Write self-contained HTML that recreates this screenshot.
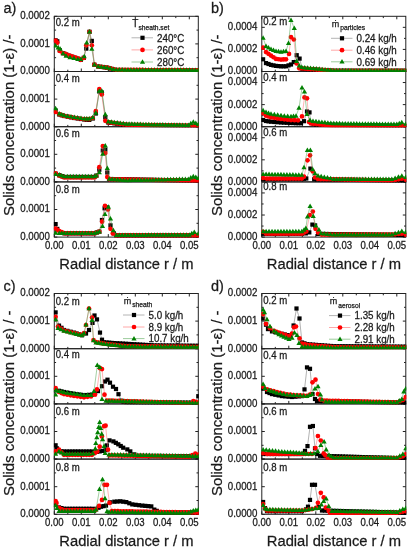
<!DOCTYPE html><html><head><meta charset="utf-8"><style>html,body{margin:0;padding:0;background:#fff;width:409px;height:550px;overflow:hidden}svg{display:block}text{font-family:"Liberation Sans", Arial, sans-serif;fill:#1a1a1a;stroke:#1a1a1a;stroke-width:0.25px}</style></head><body>
<svg width="409" height="550" viewBox="0 0 409 550">
<rect width="409" height="550" fill="#fff"/>
<g stroke="#222" stroke-width="1" fill="none">
<rect x="54.30" y="16.30" width="144.00" height="55.20"/>
<path d="M54.30 71.50V68.50M54.30 16.30V19.30"/>
<path d="M67.80 71.50V69.70M67.80 16.30V18.10"/>
<path d="M81.30 71.50V68.50M81.30 16.30V19.30"/>
<path d="M94.80 71.50V69.70M94.80 16.30V18.10"/>
<path d="M108.30 71.50V68.50M108.30 16.30V19.30"/>
<path d="M121.80 71.50V69.70M121.80 16.30V18.10"/>
<path d="M135.30 71.50V68.50M135.30 16.30V19.30"/>
<path d="M148.80 71.50V69.70M148.80 16.30V18.10"/>
<path d="M162.30 71.50V68.50M162.30 16.30V19.30"/>
<path d="M175.80 71.50V69.70M175.80 16.30V18.10"/>
<path d="M189.30 71.50V68.50M189.30 16.30V19.30"/>
<path d="M54.30 71.50H57.30M198.30 71.50H195.30"/>
<path d="M54.30 43.90H57.30M198.30 43.90H195.30"/>
<path d="M54.30 16.30H57.30M198.30 16.30H195.30"/>
<path d="M54.30 57.70H56.10M198.30 57.70H196.50"/>
<path d="M54.30 30.10H56.10M198.30 30.10H196.50"/>
<rect x="54.30" y="71.50" width="144.00" height="55.20"/>
<path d="M54.30 126.70V123.70"/>
<path d="M67.80 126.70V124.90"/>
<path d="M81.30 126.70V123.70"/>
<path d="M94.80 126.70V124.90"/>
<path d="M108.30 126.70V123.70"/>
<path d="M121.80 126.70V124.90"/>
<path d="M135.30 126.70V123.70"/>
<path d="M148.80 126.70V124.90"/>
<path d="M162.30 126.70V123.70"/>
<path d="M175.80 126.70V124.90"/>
<path d="M189.30 126.70V123.70"/>
<path d="M54.30 126.70H57.30M198.30 126.70H195.30"/>
<path d="M54.30 99.10H57.30M198.30 99.10H195.30"/>
<path d="M54.30 71.50H57.30M198.30 71.50H195.30"/>
<path d="M54.30 112.90H56.10M198.30 112.90H196.50"/>
<path d="M54.30 85.30H56.10M198.30 85.30H196.50"/>
<rect x="54.30" y="126.70" width="144.00" height="55.20"/>
<path d="M54.30 181.90V178.90"/>
<path d="M67.80 181.90V180.10"/>
<path d="M81.30 181.90V178.90"/>
<path d="M94.80 181.90V180.10"/>
<path d="M108.30 181.90V178.90"/>
<path d="M121.80 181.90V180.10"/>
<path d="M135.30 181.90V178.90"/>
<path d="M148.80 181.90V180.10"/>
<path d="M162.30 181.90V178.90"/>
<path d="M175.80 181.90V180.10"/>
<path d="M189.30 181.90V178.90"/>
<path d="M54.30 181.90H57.30M198.30 181.90H195.30"/>
<path d="M54.30 154.30H57.30M198.30 154.30H195.30"/>
<path d="M54.30 126.70H57.30M198.30 126.70H195.30"/>
<path d="M54.30 168.10H56.10M198.30 168.10H196.50"/>
<path d="M54.30 140.50H56.10M198.30 140.50H196.50"/>
<rect x="54.30" y="181.90" width="144.00" height="55.20"/>
<path d="M54.30 237.10V234.10"/>
<path d="M67.80 237.10V235.30"/>
<path d="M81.30 237.10V234.10"/>
<path d="M94.80 237.10V235.30"/>
<path d="M108.30 237.10V234.10"/>
<path d="M121.80 237.10V235.30"/>
<path d="M135.30 237.10V234.10"/>
<path d="M148.80 237.10V235.30"/>
<path d="M162.30 237.10V234.10"/>
<path d="M175.80 237.10V235.30"/>
<path d="M189.30 237.10V234.10"/>
<path d="M54.30 237.10H57.30M198.30 237.10H195.30"/>
<path d="M54.30 209.50H57.30M198.30 209.50H195.30"/>
<path d="M54.30 181.90H57.30M198.30 181.90H195.30"/>
<path d="M54.30 223.30H56.10M198.30 223.30H196.50"/>
<path d="M54.30 195.70H56.10M198.30 195.70H196.50"/>
</g>
<clipPath id="clipa0"><rect x="53.80" y="16.30" width="145.00" height="55.80"/></clipPath>
<g clip-path="url(#clipa0)">
<path d="M55.60 40.30 L57.30 41.30 L59.80 50.30 L63.30 53.30 L66.30 54.55 L69.30 55.80 L72.30 56.80 L75.30 57.80 L78.05 58.80 L80.80 59.80 L83.80 57.80 L86.30 48.60 L89.50 31.80 L91.80 40.90 L94.40 64.70 L98.30 66.50 L101.30 66.90 L104.30 67.30 L107.30 67.70 L110.30 68.47 L113.30 69.23 L116.30 70.00 L119.23 70.02 L122.16 70.04 L125.09 70.05 L128.01 70.07 L130.94 70.09 L133.87 70.11 L136.80 70.12 L139.73 70.14 L142.66 70.16 L145.59 70.18 L148.51 70.20 L151.44 70.21 L154.37 70.23 L157.30 70.25 L160.23 70.27 L163.16 70.29 L166.09 70.30 L169.01 70.32 L171.94 70.34 L174.87 70.36 L177.80 70.38 L180.73 70.39 L183.66 70.41 L186.59 70.43 L189.51 70.45 L192.44 70.46 L195.37 70.48 L198.30 70.50" fill="none" stroke="#666666" stroke-width="0.5"/><g fill="#000000"><rect x="53.50" y="38.20" width="4.2" height="4.2"/><rect x="55.20" y="39.20" width="4.2" height="4.2"/><rect x="57.70" y="48.20" width="4.2" height="4.2"/><rect x="61.20" y="51.20" width="4.2" height="4.2"/><rect x="64.20" y="52.45" width="4.2" height="4.2"/><rect x="67.20" y="53.70" width="4.2" height="4.2"/><rect x="70.20" y="54.70" width="4.2" height="4.2"/><rect x="73.20" y="55.70" width="4.2" height="4.2"/><rect x="75.95" y="56.70" width="4.2" height="4.2"/><rect x="78.70" y="57.70" width="4.2" height="4.2"/><rect x="81.70" y="55.70" width="4.2" height="4.2"/><rect x="84.20" y="46.50" width="4.2" height="4.2"/><rect x="87.40" y="29.70" width="4.2" height="4.2"/><rect x="89.70" y="38.80" width="4.2" height="4.2"/><rect x="92.30" y="62.60" width="4.2" height="4.2"/><rect x="96.20" y="64.40" width="4.2" height="4.2"/><rect x="99.20" y="64.80" width="4.2" height="4.2"/><rect x="102.20" y="65.20" width="4.2" height="4.2"/><rect x="105.20" y="65.60" width="4.2" height="4.2"/><rect x="108.20" y="66.37" width="4.2" height="4.2"/><rect x="111.20" y="67.13" width="4.2" height="4.2"/><rect x="114.20" y="67.90" width="4.2" height="4.2"/><rect x="117.13" y="67.92" width="4.2" height="4.2"/><rect x="120.06" y="67.94" width="4.2" height="4.2"/><rect x="122.99" y="67.95" width="4.2" height="4.2"/><rect x="125.91" y="67.97" width="4.2" height="4.2"/><rect x="128.84" y="67.99" width="4.2" height="4.2"/><rect x="131.77" y="68.01" width="4.2" height="4.2"/><rect x="134.70" y="68.03" width="4.2" height="4.2"/><rect x="137.63" y="68.04" width="4.2" height="4.2"/><rect x="140.56" y="68.06" width="4.2" height="4.2"/><rect x="143.49" y="68.08" width="4.2" height="4.2"/><rect x="146.41" y="68.10" width="4.2" height="4.2"/><rect x="149.34" y="68.11" width="4.2" height="4.2"/><rect x="152.27" y="68.13" width="4.2" height="4.2"/><rect x="155.20" y="68.15" width="4.2" height="4.2"/><rect x="158.13" y="68.17" width="4.2" height="4.2"/><rect x="161.06" y="68.19" width="4.2" height="4.2"/><rect x="163.99" y="68.20" width="4.2" height="4.2"/><rect x="166.91" y="68.22" width="4.2" height="4.2"/><rect x="169.84" y="68.24" width="4.2" height="4.2"/><rect x="172.77" y="68.26" width="4.2" height="4.2"/><rect x="175.70" y="68.28" width="4.2" height="4.2"/><rect x="178.63" y="68.29" width="4.2" height="4.2"/><rect x="181.56" y="68.31" width="4.2" height="4.2"/><rect x="184.49" y="68.33" width="4.2" height="4.2"/><rect x="187.41" y="68.35" width="4.2" height="4.2"/><rect x="190.34" y="68.36" width="4.2" height="4.2"/><rect x="193.27" y="68.38" width="4.2" height="4.2"/><rect x="196.20" y="68.40" width="4.2" height="4.2"/></g>
<path d="M55.60 40.70 L57.30 42.70 L59.70 51.00 L62.60 53.00 L65.60 53.90 L69.00 55.40 L71.90 56.40 L74.90 57.40 L77.80 58.30 L80.80 59.80 L83.70 57.90 L86.30 45.30 L89.50 31.80 L91.80 45.30 L94.40 64.70 L98.30 66.50 L101.30 66.90 L104.30 67.30 L107.30 67.70 L110.30 68.40 L113.30 69.10 L116.30 69.80 L119.23 69.82 L122.16 69.84 L125.09 69.85 L128.01 69.87 L130.94 69.89 L133.87 69.91 L136.80 69.92 L139.73 69.94 L142.66 69.96 L145.59 69.98 L148.51 70.00 L151.44 70.01 L154.37 70.03 L157.30 70.05 L160.23 70.07 L163.16 70.09 L166.09 70.10 L169.01 70.12 L171.94 70.14 L174.87 70.16 L177.80 70.17 L180.73 70.19 L183.66 70.21 L186.59 70.23 L189.51 70.25 L192.44 70.26 L195.37 70.28 L198.30 70.30" fill="none" stroke="#ff6a6a" stroke-width="0.5"/><g fill="#ff0000"><circle cx="55.60" cy="40.70" r="2.35"/><circle cx="57.30" cy="42.70" r="2.35"/><circle cx="59.70" cy="51.00" r="2.35"/><circle cx="62.60" cy="53.00" r="2.35"/><circle cx="65.60" cy="53.90" r="2.35"/><circle cx="69.00" cy="55.40" r="2.35"/><circle cx="71.90" cy="56.40" r="2.35"/><circle cx="74.90" cy="57.40" r="2.35"/><circle cx="77.80" cy="58.30" r="2.35"/><circle cx="80.80" cy="59.80" r="2.35"/><circle cx="83.70" cy="57.90" r="2.35"/><circle cx="86.30" cy="45.30" r="2.35"/><circle cx="89.50" cy="31.80" r="2.35"/><circle cx="91.80" cy="45.30" r="2.35"/><circle cx="94.40" cy="64.70" r="2.35"/><circle cx="98.30" cy="66.50" r="2.35"/><circle cx="101.30" cy="66.90" r="2.35"/><circle cx="104.30" cy="67.30" r="2.35"/><circle cx="107.30" cy="67.70" r="2.35"/><circle cx="110.30" cy="68.40" r="2.35"/><circle cx="113.30" cy="69.10" r="2.35"/><circle cx="116.30" cy="69.80" r="2.35"/><circle cx="119.23" cy="69.82" r="2.35"/><circle cx="122.16" cy="69.84" r="2.35"/><circle cx="125.09" cy="69.85" r="2.35"/><circle cx="128.01" cy="69.87" r="2.35"/><circle cx="130.94" cy="69.89" r="2.35"/><circle cx="133.87" cy="69.91" r="2.35"/><circle cx="136.80" cy="69.92" r="2.35"/><circle cx="139.73" cy="69.94" r="2.35"/><circle cx="142.66" cy="69.96" r="2.35"/><circle cx="145.59" cy="69.98" r="2.35"/><circle cx="148.51" cy="70.00" r="2.35"/><circle cx="151.44" cy="70.01" r="2.35"/><circle cx="154.37" cy="70.03" r="2.35"/><circle cx="157.30" cy="70.05" r="2.35"/><circle cx="160.23" cy="70.07" r="2.35"/><circle cx="163.16" cy="70.09" r="2.35"/><circle cx="166.09" cy="70.10" r="2.35"/><circle cx="169.01" cy="70.12" r="2.35"/><circle cx="171.94" cy="70.14" r="2.35"/><circle cx="174.87" cy="70.16" r="2.35"/><circle cx="177.80" cy="70.17" r="2.35"/><circle cx="180.73" cy="70.19" r="2.35"/><circle cx="183.66" cy="70.21" r="2.35"/><circle cx="186.59" cy="70.23" r="2.35"/><circle cx="189.51" cy="70.25" r="2.35"/><circle cx="192.44" cy="70.26" r="2.35"/><circle cx="195.37" cy="70.28" r="2.35"/><circle cx="198.30" cy="70.30" r="2.35"/></g>
<path d="M55.60 45.60 L58.20 47.60 L60.20 49.00 L63.10 53.50 L66.10 55.90 L70.00 57.40 L73.90 58.30 L77.80 59.30 L80.80 59.30 L84.20 56.40 L86.70 42.70 L89.50 31.80 L91.80 48.90 L94.40 64.70 L98.30 66.50 L101.30 66.90 L104.30 67.30 L107.30 67.70 L110.30 68.40 L113.30 69.10 L116.30 69.80 L119.23 69.81 L122.16 69.82 L125.09 69.83 L128.01 69.84 L130.94 69.85 L133.87 69.86 L136.80 69.88 L139.73 69.89 L142.66 69.90 L145.59 69.91 L148.51 69.92 L151.44 69.93 L154.37 69.94 L157.30 69.95 L160.23 69.96 L163.16 69.97 L166.09 69.98 L169.01 69.99 L171.94 70.00 L174.87 70.01 L177.80 70.03 L180.73 70.04 L183.66 70.05 L186.59 70.06 L189.51 70.07 L192.44 70.08 L195.37 70.09 L198.30 70.10" fill="none" stroke="#4aa04a" stroke-width="0.5"/><g fill="#008000"><path d="M55.60 42.90L58.20 47.40L53.00 47.40Z"/><path d="M58.20 44.90L60.80 49.40L55.60 49.40Z"/><path d="M60.20 46.30L62.80 50.80L57.60 50.80Z"/><path d="M63.10 50.80L65.70 55.30L60.50 55.30Z"/><path d="M66.10 53.20L68.70 57.70L63.50 57.70Z"/><path d="M70.00 54.70L72.60 59.20L67.40 59.20Z"/><path d="M73.90 55.60L76.50 60.10L71.30 60.10Z"/><path d="M77.80 56.60L80.40 61.10L75.20 61.10Z"/><path d="M80.80 56.60L83.40 61.10L78.20 61.10Z"/><path d="M84.20 53.70L86.80 58.20L81.60 58.20Z"/><path d="M86.70 40.00L89.30 44.50L84.10 44.50Z"/><path d="M89.50 29.10L92.10 33.60L86.90 33.60Z"/><path d="M91.80 46.20L94.40 50.70L89.20 50.70Z"/><path d="M94.40 62.00L97.00 66.50L91.80 66.50Z"/><path d="M98.30 63.80L100.90 68.30L95.70 68.30Z"/><path d="M101.30 64.20L103.90 68.70L98.70 68.70Z"/><path d="M104.30 64.60L106.90 69.10L101.70 69.10Z"/><path d="M107.30 65.00L109.90 69.50L104.70 69.50Z"/><path d="M110.30 65.70L112.90 70.20L107.70 70.20Z"/><path d="M113.30 66.40L115.90 70.90L110.70 70.90Z"/><path d="M116.30 67.10L118.90 71.60L113.70 71.60Z"/><path d="M119.23 67.11L121.83 71.61L116.63 71.61Z"/><path d="M122.16 67.12L124.76 71.62L119.56 71.62Z"/><path d="M125.09 67.13L127.69 71.63L122.49 71.63Z"/><path d="M128.01 67.14L130.61 71.64L125.41 71.64Z"/><path d="M130.94 67.15L133.54 71.65L128.34 71.65Z"/><path d="M133.87 67.16L136.47 71.66L131.27 71.66Z"/><path d="M136.80 67.17L139.40 71.67L134.20 71.67Z"/><path d="M139.73 67.19L142.33 71.69L137.13 71.69Z"/><path d="M142.66 67.20L145.26 71.70L140.06 71.70Z"/><path d="M145.59 67.21L148.19 71.71L142.99 71.71Z"/><path d="M148.51 67.22L151.11 71.72L145.91 71.72Z"/><path d="M151.44 67.23L154.04 71.73L148.84 71.73Z"/><path d="M154.37 67.24L156.97 71.74L151.77 71.74Z"/><path d="M157.30 67.25L159.90 71.75L154.70 71.75Z"/><path d="M160.23 67.26L162.83 71.76L157.63 71.76Z"/><path d="M163.16 67.27L165.76 71.77L160.56 71.77Z"/><path d="M166.09 67.28L168.69 71.78L163.49 71.78Z"/><path d="M169.01 67.29L171.61 71.79L166.41 71.79Z"/><path d="M171.94 67.30L174.54 71.80L169.34 71.80Z"/><path d="M174.87 67.31L177.47 71.81L172.27 71.81Z"/><path d="M177.80 67.33L180.40 71.83L175.20 71.83Z"/><path d="M180.73 67.34L183.33 71.84L178.13 71.84Z"/><path d="M183.66 67.35L186.26 71.85L181.06 71.85Z"/><path d="M186.59 67.36L189.19 71.86L183.99 71.86Z"/><path d="M189.51 67.37L192.11 71.87L186.91 71.87Z"/><path d="M192.44 67.38L195.04 71.88L189.84 71.88Z"/><path d="M195.37 67.39L197.97 71.89L192.77 71.89Z"/><path d="M198.30 67.40L200.90 71.90L195.70 71.90Z"/></g>
</g>
<clipPath id="clipa1"><rect x="53.80" y="71.50" width="145.00" height="55.80"/></clipPath>
<g clip-path="url(#clipa1)">
<path d="M55.60 110.50 L59.30 114.50 L61.80 115.25 L64.30 116.00 L67.63 116.67 L70.97 117.33 L74.30 118.00 L77.63 118.50 L80.97 119.00 L84.30 119.50 L86.80 119.70 L89.30 119.90 L92.80 118.50 L95.80 113.50 L99.30 91.50 L101.80 92.50 L105.30 117.30 L108.30 122.50 L111.30 122.90 L114.30 123.30 L117.30 123.70 L120.30 124.10 L123.30 124.50 L126.30 124.90 L129.18 124.94 L132.06 124.99 L134.94 125.03 L137.82 125.08 L140.70 125.12 L143.58 125.16 L146.46 125.21 L149.34 125.25 L152.22 125.30 L155.10 125.34 L157.98 125.38 L160.86 125.43 L163.74 125.47 L166.62 125.52 L169.50 125.56 L172.38 125.60 L175.26 125.65 L178.14 125.69 L181.02 125.74 L183.90 125.78 L186.78 125.82 L189.66 125.87 L192.54 125.91 L195.42 125.96 L198.30 126.00" fill="none" stroke="#666666" stroke-width="0.5"/><g fill="#000000"><rect x="53.50" y="108.40" width="4.2" height="4.2"/><rect x="57.20" y="112.40" width="4.2" height="4.2"/><rect x="59.70" y="113.15" width="4.2" height="4.2"/><rect x="62.20" y="113.90" width="4.2" height="4.2"/><rect x="65.53" y="114.57" width="4.2" height="4.2"/><rect x="68.87" y="115.23" width="4.2" height="4.2"/><rect x="72.20" y="115.90" width="4.2" height="4.2"/><rect x="75.53" y="116.40" width="4.2" height="4.2"/><rect x="78.87" y="116.90" width="4.2" height="4.2"/><rect x="82.20" y="117.40" width="4.2" height="4.2"/><rect x="84.70" y="117.60" width="4.2" height="4.2"/><rect x="87.20" y="117.80" width="4.2" height="4.2"/><rect x="90.70" y="116.40" width="4.2" height="4.2"/><rect x="93.70" y="111.40" width="4.2" height="4.2"/><rect x="97.20" y="89.40" width="4.2" height="4.2"/><rect x="99.70" y="90.40" width="4.2" height="4.2"/><rect x="103.20" y="115.20" width="4.2" height="4.2"/><rect x="106.20" y="120.40" width="4.2" height="4.2"/><rect x="109.20" y="120.80" width="4.2" height="4.2"/><rect x="112.20" y="121.20" width="4.2" height="4.2"/><rect x="115.20" y="121.60" width="4.2" height="4.2"/><rect x="118.20" y="122.00" width="4.2" height="4.2"/><rect x="121.20" y="122.40" width="4.2" height="4.2"/><rect x="124.20" y="122.80" width="4.2" height="4.2"/><rect x="127.08" y="122.84" width="4.2" height="4.2"/><rect x="129.96" y="122.89" width="4.2" height="4.2"/><rect x="132.84" y="122.93" width="4.2" height="4.2"/><rect x="135.72" y="122.98" width="4.2" height="4.2"/><rect x="138.60" y="123.02" width="4.2" height="4.2"/><rect x="141.48" y="123.06" width="4.2" height="4.2"/><rect x="144.36" y="123.11" width="4.2" height="4.2"/><rect x="147.24" y="123.15" width="4.2" height="4.2"/><rect x="150.12" y="123.20" width="4.2" height="4.2"/><rect x="153.00" y="123.24" width="4.2" height="4.2"/><rect x="155.88" y="123.28" width="4.2" height="4.2"/><rect x="158.76" y="123.33" width="4.2" height="4.2"/><rect x="161.64" y="123.37" width="4.2" height="4.2"/><rect x="164.52" y="123.42" width="4.2" height="4.2"/><rect x="167.40" y="123.46" width="4.2" height="4.2"/><rect x="170.28" y="123.50" width="4.2" height="4.2"/><rect x="173.16" y="123.55" width="4.2" height="4.2"/><rect x="176.04" y="123.59" width="4.2" height="4.2"/><rect x="178.92" y="123.64" width="4.2" height="4.2"/><rect x="181.80" y="123.68" width="4.2" height="4.2"/><rect x="184.68" y="123.72" width="4.2" height="4.2"/><rect x="187.56" y="123.77" width="4.2" height="4.2"/><rect x="190.44" y="123.81" width="4.2" height="4.2"/><rect x="193.32" y="123.86" width="4.2" height="4.2"/><rect x="196.20" y="123.90" width="4.2" height="4.2"/></g>
<path d="M55.60 112.00 L59.30 114.30 L61.80 115.15 L64.30 116.00 L67.63 116.60 L70.97 117.20 L74.30 117.80 L77.63 118.27 L80.97 118.73 L84.30 119.20 L86.80 119.20 L89.30 119.20 L92.80 118.00 L95.80 111.10 L99.30 89.10 L101.80 94.40 L105.30 120.80 L108.30 122.30 L111.30 122.70 L114.30 123.10 L117.30 123.50 L120.30 123.90 L123.30 124.30 L126.30 124.70 L129.18 124.75 L132.06 124.80 L134.94 124.84 L137.82 124.89 L140.70 124.94 L143.58 124.99 L146.46 125.04 L149.34 125.08 L152.22 125.13 L155.10 125.18 L157.98 125.23 L160.86 125.28 L163.74 125.32 L166.62 125.37 L169.50 125.42 L172.38 125.47 L175.26 125.52 L178.14 125.56 L181.02 125.61 L183.90 125.66 L186.78 125.71 L189.66 125.76 L192.54 125.80 L195.42 125.85 L198.30 125.90" fill="none" stroke="#ff6a6a" stroke-width="0.5"/><g fill="#ff0000"><circle cx="55.60" cy="112.00" r="2.35"/><circle cx="59.30" cy="114.30" r="2.35"/><circle cx="61.80" cy="115.15" r="2.35"/><circle cx="64.30" cy="116.00" r="2.35"/><circle cx="67.63" cy="116.60" r="2.35"/><circle cx="70.97" cy="117.20" r="2.35"/><circle cx="74.30" cy="117.80" r="2.35"/><circle cx="77.63" cy="118.27" r="2.35"/><circle cx="80.97" cy="118.73" r="2.35"/><circle cx="84.30" cy="119.20" r="2.35"/><circle cx="86.80" cy="119.20" r="2.35"/><circle cx="89.30" cy="119.20" r="2.35"/><circle cx="92.80" cy="118.00" r="2.35"/><circle cx="95.80" cy="111.10" r="2.35"/><circle cx="99.30" cy="89.10" r="2.35"/><circle cx="101.80" cy="94.40" r="2.35"/><circle cx="105.30" cy="120.80" r="2.35"/><circle cx="108.30" cy="122.30" r="2.35"/><circle cx="111.30" cy="122.70" r="2.35"/><circle cx="114.30" cy="123.10" r="2.35"/><circle cx="117.30" cy="123.50" r="2.35"/><circle cx="120.30" cy="123.90" r="2.35"/><circle cx="123.30" cy="124.30" r="2.35"/><circle cx="126.30" cy="124.70" r="2.35"/><circle cx="129.18" cy="124.75" r="2.35"/><circle cx="132.06" cy="124.80" r="2.35"/><circle cx="134.94" cy="124.84" r="2.35"/><circle cx="137.82" cy="124.89" r="2.35"/><circle cx="140.70" cy="124.94" r="2.35"/><circle cx="143.58" cy="124.99" r="2.35"/><circle cx="146.46" cy="125.04" r="2.35"/><circle cx="149.34" cy="125.08" r="2.35"/><circle cx="152.22" cy="125.13" r="2.35"/><circle cx="155.10" cy="125.18" r="2.35"/><circle cx="157.98" cy="125.23" r="2.35"/><circle cx="160.86" cy="125.28" r="2.35"/><circle cx="163.74" cy="125.32" r="2.35"/><circle cx="166.62" cy="125.37" r="2.35"/><circle cx="169.50" cy="125.42" r="2.35"/><circle cx="172.38" cy="125.47" r="2.35"/><circle cx="175.26" cy="125.52" r="2.35"/><circle cx="178.14" cy="125.56" r="2.35"/><circle cx="181.02" cy="125.61" r="2.35"/><circle cx="183.90" cy="125.66" r="2.35"/><circle cx="186.78" cy="125.71" r="2.35"/><circle cx="189.66" cy="125.76" r="2.35"/><circle cx="192.54" cy="125.80" r="2.35"/><circle cx="195.42" cy="125.85" r="2.35"/><circle cx="198.30" cy="125.90" r="2.35"/></g>
<path d="M55.60 108.50 L59.30 113.80 L61.80 114.65 L64.30 115.50 L67.63 116.10 L70.97 116.70 L74.30 117.30 L77.63 117.77 L80.97 118.23 L84.30 118.70 L86.80 118.70 L89.30 118.70 L92.80 117.50 L95.80 112.90 L99.30 90.90 L101.80 90.90 L105.30 114.50 L108.30 121.70 L111.30 122.07 L114.30 122.43 L117.30 122.80 L120.30 123.17 L123.30 123.53 L126.30 123.90 L129.10 123.98 L131.90 124.06 L134.70 124.14 L137.50 124.22 L140.30 124.30 L143.10 124.38 L145.90 124.46 L148.70 124.54 L151.50 124.62 L154.30 124.70 L157.13 124.74 L159.97 124.78 L162.80 124.82 L165.63 124.87 L168.47 124.91 L171.30 124.95 L174.13 124.99 L176.97 125.03 L179.80 125.07 L182.63 125.12 L185.47 125.16 L188.30 125.20 L190.80 123.55 L193.30 121.90 L195.80 123.15 L198.30 124.40" fill="none" stroke="#4aa04a" stroke-width="0.5"/><g fill="#008000"><path d="M55.60 105.80L58.20 110.30L53.00 110.30Z"/><path d="M59.30 111.10L61.90 115.60L56.70 115.60Z"/><path d="M61.80 111.95L64.40 116.45L59.20 116.45Z"/><path d="M64.30 112.80L66.90 117.30L61.70 117.30Z"/><path d="M67.63 113.40L70.23 117.90L65.03 117.90Z"/><path d="M70.97 114.00L73.57 118.50L68.37 118.50Z"/><path d="M74.30 114.60L76.90 119.10L71.70 119.10Z"/><path d="M77.63 115.07L80.23 119.57L75.03 119.57Z"/><path d="M80.97 115.53L83.57 120.03L78.37 120.03Z"/><path d="M84.30 116.00L86.90 120.50L81.70 120.50Z"/><path d="M86.80 116.00L89.40 120.50L84.20 120.50Z"/><path d="M89.30 116.00L91.90 120.50L86.70 120.50Z"/><path d="M92.80 114.80L95.40 119.30L90.20 119.30Z"/><path d="M95.80 110.20L98.40 114.70L93.20 114.70Z"/><path d="M99.30 88.20L101.90 92.70L96.70 92.70Z"/><path d="M101.80 88.20L104.40 92.70L99.20 92.70Z"/><path d="M105.30 111.80L107.90 116.30L102.70 116.30Z"/><path d="M108.30 119.00L110.90 123.50L105.70 123.50Z"/><path d="M111.30 119.37L113.90 123.87L108.70 123.87Z"/><path d="M114.30 119.73L116.90 124.23L111.70 124.23Z"/><path d="M117.30 120.10L119.90 124.60L114.70 124.60Z"/><path d="M120.30 120.47L122.90 124.97L117.70 124.97Z"/><path d="M123.30 120.83L125.90 125.33L120.70 125.33Z"/><path d="M126.30 121.20L128.90 125.70L123.70 125.70Z"/><path d="M129.10 121.28L131.70 125.78L126.50 125.78Z"/><path d="M131.90 121.36L134.50 125.86L129.30 125.86Z"/><path d="M134.70 121.44L137.30 125.94L132.10 125.94Z"/><path d="M137.50 121.52L140.10 126.02L134.90 126.02Z"/><path d="M140.30 121.60L142.90 126.10L137.70 126.10Z"/><path d="M143.10 121.68L145.70 126.18L140.50 126.18Z"/><path d="M145.90 121.76L148.50 126.26L143.30 126.26Z"/><path d="M148.70 121.84L151.30 126.34L146.10 126.34Z"/><path d="M151.50 121.92L154.10 126.42L148.90 126.42Z"/><path d="M154.30 122.00L156.90 126.50L151.70 126.50Z"/><path d="M157.13 122.04L159.73 126.54L154.53 126.54Z"/><path d="M159.97 122.08L162.57 126.58L157.37 126.58Z"/><path d="M162.80 122.12L165.40 126.62L160.20 126.62Z"/><path d="M165.63 122.17L168.23 126.67L163.03 126.67Z"/><path d="M168.47 122.21L171.07 126.71L165.87 126.71Z"/><path d="M171.30 122.25L173.90 126.75L168.70 126.75Z"/><path d="M174.13 122.29L176.73 126.79L171.53 126.79Z"/><path d="M176.97 122.33L179.57 126.83L174.37 126.83Z"/><path d="M179.80 122.37L182.40 126.87L177.20 126.87Z"/><path d="M182.63 122.42L185.23 126.92L180.03 126.92Z"/><path d="M185.47 122.46L188.07 126.96L182.87 126.96Z"/><path d="M188.30 122.50L190.90 127.00L185.70 127.00Z"/><path d="M190.80 120.85L193.40 125.35L188.20 125.35Z"/><path d="M193.30 119.20L195.90 123.70L190.70 123.70Z"/><path d="M195.80 120.45L198.40 124.95L193.20 124.95Z"/><path d="M198.30 121.70L200.90 126.20L195.70 126.20Z"/></g>
</g>
<clipPath id="clipa2"><rect x="53.80" y="126.70" width="145.00" height="55.80"/></clipPath>
<g clip-path="url(#clipa2)">
<path d="M55.60 173.70 L59.30 175.20 L61.80 176.10 L64.30 177.00 L67.30 177.00 L70.30 177.00 L73.30 177.00 L76.30 177.00 L79.30 177.00 L82.30 177.00 L85.30 177.00 L88.30 177.00 L91.30 177.00 L94.30 177.00 L96.30 175.60 L99.30 169.70 L102.80 150.50 L105.30 149.60 L107.30 172.50 L109.30 179.00 L112.17 179.06 L115.04 179.12 L117.91 179.17 L120.78 179.23 L123.65 179.29 L126.53 179.35 L129.40 179.41 L132.27 179.46 L135.14 179.52 L138.01 179.58 L140.88 179.64 L143.75 179.70 L146.62 179.75 L149.49 179.81 L152.36 179.87 L155.24 179.93 L158.11 179.99 L160.98 180.05 L163.85 180.10 L166.72 180.16 L169.59 180.22 L172.46 180.28 L175.33 180.34 L178.20 180.39 L181.07 180.45 L183.95 180.51 L186.82 180.57 L189.69 180.63 L192.56 180.68 L195.43 180.74 L198.30 180.80" fill="none" stroke="#666666" stroke-width="0.5"/><g fill="#000000"><rect x="53.50" y="171.60" width="4.2" height="4.2"/><rect x="57.20" y="173.10" width="4.2" height="4.2"/><rect x="59.70" y="174.00" width="4.2" height="4.2"/><rect x="62.20" y="174.90" width="4.2" height="4.2"/><rect x="65.20" y="174.90" width="4.2" height="4.2"/><rect x="68.20" y="174.90" width="4.2" height="4.2"/><rect x="71.20" y="174.90" width="4.2" height="4.2"/><rect x="74.20" y="174.90" width="4.2" height="4.2"/><rect x="77.20" y="174.90" width="4.2" height="4.2"/><rect x="80.20" y="174.90" width="4.2" height="4.2"/><rect x="83.20" y="174.90" width="4.2" height="4.2"/><rect x="86.20" y="174.90" width="4.2" height="4.2"/><rect x="89.20" y="174.90" width="4.2" height="4.2"/><rect x="92.20" y="174.90" width="4.2" height="4.2"/><rect x="94.20" y="173.50" width="4.2" height="4.2"/><rect x="97.20" y="167.60" width="4.2" height="4.2"/><rect x="100.70" y="148.40" width="4.2" height="4.2"/><rect x="103.20" y="147.50" width="4.2" height="4.2"/><rect x="105.20" y="170.40" width="4.2" height="4.2"/><rect x="107.20" y="176.90" width="4.2" height="4.2"/><rect x="110.07" y="176.96" width="4.2" height="4.2"/><rect x="112.94" y="177.02" width="4.2" height="4.2"/><rect x="115.81" y="177.07" width="4.2" height="4.2"/><rect x="118.68" y="177.13" width="4.2" height="4.2"/><rect x="121.55" y="177.19" width="4.2" height="4.2"/><rect x="124.43" y="177.25" width="4.2" height="4.2"/><rect x="127.30" y="177.31" width="4.2" height="4.2"/><rect x="130.17" y="177.36" width="4.2" height="4.2"/><rect x="133.04" y="177.42" width="4.2" height="4.2"/><rect x="135.91" y="177.48" width="4.2" height="4.2"/><rect x="138.78" y="177.54" width="4.2" height="4.2"/><rect x="141.65" y="177.60" width="4.2" height="4.2"/><rect x="144.52" y="177.65" width="4.2" height="4.2"/><rect x="147.39" y="177.71" width="4.2" height="4.2"/><rect x="150.26" y="177.77" width="4.2" height="4.2"/><rect x="153.14" y="177.83" width="4.2" height="4.2"/><rect x="156.01" y="177.89" width="4.2" height="4.2"/><rect x="158.88" y="177.95" width="4.2" height="4.2"/><rect x="161.75" y="178.00" width="4.2" height="4.2"/><rect x="164.62" y="178.06" width="4.2" height="4.2"/><rect x="167.49" y="178.12" width="4.2" height="4.2"/><rect x="170.36" y="178.18" width="4.2" height="4.2"/><rect x="173.23" y="178.24" width="4.2" height="4.2"/><rect x="176.10" y="178.29" width="4.2" height="4.2"/><rect x="178.97" y="178.35" width="4.2" height="4.2"/><rect x="181.85" y="178.41" width="4.2" height="4.2"/><rect x="184.72" y="178.47" width="4.2" height="4.2"/><rect x="187.59" y="178.53" width="4.2" height="4.2"/><rect x="190.46" y="178.58" width="4.2" height="4.2"/><rect x="193.33" y="178.64" width="4.2" height="4.2"/><rect x="196.20" y="178.70" width="4.2" height="4.2"/></g>
<path d="M55.60 173.40 L59.30 175.70 L61.80 176.60 L64.30 177.50 L67.30 177.50 L70.30 177.50 L73.30 177.50 L76.30 177.50 L79.30 177.50 L82.30 177.50 L85.30 177.50 L88.30 177.50 L91.30 177.50 L94.30 177.50 L96.30 176.10 L99.30 167.20 L102.80 146.10 L105.30 153.10 L107.30 176.90 L109.30 179.20 L112.17 179.25 L115.04 179.30 L117.91 179.35 L120.78 179.41 L123.65 179.46 L126.53 179.51 L129.40 179.56 L132.27 179.61 L135.14 179.66 L138.01 179.72 L140.88 179.77 L143.75 179.82 L146.62 179.87 L149.49 179.92 L152.36 179.97 L155.24 180.03 L158.11 180.08 L160.98 180.13 L163.85 180.18 L166.72 180.23 L169.59 180.28 L172.46 180.34 L175.33 180.39 L178.20 180.44 L181.07 180.49 L183.95 180.54 L186.82 180.59 L189.69 180.65 L192.56 180.70 L195.43 180.75 L198.30 180.80" fill="none" stroke="#ff6a6a" stroke-width="0.5"/><g fill="#ff0000"><circle cx="55.60" cy="173.40" r="2.35"/><circle cx="59.30" cy="175.70" r="2.35"/><circle cx="61.80" cy="176.60" r="2.35"/><circle cx="64.30" cy="177.50" r="2.35"/><circle cx="67.30" cy="177.50" r="2.35"/><circle cx="70.30" cy="177.50" r="2.35"/><circle cx="73.30" cy="177.50" r="2.35"/><circle cx="76.30" cy="177.50" r="2.35"/><circle cx="79.30" cy="177.50" r="2.35"/><circle cx="82.30" cy="177.50" r="2.35"/><circle cx="85.30" cy="177.50" r="2.35"/><circle cx="88.30" cy="177.50" r="2.35"/><circle cx="91.30" cy="177.50" r="2.35"/><circle cx="94.30" cy="177.50" r="2.35"/><circle cx="96.30" cy="176.10" r="2.35"/><circle cx="99.30" cy="167.20" r="2.35"/><circle cx="102.80" cy="146.10" r="2.35"/><circle cx="105.30" cy="153.10" r="2.35"/><circle cx="107.30" cy="176.90" r="2.35"/><circle cx="109.30" cy="179.20" r="2.35"/><circle cx="112.17" cy="179.25" r="2.35"/><circle cx="115.04" cy="179.30" r="2.35"/><circle cx="117.91" cy="179.35" r="2.35"/><circle cx="120.78" cy="179.41" r="2.35"/><circle cx="123.65" cy="179.46" r="2.35"/><circle cx="126.53" cy="179.51" r="2.35"/><circle cx="129.40" cy="179.56" r="2.35"/><circle cx="132.27" cy="179.61" r="2.35"/><circle cx="135.14" cy="179.66" r="2.35"/><circle cx="138.01" cy="179.72" r="2.35"/><circle cx="140.88" cy="179.77" r="2.35"/><circle cx="143.75" cy="179.82" r="2.35"/><circle cx="146.62" cy="179.87" r="2.35"/><circle cx="149.49" cy="179.92" r="2.35"/><circle cx="152.36" cy="179.97" r="2.35"/><circle cx="155.24" cy="180.03" r="2.35"/><circle cx="158.11" cy="180.08" r="2.35"/><circle cx="160.98" cy="180.13" r="2.35"/><circle cx="163.85" cy="180.18" r="2.35"/><circle cx="166.72" cy="180.23" r="2.35"/><circle cx="169.59" cy="180.28" r="2.35"/><circle cx="172.46" cy="180.34" r="2.35"/><circle cx="175.33" cy="180.39" r="2.35"/><circle cx="178.20" cy="180.44" r="2.35"/><circle cx="181.07" cy="180.49" r="2.35"/><circle cx="183.95" cy="180.54" r="2.35"/><circle cx="186.82" cy="180.59" r="2.35"/><circle cx="189.69" cy="180.65" r="2.35"/><circle cx="192.56" cy="180.70" r="2.35"/><circle cx="195.43" cy="180.75" r="2.35"/><circle cx="198.30" cy="180.80" r="2.35"/></g>
<path d="M55.60 174.20 L59.30 174.70 L61.80 175.60 L64.30 176.50 L67.30 176.50 L70.30 176.50 L73.30 176.50 L76.30 176.50 L79.30 176.50 L82.30 176.50 L85.30 176.50 L88.30 176.50 L91.30 176.50 L94.30 176.50 L96.30 175.60 L99.30 172.50 L102.80 154.00 L105.30 145.70 L107.30 168.10 L109.30 179.00 L112.13 179.23 L114.97 179.47 L117.80 179.70 L120.63 179.93 L123.47 180.17 L126.30 180.40 L129.25 180.34 L132.20 180.28 L135.16 180.21 L138.11 180.15 L141.06 180.09 L144.01 180.03 L146.97 179.97 L149.92 179.90 L152.87 179.84 L155.82 179.78 L158.78 179.72 L161.73 179.66 L164.68 179.60 L167.63 179.53 L170.59 179.47 L173.54 179.41 L176.49 179.35 L179.44 179.29 L182.40 179.22 L185.35 179.16 L188.30 179.10 L190.80 177.80 L193.30 176.50 L195.80 177.30 L198.30 178.10" fill="none" stroke="#4aa04a" stroke-width="0.5"/><g fill="#008000"><path d="M55.60 171.50L58.20 176.00L53.00 176.00Z"/><path d="M59.30 172.00L61.90 176.50L56.70 176.50Z"/><path d="M61.80 172.90L64.40 177.40L59.20 177.40Z"/><path d="M64.30 173.80L66.90 178.30L61.70 178.30Z"/><path d="M67.30 173.80L69.90 178.30L64.70 178.30Z"/><path d="M70.30 173.80L72.90 178.30L67.70 178.30Z"/><path d="M73.30 173.80L75.90 178.30L70.70 178.30Z"/><path d="M76.30 173.80L78.90 178.30L73.70 178.30Z"/><path d="M79.30 173.80L81.90 178.30L76.70 178.30Z"/><path d="M82.30 173.80L84.90 178.30L79.70 178.30Z"/><path d="M85.30 173.80L87.90 178.30L82.70 178.30Z"/><path d="M88.30 173.80L90.90 178.30L85.70 178.30Z"/><path d="M91.30 173.80L93.90 178.30L88.70 178.30Z"/><path d="M94.30 173.80L96.90 178.30L91.70 178.30Z"/><path d="M96.30 172.90L98.90 177.40L93.70 177.40Z"/><path d="M99.30 169.80L101.90 174.30L96.70 174.30Z"/><path d="M102.80 151.30L105.40 155.80L100.20 155.80Z"/><path d="M105.30 143.00L107.90 147.50L102.70 147.50Z"/><path d="M107.30 165.40L109.90 169.90L104.70 169.90Z"/><path d="M109.30 176.30L111.90 180.80L106.70 180.80Z"/><path d="M112.13 176.53L114.73 181.03L109.53 181.03Z"/><path d="M114.97 176.77L117.57 181.27L112.37 181.27Z"/><path d="M117.80 177.00L120.40 181.50L115.20 181.50Z"/><path d="M120.63 177.23L123.23 181.73L118.03 181.73Z"/><path d="M123.47 177.47L126.07 181.97L120.87 181.97Z"/><path d="M126.30 177.70L128.90 182.20L123.70 182.20Z"/><path d="M129.25 177.64L131.85 182.14L126.65 182.14Z"/><path d="M132.20 177.58L134.80 182.08L129.60 182.08Z"/><path d="M135.16 177.51L137.76 182.01L132.56 182.01Z"/><path d="M138.11 177.45L140.71 181.95L135.51 181.95Z"/><path d="M141.06 177.39L143.66 181.89L138.46 181.89Z"/><path d="M144.01 177.33L146.61 181.83L141.41 181.83Z"/><path d="M146.97 177.27L149.57 181.77L144.37 181.77Z"/><path d="M149.92 177.20L152.52 181.70L147.32 181.70Z"/><path d="M152.87 177.14L155.47 181.64L150.27 181.64Z"/><path d="M155.82 177.08L158.42 181.58L153.22 181.58Z"/><path d="M158.78 177.02L161.38 181.52L156.18 181.52Z"/><path d="M161.73 176.96L164.33 181.46L159.13 181.46Z"/><path d="M164.68 176.90L167.28 181.40L162.08 181.40Z"/><path d="M167.63 176.83L170.23 181.33L165.03 181.33Z"/><path d="M170.59 176.77L173.19 181.27L167.99 181.27Z"/><path d="M173.54 176.71L176.14 181.21L170.94 181.21Z"/><path d="M176.49 176.65L179.09 181.15L173.89 181.15Z"/><path d="M179.44 176.59L182.04 181.09L176.84 181.09Z"/><path d="M182.40 176.52L185.00 181.02L179.80 181.02Z"/><path d="M185.35 176.46L187.95 180.96L182.75 180.96Z"/><path d="M188.30 176.40L190.90 180.90L185.70 180.90Z"/><path d="M190.80 175.10L193.40 179.60L188.20 179.60Z"/><path d="M193.30 173.80L195.90 178.30L190.70 178.30Z"/><path d="M195.80 174.60L198.40 179.10L193.20 179.10Z"/><path d="M198.30 175.40L200.90 179.90L195.70 179.90Z"/></g>
</g>
<clipPath id="clipa3"><rect x="53.80" y="181.90" width="145.00" height="55.80"/></clipPath>
<g clip-path="url(#clipa3)">
<path d="M55.60 224.10 L57.30 228.90 L60.30 232.60 L64.30 233.30 L67.30 233.30 L70.30 233.30 L73.30 233.30 L76.30 233.30 L79.30 233.30 L82.30 233.30 L85.30 233.30 L88.30 233.30 L91.30 233.30 L94.30 233.30 L96.80 232.50 L99.30 231.70 L101.95 220.00 L104.60 208.30 L107.30 207.40 L110.50 225.40 L113.80 233.40 L116.30 235.40 L119.23 235.40 L122.16 235.40 L125.09 235.40 L128.01 235.40 L130.94 235.40 L133.87 235.40 L136.80 235.40 L139.73 235.40 L142.66 235.40 L145.59 235.40 L148.51 235.40 L151.44 235.40 L154.37 235.40 L157.30 235.40 L160.23 235.40 L163.16 235.40 L166.09 235.40 L169.01 235.40 L171.94 235.40 L174.87 235.40 L177.80 235.40 L180.73 235.40 L183.66 235.40 L186.59 235.40 L189.51 235.40 L192.44 235.40 L195.37 235.40 L198.30 235.40" fill="none" stroke="#666666" stroke-width="0.5"/><g fill="#000000"><rect x="53.50" y="222.00" width="4.2" height="4.2"/><rect x="55.20" y="226.80" width="4.2" height="4.2"/><rect x="58.20" y="230.50" width="4.2" height="4.2"/><rect x="62.20" y="231.20" width="4.2" height="4.2"/><rect x="65.20" y="231.20" width="4.2" height="4.2"/><rect x="68.20" y="231.20" width="4.2" height="4.2"/><rect x="71.20" y="231.20" width="4.2" height="4.2"/><rect x="74.20" y="231.20" width="4.2" height="4.2"/><rect x="77.20" y="231.20" width="4.2" height="4.2"/><rect x="80.20" y="231.20" width="4.2" height="4.2"/><rect x="83.20" y="231.20" width="4.2" height="4.2"/><rect x="86.20" y="231.20" width="4.2" height="4.2"/><rect x="89.20" y="231.20" width="4.2" height="4.2"/><rect x="92.20" y="231.20" width="4.2" height="4.2"/><rect x="94.70" y="230.40" width="4.2" height="4.2"/><rect x="97.20" y="229.60" width="4.2" height="4.2"/><rect x="99.85" y="217.90" width="4.2" height="4.2"/><rect x="102.50" y="206.20" width="4.2" height="4.2"/><rect x="105.20" y="205.30" width="4.2" height="4.2"/><rect x="108.40" y="223.30" width="4.2" height="4.2"/><rect x="111.70" y="231.30" width="4.2" height="4.2"/><rect x="114.20" y="233.30" width="4.2" height="4.2"/><rect x="117.13" y="233.30" width="4.2" height="4.2"/><rect x="120.06" y="233.30" width="4.2" height="4.2"/><rect x="122.99" y="233.30" width="4.2" height="4.2"/><rect x="125.91" y="233.30" width="4.2" height="4.2"/><rect x="128.84" y="233.30" width="4.2" height="4.2"/><rect x="131.77" y="233.30" width="4.2" height="4.2"/><rect x="134.70" y="233.30" width="4.2" height="4.2"/><rect x="137.63" y="233.30" width="4.2" height="4.2"/><rect x="140.56" y="233.30" width="4.2" height="4.2"/><rect x="143.49" y="233.30" width="4.2" height="4.2"/><rect x="146.41" y="233.30" width="4.2" height="4.2"/><rect x="149.34" y="233.30" width="4.2" height="4.2"/><rect x="152.27" y="233.30" width="4.2" height="4.2"/><rect x="155.20" y="233.30" width="4.2" height="4.2"/><rect x="158.13" y="233.30" width="4.2" height="4.2"/><rect x="161.06" y="233.30" width="4.2" height="4.2"/><rect x="163.99" y="233.30" width="4.2" height="4.2"/><rect x="166.91" y="233.30" width="4.2" height="4.2"/><rect x="169.84" y="233.30" width="4.2" height="4.2"/><rect x="172.77" y="233.30" width="4.2" height="4.2"/><rect x="175.70" y="233.30" width="4.2" height="4.2"/><rect x="178.63" y="233.30" width="4.2" height="4.2"/><rect x="181.56" y="233.30" width="4.2" height="4.2"/><rect x="184.49" y="233.30" width="4.2" height="4.2"/><rect x="187.41" y="233.30" width="4.2" height="4.2"/><rect x="190.34" y="233.30" width="4.2" height="4.2"/><rect x="193.27" y="233.30" width="4.2" height="4.2"/><rect x="196.20" y="233.30" width="4.2" height="4.2"/></g>
<path d="M55.60 228.50 L57.30 229.90 L59.30 231.00 L61.80 232.15 L64.30 233.30 L67.30 233.30 L70.30 233.30 L73.30 233.30 L76.30 233.30 L79.30 233.30 L82.30 233.30 L85.30 233.30 L88.30 233.30 L91.30 233.30 L94.30 233.30 L96.80 232.50 L99.30 231.70 L102.10 221.70 L105.00 205.80 L108.00 209.50 L110.50 228.80 L112.80 233.40 L116.30 235.40 L119.23 235.40 L122.16 235.40 L125.09 235.40 L128.01 235.40 L130.94 235.40 L133.87 235.40 L136.80 235.40 L139.73 235.40 L142.66 235.40 L145.59 235.40 L148.51 235.40 L151.44 235.40 L154.37 235.40 L157.30 235.40 L160.23 235.40 L163.16 235.40 L166.09 235.40 L169.01 235.40 L171.94 235.40 L174.87 235.40 L177.80 235.40 L180.73 235.40 L183.66 235.40 L186.59 235.40 L189.51 235.40 L192.44 235.40 L195.37 235.40 L198.30 235.40" fill="none" stroke="#ff6a6a" stroke-width="0.5"/><g fill="#ff0000"><circle cx="55.60" cy="228.50" r="2.35"/><circle cx="57.30" cy="229.90" r="2.35"/><circle cx="59.30" cy="231.00" r="2.35"/><circle cx="61.80" cy="232.15" r="2.35"/><circle cx="64.30" cy="233.30" r="2.35"/><circle cx="67.30" cy="233.30" r="2.35"/><circle cx="70.30" cy="233.30" r="2.35"/><circle cx="73.30" cy="233.30" r="2.35"/><circle cx="76.30" cy="233.30" r="2.35"/><circle cx="79.30" cy="233.30" r="2.35"/><circle cx="82.30" cy="233.30" r="2.35"/><circle cx="85.30" cy="233.30" r="2.35"/><circle cx="88.30" cy="233.30" r="2.35"/><circle cx="91.30" cy="233.30" r="2.35"/><circle cx="94.30" cy="233.30" r="2.35"/><circle cx="96.80" cy="232.50" r="2.35"/><circle cx="99.30" cy="231.70" r="2.35"/><circle cx="102.10" cy="221.70" r="2.35"/><circle cx="105.00" cy="205.80" r="2.35"/><circle cx="108.00" cy="209.50" r="2.35"/><circle cx="110.50" cy="228.80" r="2.35"/><circle cx="112.80" cy="233.40" r="2.35"/><circle cx="116.30" cy="235.40" r="2.35"/><circle cx="119.23" cy="235.40" r="2.35"/><circle cx="122.16" cy="235.40" r="2.35"/><circle cx="125.09" cy="235.40" r="2.35"/><circle cx="128.01" cy="235.40" r="2.35"/><circle cx="130.94" cy="235.40" r="2.35"/><circle cx="133.87" cy="235.40" r="2.35"/><circle cx="136.80" cy="235.40" r="2.35"/><circle cx="139.73" cy="235.40" r="2.35"/><circle cx="142.66" cy="235.40" r="2.35"/><circle cx="145.59" cy="235.40" r="2.35"/><circle cx="148.51" cy="235.40" r="2.35"/><circle cx="151.44" cy="235.40" r="2.35"/><circle cx="154.37" cy="235.40" r="2.35"/><circle cx="157.30" cy="235.40" r="2.35"/><circle cx="160.23" cy="235.40" r="2.35"/><circle cx="163.16" cy="235.40" r="2.35"/><circle cx="166.09" cy="235.40" r="2.35"/><circle cx="169.01" cy="235.40" r="2.35"/><circle cx="171.94" cy="235.40" r="2.35"/><circle cx="174.87" cy="235.40" r="2.35"/><circle cx="177.80" cy="235.40" r="2.35"/><circle cx="180.73" cy="235.40" r="2.35"/><circle cx="183.66" cy="235.40" r="2.35"/><circle cx="186.59" cy="235.40" r="2.35"/><circle cx="189.51" cy="235.40" r="2.35"/><circle cx="192.44" cy="235.40" r="2.35"/><circle cx="195.37" cy="235.40" r="2.35"/><circle cx="198.30" cy="235.40" r="2.35"/></g>
<path d="M55.60 232.90 L59.30 233.10 L61.80 233.20 L64.30 233.30 L67.30 233.30 L70.30 233.30 L73.30 233.30 L76.30 233.30 L79.30 233.30 L82.30 233.30 L85.30 233.30 L88.30 233.30 L91.30 233.30 L94.30 233.30 L96.80 232.50 L99.30 231.70 L102.50 226.30 L105.00 214.10 L108.40 207.00 L110.50 218.70 L113.40 230.40 L116.30 235.20 L119.22 235.19 L122.14 235.18 L125.06 235.16 L127.98 235.15 L130.90 235.14 L133.82 235.13 L136.74 235.12 L139.66 235.10 L142.58 235.09 L145.50 235.08 L148.42 235.07 L151.34 235.06 L154.26 235.04 L157.18 235.03 L160.10 235.02 L163.02 235.01 L165.94 235.00 L168.86 234.98 L171.78 234.97 L174.70 234.96 L177.62 234.95 L180.54 234.94 L183.46 234.92 L186.38 234.91 L189.30 234.90 L191.80 233.55 L194.30 232.20 L198.30 233.80" fill="none" stroke="#4aa04a" stroke-width="0.5"/><g fill="#008000"><path d="M55.60 230.20L58.20 234.70L53.00 234.70Z"/><path d="M59.30 230.40L61.90 234.90L56.70 234.90Z"/><path d="M61.80 230.50L64.40 235.00L59.20 235.00Z"/><path d="M64.30 230.60L66.90 235.10L61.70 235.10Z"/><path d="M67.30 230.60L69.90 235.10L64.70 235.10Z"/><path d="M70.30 230.60L72.90 235.10L67.70 235.10Z"/><path d="M73.30 230.60L75.90 235.10L70.70 235.10Z"/><path d="M76.30 230.60L78.90 235.10L73.70 235.10Z"/><path d="M79.30 230.60L81.90 235.10L76.70 235.10Z"/><path d="M82.30 230.60L84.90 235.10L79.70 235.10Z"/><path d="M85.30 230.60L87.90 235.10L82.70 235.10Z"/><path d="M88.30 230.60L90.90 235.10L85.70 235.10Z"/><path d="M91.30 230.60L93.90 235.10L88.70 235.10Z"/><path d="M94.30 230.60L96.90 235.10L91.70 235.10Z"/><path d="M96.80 229.80L99.40 234.30L94.20 234.30Z"/><path d="M99.30 229.00L101.90 233.50L96.70 233.50Z"/><path d="M102.50 223.60L105.10 228.10L99.90 228.10Z"/><path d="M105.00 211.40L107.60 215.90L102.40 215.90Z"/><path d="M108.40 204.30L111.00 208.80L105.80 208.80Z"/><path d="M110.50 216.00L113.10 220.50L107.90 220.50Z"/><path d="M113.40 227.70L116.00 232.20L110.80 232.20Z"/><path d="M116.30 232.50L118.90 237.00L113.70 237.00Z"/><path d="M119.22 232.49L121.82 236.99L116.62 236.99Z"/><path d="M122.14 232.48L124.74 236.98L119.54 236.98Z"/><path d="M125.06 232.46L127.66 236.96L122.46 236.96Z"/><path d="M127.98 232.45L130.58 236.95L125.38 236.95Z"/><path d="M130.90 232.44L133.50 236.94L128.30 236.94Z"/><path d="M133.82 232.43L136.42 236.93L131.22 236.93Z"/><path d="M136.74 232.42L139.34 236.92L134.14 236.92Z"/><path d="M139.66 232.40L142.26 236.90L137.06 236.90Z"/><path d="M142.58 232.39L145.18 236.89L139.98 236.89Z"/><path d="M145.50 232.38L148.10 236.88L142.90 236.88Z"/><path d="M148.42 232.37L151.02 236.87L145.82 236.87Z"/><path d="M151.34 232.36L153.94 236.86L148.74 236.86Z"/><path d="M154.26 232.34L156.86 236.84L151.66 236.84Z"/><path d="M157.18 232.33L159.78 236.83L154.58 236.83Z"/><path d="M160.10 232.32L162.70 236.82L157.50 236.82Z"/><path d="M163.02 232.31L165.62 236.81L160.42 236.81Z"/><path d="M165.94 232.30L168.54 236.80L163.34 236.80Z"/><path d="M168.86 232.28L171.46 236.78L166.26 236.78Z"/><path d="M171.78 232.27L174.38 236.77L169.18 236.77Z"/><path d="M174.70 232.26L177.30 236.76L172.10 236.76Z"/><path d="M177.62 232.25L180.22 236.75L175.02 236.75Z"/><path d="M180.54 232.24L183.14 236.74L177.94 236.74Z"/><path d="M183.46 232.22L186.06 236.72L180.86 236.72Z"/><path d="M186.38 232.21L188.98 236.71L183.78 236.71Z"/><path d="M189.30 232.20L191.90 236.70L186.70 236.70Z"/><path d="M191.80 230.85L194.40 235.35L189.20 235.35Z"/><path d="M194.30 229.50L196.90 234.00L191.70 234.00Z"/><path d="M198.30 231.10L200.90 235.60L195.70 235.60Z"/></g>
</g>
<text transform="translate(49.90 74.40) scale(1 1.060)" font-size="9.70" text-anchor="end">0.0000</text>
<text transform="translate(49.90 46.80) scale(1 1.060)" font-size="9.70" text-anchor="end">0.0001</text>
<text transform="translate(49.90 19.20) scale(1 1.060)" font-size="9.70" text-anchor="end">0.0002</text>
<text transform="translate(55.70 26.30) scale(1 1.060)" font-size="9.60" text-anchor="start">0.2 m</text>
<text transform="translate(49.90 129.60) scale(1 1.060)" font-size="9.70" text-anchor="end">0.0000</text>
<text transform="translate(49.90 102.00) scale(1 1.060)" font-size="9.70" text-anchor="end">0.0001</text>
<text transform="translate(55.70 81.60) scale(1 1.060)" font-size="9.60" text-anchor="start">0.4 m</text>
<text transform="translate(49.90 184.80) scale(1 1.060)" font-size="9.70" text-anchor="end">0.0000</text>
<text transform="translate(49.90 157.20) scale(1 1.060)" font-size="9.70" text-anchor="end">0.0001</text>
<text transform="translate(55.70 136.80) scale(1 1.060)" font-size="9.60" text-anchor="start">0.6 m</text>
<text transform="translate(49.90 240.00) scale(1 1.060)" font-size="9.70" text-anchor="end">0.0000</text>
<text transform="translate(49.90 212.40) scale(1 1.060)" font-size="9.70" text-anchor="end">0.0001</text>
<text transform="translate(55.70 193.40) scale(1 1.060)" font-size="9.60" text-anchor="start">0.8 m</text>
<text transform="translate(54.30 248.90) scale(1 1.060)" font-size="9.60" text-anchor="middle">0.00</text>
<text transform="translate(81.30 248.90) scale(1 1.060)" font-size="9.60" text-anchor="middle">0.01</text>
<text transform="translate(108.30 248.90) scale(1 1.060)" font-size="9.60" text-anchor="middle">0.02</text>
<text transform="translate(135.30 248.90) scale(1 1.060)" font-size="9.60" text-anchor="middle">0.03</text>
<text transform="translate(162.30 248.90) scale(1 1.060)" font-size="9.60" text-anchor="middle">0.04</text>
<text transform="translate(189.30 248.90) scale(1 1.060)" font-size="9.60" text-anchor="middle">0.05</text>
<text transform="translate(59.30 269.30) scale(1 1.020)" font-size="14.75" text-anchor="start">Radial distance r / m</text>
<text transform="translate(13.80 125.30) rotate(-90)" font-size="14.9" text-anchor="middle">Solids concentration (1-ε) /-</text>
<text transform="translate(3.40 12.60) scale(1 1.050)" font-size="14.50" text-anchor="start">a)</text>
<text x="132.30" y="27.40" font-size="10.0">T<tspan font-size="6.7" dy="2.5" dx="0.0">sheath.set</tspan></text>
<path d="M131.50 37.80H153.00" stroke="#b4b4b4" stroke-width="1"/>
<g fill="#000000"><rect x="140.40" y="35.70" width="4.2" height="4.2"/></g>
<text transform="translate(157.00 41.60) scale(1 1.060)" font-size="9.80" text-anchor="start">240°C</text>
<path d="M131.50 49.90H153.00" stroke="#ffa8a8" stroke-width="1"/>
<g fill="#ff0000"><circle cx="142.50" cy="49.90" r="2.35"/></g>
<text transform="translate(157.00 53.70) scale(1 1.060)" font-size="9.80" text-anchor="start">260°C</text>
<path d="M131.50 62.00H153.00" stroke="#9ccc9c" stroke-width="1"/>
<g fill="#008000"><path d="M142.50 59.30L145.10 63.80L139.90 63.80Z"/></g>
<text transform="translate(157.00 65.80) scale(1 1.060)" font-size="9.80" text-anchor="start">280°C</text>
<g stroke="#222" stroke-width="1" fill="none">
<rect x="261.80" y="16.30" width="144.00" height="55.20"/>
<path d="M261.80 71.50V68.50M261.80 16.30V19.30"/>
<path d="M275.30 71.50V69.70M275.30 16.30V18.10"/>
<path d="M288.80 71.50V68.50M288.80 16.30V19.30"/>
<path d="M302.30 71.50V69.70M302.30 16.30V18.10"/>
<path d="M315.80 71.50V68.50M315.80 16.30V19.30"/>
<path d="M329.30 71.50V69.70M329.30 16.30V18.10"/>
<path d="M342.80 71.50V68.50M342.80 16.30V19.30"/>
<path d="M356.30 71.50V69.70M356.30 16.30V18.10"/>
<path d="M369.80 71.50V68.50M369.80 16.30V19.30"/>
<path d="M383.30 71.50V69.70M383.30 16.30V18.10"/>
<path d="M396.80 71.50V68.50M396.80 16.30V19.30"/>
<path d="M261.80 71.50H264.80M405.80 71.50H402.80"/>
<path d="M261.80 49.42H264.80M405.80 49.42H402.80"/>
<path d="M261.80 27.34H264.80M405.80 27.34H402.80"/>
<path d="M261.80 60.46H263.60M405.80 60.46H404.00"/>
<path d="M261.80 38.38H263.60M405.80 38.38H404.00"/>
<rect x="261.80" y="71.50" width="144.00" height="55.20"/>
<path d="M261.80 126.70V123.70"/>
<path d="M275.30 126.70V124.90"/>
<path d="M288.80 126.70V123.70"/>
<path d="M302.30 126.70V124.90"/>
<path d="M315.80 126.70V123.70"/>
<path d="M329.30 126.70V124.90"/>
<path d="M342.80 126.70V123.70"/>
<path d="M356.30 126.70V124.90"/>
<path d="M369.80 126.70V123.70"/>
<path d="M383.30 126.70V124.90"/>
<path d="M396.80 126.70V123.70"/>
<path d="M261.80 126.70H264.80M405.80 126.70H402.80"/>
<path d="M261.80 104.62H264.80M405.80 104.62H402.80"/>
<path d="M261.80 82.54H264.80M405.80 82.54H402.80"/>
<path d="M261.80 115.66H263.60M405.80 115.66H404.00"/>
<path d="M261.80 93.58H263.60M405.80 93.58H404.00"/>
<rect x="261.80" y="126.70" width="144.00" height="55.20"/>
<path d="M261.80 181.90V178.90"/>
<path d="M275.30 181.90V180.10"/>
<path d="M288.80 181.90V178.90"/>
<path d="M302.30 181.90V180.10"/>
<path d="M315.80 181.90V178.90"/>
<path d="M329.30 181.90V180.10"/>
<path d="M342.80 181.90V178.90"/>
<path d="M356.30 181.90V180.10"/>
<path d="M369.80 181.90V178.90"/>
<path d="M383.30 181.90V180.10"/>
<path d="M396.80 181.90V178.90"/>
<path d="M261.80 181.90H264.80M405.80 181.90H402.80"/>
<path d="M261.80 159.82H264.80M405.80 159.82H402.80"/>
<path d="M261.80 137.74H264.80M405.80 137.74H402.80"/>
<path d="M261.80 170.86H263.60M405.80 170.86H404.00"/>
<path d="M261.80 148.78H263.60M405.80 148.78H404.00"/>
<rect x="261.80" y="181.90" width="144.00" height="55.20"/>
<path d="M261.80 237.10V234.10"/>
<path d="M275.30 237.10V235.30"/>
<path d="M288.80 237.10V234.10"/>
<path d="M302.30 237.10V235.30"/>
<path d="M315.80 237.10V234.10"/>
<path d="M329.30 237.10V235.30"/>
<path d="M342.80 237.10V234.10"/>
<path d="M356.30 237.10V235.30"/>
<path d="M369.80 237.10V234.10"/>
<path d="M383.30 237.10V235.30"/>
<path d="M396.80 237.10V234.10"/>
<path d="M261.80 237.10H264.80M405.80 237.10H402.80"/>
<path d="M261.80 215.02H264.80M405.80 215.02H402.80"/>
<path d="M261.80 192.94H264.80M405.80 192.94H402.80"/>
<path d="M261.80 226.06H263.60M405.80 226.06H404.00"/>
<path d="M261.80 203.98H263.60M405.80 203.98H404.00"/>
</g>
<clipPath id="clipb0"><rect x="261.30" y="16.30" width="145.00" height="55.80"/></clipPath>
<g clip-path="url(#clipb0)">
<path d="M263.10 59.30 L266.00 63.10 L268.50 64.00 L271.00 64.90 L273.50 65.40 L276.00 65.90 L278.50 66.10 L281.00 66.30 L283.50 66.30 L286.00 66.30 L288.50 65.40 L291.00 64.50 L293.80 62.10 L296.70 55.20 L299.60 58.60 L302.30 68.80 L305.16 68.98 L308.03 69.16 L310.89 69.35 L313.75 69.53 L316.62 69.71 L319.48 69.89 L322.35 70.07 L325.21 70.25 L328.07 70.44 L330.94 70.62 L333.80 70.80 L336.68 70.80 L339.56 70.80 L342.44 70.80 L345.32 70.80 L348.20 70.80 L351.08 70.80 L353.96 70.80 L356.84 70.80 L359.72 70.80 L362.60 70.80 L365.48 70.80 L368.36 70.80 L371.24 70.80 L374.12 70.80 L377.00 70.80 L379.88 70.80 L382.76 70.80 L385.64 70.80 L388.52 70.80 L391.40 70.80 L394.28 70.80 L397.16 70.80 L400.04 70.80 L402.92 70.80 L405.80 70.80" fill="none" stroke="#666666" stroke-width="0.5"/><g fill="#000000"><rect x="261.00" y="57.20" width="4.2" height="4.2"/><rect x="263.90" y="61.00" width="4.2" height="4.2"/><rect x="266.40" y="61.90" width="4.2" height="4.2"/><rect x="268.90" y="62.80" width="4.2" height="4.2"/><rect x="271.40" y="63.30" width="4.2" height="4.2"/><rect x="273.90" y="63.80" width="4.2" height="4.2"/><rect x="276.40" y="64.00" width="4.2" height="4.2"/><rect x="278.90" y="64.20" width="4.2" height="4.2"/><rect x="281.40" y="64.20" width="4.2" height="4.2"/><rect x="283.90" y="64.20" width="4.2" height="4.2"/><rect x="286.40" y="63.30" width="4.2" height="4.2"/><rect x="288.90" y="62.40" width="4.2" height="4.2"/><rect x="291.70" y="60.00" width="4.2" height="4.2"/><rect x="294.60" y="53.10" width="4.2" height="4.2"/><rect x="297.50" y="56.50" width="4.2" height="4.2"/><rect x="300.20" y="66.70" width="4.2" height="4.2"/><rect x="303.06" y="66.88" width="4.2" height="4.2"/><rect x="305.93" y="67.06" width="4.2" height="4.2"/><rect x="308.79" y="67.25" width="4.2" height="4.2"/><rect x="311.65" y="67.43" width="4.2" height="4.2"/><rect x="314.52" y="67.61" width="4.2" height="4.2"/><rect x="317.38" y="67.79" width="4.2" height="4.2"/><rect x="320.25" y="67.97" width="4.2" height="4.2"/><rect x="323.11" y="68.15" width="4.2" height="4.2"/><rect x="325.97" y="68.34" width="4.2" height="4.2"/><rect x="328.84" y="68.52" width="4.2" height="4.2"/><rect x="331.70" y="68.70" width="4.2" height="4.2"/><rect x="334.58" y="68.70" width="4.2" height="4.2"/><rect x="337.46" y="68.70" width="4.2" height="4.2"/><rect x="340.34" y="68.70" width="4.2" height="4.2"/><rect x="343.22" y="68.70" width="4.2" height="4.2"/><rect x="346.10" y="68.70" width="4.2" height="4.2"/><rect x="348.98" y="68.70" width="4.2" height="4.2"/><rect x="351.86" y="68.70" width="4.2" height="4.2"/><rect x="354.74" y="68.70" width="4.2" height="4.2"/><rect x="357.62" y="68.70" width="4.2" height="4.2"/><rect x="360.50" y="68.70" width="4.2" height="4.2"/><rect x="363.38" y="68.70" width="4.2" height="4.2"/><rect x="366.26" y="68.70" width="4.2" height="4.2"/><rect x="369.14" y="68.70" width="4.2" height="4.2"/><rect x="372.02" y="68.70" width="4.2" height="4.2"/><rect x="374.90" y="68.70" width="4.2" height="4.2"/><rect x="377.78" y="68.70" width="4.2" height="4.2"/><rect x="380.66" y="68.70" width="4.2" height="4.2"/><rect x="383.54" y="68.70" width="4.2" height="4.2"/><rect x="386.42" y="68.70" width="4.2" height="4.2"/><rect x="389.30" y="68.70" width="4.2" height="4.2"/><rect x="392.18" y="68.70" width="4.2" height="4.2"/><rect x="395.06" y="68.70" width="4.2" height="4.2"/><rect x="397.94" y="68.70" width="4.2" height="4.2"/><rect x="400.82" y="68.70" width="4.2" height="4.2"/><rect x="403.70" y="68.70" width="4.2" height="4.2"/></g>
<path d="M263.10 47.70 L266.00 52.10 L268.50 53.85 L271.00 55.60 L273.50 57.25 L276.00 58.90 L278.50 59.25 L281.00 59.60 L283.50 59.45 L286.00 59.30 L289.00 53.90 L291.00 37.10 L293.80 39.50 L296.70 63.50 L299.30 68.30 L302.18 68.51 L305.05 68.72 L307.93 68.92 L310.80 69.13 L313.68 69.34 L316.55 69.55 L319.43 69.76 L322.30 69.97 L325.18 70.17 L328.05 70.38 L330.93 70.59 L333.80 70.80 L336.68 70.80 L339.56 70.80 L342.44 70.80 L345.32 70.80 L348.20 70.80 L351.08 70.80 L353.96 70.80 L356.84 70.80 L359.72 70.80 L362.60 70.80 L365.48 70.80 L368.36 70.80 L371.24 70.80 L374.12 70.80 L377.00 70.80 L379.88 70.80 L382.76 70.80 L385.64 70.80 L388.52 70.80 L391.40 70.80 L394.28 70.80 L397.16 70.80 L400.04 70.80 L402.92 70.80 L405.80 70.80" fill="none" stroke="#ff6a6a" stroke-width="0.5"/><g fill="#ff0000"><circle cx="263.10" cy="47.70" r="2.35"/><circle cx="266.00" cy="52.10" r="2.35"/><circle cx="268.50" cy="53.85" r="2.35"/><circle cx="271.00" cy="55.60" r="2.35"/><circle cx="273.50" cy="57.25" r="2.35"/><circle cx="276.00" cy="58.90" r="2.35"/><circle cx="278.50" cy="59.25" r="2.35"/><circle cx="281.00" cy="59.60" r="2.35"/><circle cx="283.50" cy="59.45" r="2.35"/><circle cx="286.00" cy="59.30" r="2.35"/><circle cx="289.00" cy="53.90" r="2.35"/><circle cx="291.00" cy="37.10" r="2.35"/><circle cx="293.80" cy="39.50" r="2.35"/><circle cx="296.70" cy="63.50" r="2.35"/><circle cx="299.30" cy="68.30" r="2.35"/><circle cx="302.18" cy="68.51" r="2.35"/><circle cx="305.05" cy="68.72" r="2.35"/><circle cx="307.93" cy="68.92" r="2.35"/><circle cx="310.80" cy="69.13" r="2.35"/><circle cx="313.68" cy="69.34" r="2.35"/><circle cx="316.55" cy="69.55" r="2.35"/><circle cx="319.43" cy="69.76" r="2.35"/><circle cx="322.30" cy="69.97" r="2.35"/><circle cx="325.18" cy="70.17" r="2.35"/><circle cx="328.05" cy="70.38" r="2.35"/><circle cx="330.93" cy="70.59" r="2.35"/><circle cx="333.80" cy="70.80" r="2.35"/><circle cx="336.68" cy="70.80" r="2.35"/><circle cx="339.56" cy="70.80" r="2.35"/><circle cx="342.44" cy="70.80" r="2.35"/><circle cx="345.32" cy="70.80" r="2.35"/><circle cx="348.20" cy="70.80" r="2.35"/><circle cx="351.08" cy="70.80" r="2.35"/><circle cx="353.96" cy="70.80" r="2.35"/><circle cx="356.84" cy="70.80" r="2.35"/><circle cx="359.72" cy="70.80" r="2.35"/><circle cx="362.60" cy="70.80" r="2.35"/><circle cx="365.48" cy="70.80" r="2.35"/><circle cx="368.36" cy="70.80" r="2.35"/><circle cx="371.24" cy="70.80" r="2.35"/><circle cx="374.12" cy="70.80" r="2.35"/><circle cx="377.00" cy="70.80" r="2.35"/><circle cx="379.88" cy="70.80" r="2.35"/><circle cx="382.76" cy="70.80" r="2.35"/><circle cx="385.64" cy="70.80" r="2.35"/><circle cx="388.52" cy="70.80" r="2.35"/><circle cx="391.40" cy="70.80" r="2.35"/><circle cx="394.28" cy="70.80" r="2.35"/><circle cx="397.16" cy="70.80" r="2.35"/><circle cx="400.04" cy="70.80" r="2.35"/><circle cx="402.92" cy="70.80" r="2.35"/><circle cx="405.80" cy="70.80" r="2.35"/></g>
<path d="M263.10 38.00 L266.00 46.30 L268.50 47.80 L271.00 49.30 L273.50 50.20 L276.00 51.10 L278.50 51.55 L281.00 52.00 L283.50 51.55 L286.00 51.10 L288.50 43.30 L291.00 20.10 L294.30 28.30 L296.70 61.10 L299.30 65.80 L301.80 67.30 L304.71 67.59 L307.62 67.88 L310.53 68.17 L313.44 68.46 L316.35 68.75 L319.25 69.05 L322.16 69.34 L325.07 69.63 L327.98 69.92 L330.89 70.21 L333.80 70.50 L336.68 70.51 L339.56 70.52 L342.44 70.54 L345.32 70.55 L348.20 70.56 L351.08 70.57 L353.96 70.58 L356.84 70.60 L359.72 70.61 L362.60 70.62 L365.48 70.63 L368.36 70.64 L371.24 70.66 L374.12 70.67 L377.00 70.68 L379.88 70.69 L382.76 70.70 L385.64 70.72 L388.52 70.73 L391.40 70.74 L394.28 70.75 L397.16 70.76 L400.04 70.78 L402.92 70.79 L405.80 70.80" fill="none" stroke="#4aa04a" stroke-width="0.5"/><g fill="#008000"><path d="M263.10 35.30L265.70 39.80L260.50 39.80Z"/><path d="M266.00 43.60L268.60 48.10L263.40 48.10Z"/><path d="M268.50 45.10L271.10 49.60L265.90 49.60Z"/><path d="M271.00 46.60L273.60 51.10L268.40 51.10Z"/><path d="M273.50 47.50L276.10 52.00L270.90 52.00Z"/><path d="M276.00 48.40L278.60 52.90L273.40 52.90Z"/><path d="M278.50 48.85L281.10 53.35L275.90 53.35Z"/><path d="M281.00 49.30L283.60 53.80L278.40 53.80Z"/><path d="M283.50 48.85L286.10 53.35L280.90 53.35Z"/><path d="M286.00 48.40L288.60 52.90L283.40 52.90Z"/><path d="M288.50 40.60L291.10 45.10L285.90 45.10Z"/><path d="M291.00 17.40L293.60 21.90L288.40 21.90Z"/><path d="M294.30 25.60L296.90 30.10L291.70 30.10Z"/><path d="M296.70 58.40L299.30 62.90L294.10 62.90Z"/><path d="M299.30 63.10L301.90 67.60L296.70 67.60Z"/><path d="M301.80 64.60L304.40 69.10L299.20 69.10Z"/><path d="M304.71 64.89L307.31 69.39L302.11 69.39Z"/><path d="M307.62 65.18L310.22 69.68L305.02 69.68Z"/><path d="M310.53 65.47L313.13 69.97L307.93 69.97Z"/><path d="M313.44 65.76L316.04 70.26L310.84 70.26Z"/><path d="M316.35 66.05L318.95 70.55L313.75 70.55Z"/><path d="M319.25 66.35L321.85 70.85L316.65 70.85Z"/><path d="M322.16 66.64L324.76 71.14L319.56 71.14Z"/><path d="M325.07 66.93L327.67 71.43L322.47 71.43Z"/><path d="M327.98 67.22L330.58 71.72L325.38 71.72Z"/><path d="M330.89 67.51L333.49 72.01L328.29 72.01Z"/><path d="M333.80 67.80L336.40 72.30L331.20 72.30Z"/><path d="M336.68 67.81L339.28 72.31L334.08 72.31Z"/><path d="M339.56 67.82L342.16 72.32L336.96 72.32Z"/><path d="M342.44 67.84L345.04 72.34L339.84 72.34Z"/><path d="M345.32 67.85L347.92 72.35L342.72 72.35Z"/><path d="M348.20 67.86L350.80 72.36L345.60 72.36Z"/><path d="M351.08 67.87L353.68 72.37L348.48 72.37Z"/><path d="M353.96 67.88L356.56 72.38L351.36 72.38Z"/><path d="M356.84 67.90L359.44 72.40L354.24 72.40Z"/><path d="M359.72 67.91L362.32 72.41L357.12 72.41Z"/><path d="M362.60 67.92L365.20 72.42L360.00 72.42Z"/><path d="M365.48 67.93L368.08 72.43L362.88 72.43Z"/><path d="M368.36 67.94L370.96 72.44L365.76 72.44Z"/><path d="M371.24 67.96L373.84 72.46L368.64 72.46Z"/><path d="M374.12 67.97L376.72 72.47L371.52 72.47Z"/><path d="M377.00 67.98L379.60 72.48L374.40 72.48Z"/><path d="M379.88 67.99L382.48 72.49L377.28 72.49Z"/><path d="M382.76 68.00L385.36 72.50L380.16 72.50Z"/><path d="M385.64 68.02L388.24 72.52L383.04 72.52Z"/><path d="M388.52 68.03L391.12 72.53L385.92 72.53Z"/><path d="M391.40 68.04L394.00 72.54L388.80 72.54Z"/><path d="M394.28 68.05L396.88 72.55L391.68 72.55Z"/><path d="M397.16 68.06L399.76 72.56L394.56 72.56Z"/><path d="M400.04 68.08L402.64 72.58L397.44 72.58Z"/><path d="M402.92 68.09L405.52 72.59L400.32 72.59Z"/><path d="M405.80 68.10L408.40 72.60L403.20 72.60Z"/></g>
</g>
<clipPath id="clipb1"><rect x="261.30" y="71.50" width="145.00" height="55.80"/></clipPath>
<g clip-path="url(#clipb1)">
<path d="M263.10 120.00 L266.00 121.00 L268.50 121.35 L271.00 121.70 L274.33 121.97 L277.67 122.23 L281.00 122.50 L284.00 122.64 L287.00 122.78 L290.00 122.92 L293.00 123.06 L296.00 123.20 L298.50 123.20 L301.00 123.20 L304.00 121.20 L307.00 111.50 L309.50 112.40 L311.00 123.00 L313.50 123.75 L316.00 124.50 L318.90 124.55 L321.79 124.60 L324.69 124.65 L327.59 124.69 L330.48 124.74 L333.38 124.79 L336.28 124.84 L339.17 124.89 L342.07 124.94 L344.97 124.98 L347.86 125.03 L350.76 125.08 L353.66 125.13 L356.55 125.18 L359.45 125.23 L362.35 125.27 L365.25 125.32 L368.14 125.37 L371.04 125.42 L373.94 125.47 L376.83 125.52 L379.73 125.56 L382.63 125.61 L385.52 125.66 L388.42 125.71 L391.32 125.76 L394.21 125.81 L397.11 125.85 L400.01 125.90 L402.90 125.95 L405.80 126.00" fill="none" stroke="#666666" stroke-width="0.5"/><g fill="#000000"><rect x="261.00" y="117.90" width="4.2" height="4.2"/><rect x="263.90" y="118.90" width="4.2" height="4.2"/><rect x="266.40" y="119.25" width="4.2" height="4.2"/><rect x="268.90" y="119.60" width="4.2" height="4.2"/><rect x="272.23" y="119.87" width="4.2" height="4.2"/><rect x="275.57" y="120.13" width="4.2" height="4.2"/><rect x="278.90" y="120.40" width="4.2" height="4.2"/><rect x="281.90" y="120.54" width="4.2" height="4.2"/><rect x="284.90" y="120.68" width="4.2" height="4.2"/><rect x="287.90" y="120.82" width="4.2" height="4.2"/><rect x="290.90" y="120.96" width="4.2" height="4.2"/><rect x="293.90" y="121.10" width="4.2" height="4.2"/><rect x="296.40" y="121.10" width="4.2" height="4.2"/><rect x="298.90" y="121.10" width="4.2" height="4.2"/><rect x="301.90" y="119.10" width="4.2" height="4.2"/><rect x="304.90" y="109.40" width="4.2" height="4.2"/><rect x="307.40" y="110.30" width="4.2" height="4.2"/><rect x="308.90" y="120.90" width="4.2" height="4.2"/><rect x="311.40" y="121.65" width="4.2" height="4.2"/><rect x="313.90" y="122.40" width="4.2" height="4.2"/><rect x="316.80" y="122.45" width="4.2" height="4.2"/><rect x="319.69" y="122.50" width="4.2" height="4.2"/><rect x="322.59" y="122.55" width="4.2" height="4.2"/><rect x="325.49" y="122.59" width="4.2" height="4.2"/><rect x="328.38" y="122.64" width="4.2" height="4.2"/><rect x="331.28" y="122.69" width="4.2" height="4.2"/><rect x="334.18" y="122.74" width="4.2" height="4.2"/><rect x="337.07" y="122.79" width="4.2" height="4.2"/><rect x="339.97" y="122.84" width="4.2" height="4.2"/><rect x="342.87" y="122.88" width="4.2" height="4.2"/><rect x="345.76" y="122.93" width="4.2" height="4.2"/><rect x="348.66" y="122.98" width="4.2" height="4.2"/><rect x="351.56" y="123.03" width="4.2" height="4.2"/><rect x="354.45" y="123.08" width="4.2" height="4.2"/><rect x="357.35" y="123.13" width="4.2" height="4.2"/><rect x="360.25" y="123.17" width="4.2" height="4.2"/><rect x="363.15" y="123.22" width="4.2" height="4.2"/><rect x="366.04" y="123.27" width="4.2" height="4.2"/><rect x="368.94" y="123.32" width="4.2" height="4.2"/><rect x="371.84" y="123.37" width="4.2" height="4.2"/><rect x="374.73" y="123.42" width="4.2" height="4.2"/><rect x="377.63" y="123.46" width="4.2" height="4.2"/><rect x="380.53" y="123.51" width="4.2" height="4.2"/><rect x="383.42" y="123.56" width="4.2" height="4.2"/><rect x="386.32" y="123.61" width="4.2" height="4.2"/><rect x="389.22" y="123.66" width="4.2" height="4.2"/><rect x="392.11" y="123.71" width="4.2" height="4.2"/><rect x="395.01" y="123.75" width="4.2" height="4.2"/><rect x="397.91" y="123.80" width="4.2" height="4.2"/><rect x="400.80" y="123.85" width="4.2" height="4.2"/><rect x="403.70" y="123.90" width="4.2" height="4.2"/></g>
<path d="M263.10 113.20 L266.00 115.70 L268.50 116.50 L271.00 117.30 L274.33 117.87 L277.67 118.43 L281.00 119.00 L284.33 119.37 L287.67 119.73 L291.00 120.10 L294.50 120.20 L298.00 120.30 L302.00 116.40 L304.50 97.40 L307.00 98.30 L309.00 122.00 L311.00 123.50 L313.85 123.81 L316.70 124.12 L319.55 124.44 L322.40 124.75 L325.25 125.06 L328.10 125.38 L330.95 125.69 L333.80 126.00 L336.68 126.00 L339.56 126.00 L342.44 126.00 L345.32 126.00 L348.20 126.00 L351.08 126.00 L353.96 126.00 L356.84 126.00 L359.72 126.00 L362.60 126.00 L365.48 126.00 L368.36 126.00 L371.24 126.00 L374.12 126.00 L377.00 126.00 L379.88 126.00 L382.76 126.00 L385.64 126.00 L388.52 126.00 L391.40 126.00 L394.28 126.00 L397.16 126.00 L400.04 126.00 L402.92 126.00 L405.80 126.00" fill="none" stroke="#ff6a6a" stroke-width="0.5"/><g fill="#ff0000"><circle cx="263.10" cy="113.20" r="2.35"/><circle cx="266.00" cy="115.70" r="2.35"/><circle cx="268.50" cy="116.50" r="2.35"/><circle cx="271.00" cy="117.30" r="2.35"/><circle cx="274.33" cy="117.87" r="2.35"/><circle cx="277.67" cy="118.43" r="2.35"/><circle cx="281.00" cy="119.00" r="2.35"/><circle cx="284.33" cy="119.37" r="2.35"/><circle cx="287.67" cy="119.73" r="2.35"/><circle cx="291.00" cy="120.10" r="2.35"/><circle cx="294.50" cy="120.20" r="2.35"/><circle cx="298.00" cy="120.30" r="2.35"/><circle cx="302.00" cy="116.40" r="2.35"/><circle cx="304.50" cy="97.40" r="2.35"/><circle cx="307.00" cy="98.30" r="2.35"/><circle cx="309.00" cy="122.00" r="2.35"/><circle cx="311.00" cy="123.50" r="2.35"/><circle cx="313.85" cy="123.81" r="2.35"/><circle cx="316.70" cy="124.12" r="2.35"/><circle cx="319.55" cy="124.44" r="2.35"/><circle cx="322.40" cy="124.75" r="2.35"/><circle cx="325.25" cy="125.06" r="2.35"/><circle cx="328.10" cy="125.38" r="2.35"/><circle cx="330.95" cy="125.69" r="2.35"/><circle cx="333.80" cy="126.00" r="2.35"/><circle cx="336.68" cy="126.00" r="2.35"/><circle cx="339.56" cy="126.00" r="2.35"/><circle cx="342.44" cy="126.00" r="2.35"/><circle cx="345.32" cy="126.00" r="2.35"/><circle cx="348.20" cy="126.00" r="2.35"/><circle cx="351.08" cy="126.00" r="2.35"/><circle cx="353.96" cy="126.00" r="2.35"/><circle cx="356.84" cy="126.00" r="2.35"/><circle cx="359.72" cy="126.00" r="2.35"/><circle cx="362.60" cy="126.00" r="2.35"/><circle cx="365.48" cy="126.00" r="2.35"/><circle cx="368.36" cy="126.00" r="2.35"/><circle cx="371.24" cy="126.00" r="2.35"/><circle cx="374.12" cy="126.00" r="2.35"/><circle cx="377.00" cy="126.00" r="2.35"/><circle cx="379.88" cy="126.00" r="2.35"/><circle cx="382.76" cy="126.00" r="2.35"/><circle cx="385.64" cy="126.00" r="2.35"/><circle cx="388.52" cy="126.00" r="2.35"/><circle cx="391.40" cy="126.00" r="2.35"/><circle cx="394.28" cy="126.00" r="2.35"/><circle cx="397.16" cy="126.00" r="2.35"/><circle cx="400.04" cy="126.00" r="2.35"/><circle cx="402.92" cy="126.00" r="2.35"/><circle cx="405.80" cy="126.00" r="2.35"/></g>
<path d="M263.10 110.50 L266.00 112.30 L268.50 113.15 L271.00 114.00 L274.33 114.50 L277.67 115.00 L281.00 115.50 L284.33 115.83 L287.67 116.17 L291.00 116.50 L293.50 116.25 L296.00 116.00 L299.00 108.00 L302.00 87.70 L304.50 91.80 L307.00 114.10 L310.00 120.30 L313.00 121.20 L315.97 121.53 L318.94 121.86 L321.91 122.19 L324.89 122.51 L327.86 122.84 L330.83 123.17 L333.80 123.50 L336.66 123.54 L339.53 123.57 L342.39 123.61 L345.25 123.65 L348.12 123.68 L350.98 123.72 L353.85 123.75 L356.71 123.79 L359.57 123.83 L362.44 123.86 L365.30 123.90 L368.16 123.94 L371.03 123.97 L373.89 124.01 L376.75 124.05 L379.62 124.08 L382.48 124.12 L385.35 124.15 L388.21 124.19 L391.07 124.23 L393.94 124.26 L396.80 124.30 L399.30 123.40 L401.80 122.50 L405.80 124.00" fill="none" stroke="#4aa04a" stroke-width="0.5"/><g fill="#008000"><path d="M263.10 107.80L265.70 112.30L260.50 112.30Z"/><path d="M266.00 109.60L268.60 114.10L263.40 114.10Z"/><path d="M268.50 110.45L271.10 114.95L265.90 114.95Z"/><path d="M271.00 111.30L273.60 115.80L268.40 115.80Z"/><path d="M274.33 111.80L276.93 116.30L271.73 116.30Z"/><path d="M277.67 112.30L280.27 116.80L275.07 116.80Z"/><path d="M281.00 112.80L283.60 117.30L278.40 117.30Z"/><path d="M284.33 113.13L286.93 117.63L281.73 117.63Z"/><path d="M287.67 113.47L290.27 117.97L285.07 117.97Z"/><path d="M291.00 113.80L293.60 118.30L288.40 118.30Z"/><path d="M293.50 113.55L296.10 118.05L290.90 118.05Z"/><path d="M296.00 113.30L298.60 117.80L293.40 117.80Z"/><path d="M299.00 105.30L301.60 109.80L296.40 109.80Z"/><path d="M302.00 85.00L304.60 89.50L299.40 89.50Z"/><path d="M304.50 89.10L307.10 93.60L301.90 93.60Z"/><path d="M307.00 111.40L309.60 115.90L304.40 115.90Z"/><path d="M310.00 117.60L312.60 122.10L307.40 122.10Z"/><path d="M313.00 118.50L315.60 123.00L310.40 123.00Z"/><path d="M315.97 118.83L318.57 123.33L313.37 123.33Z"/><path d="M318.94 119.16L321.54 123.66L316.34 123.66Z"/><path d="M321.91 119.49L324.51 123.99L319.31 123.99Z"/><path d="M324.89 119.81L327.49 124.31L322.29 124.31Z"/><path d="M327.86 120.14L330.46 124.64L325.26 124.64Z"/><path d="M330.83 120.47L333.43 124.97L328.23 124.97Z"/><path d="M333.80 120.80L336.40 125.30L331.20 125.30Z"/><path d="M336.66 120.84L339.26 125.34L334.06 125.34Z"/><path d="M339.53 120.87L342.13 125.37L336.93 125.37Z"/><path d="M342.39 120.91L344.99 125.41L339.79 125.41Z"/><path d="M345.25 120.95L347.85 125.45L342.65 125.45Z"/><path d="M348.12 120.98L350.72 125.48L345.52 125.48Z"/><path d="M350.98 121.02L353.58 125.52L348.38 125.52Z"/><path d="M353.85 121.05L356.45 125.55L351.25 125.55Z"/><path d="M356.71 121.09L359.31 125.59L354.11 125.59Z"/><path d="M359.57 121.13L362.17 125.63L356.97 125.63Z"/><path d="M362.44 121.16L365.04 125.66L359.84 125.66Z"/><path d="M365.30 121.20L367.90 125.70L362.70 125.70Z"/><path d="M368.16 121.24L370.76 125.74L365.56 125.74Z"/><path d="M371.03 121.27L373.63 125.77L368.43 125.77Z"/><path d="M373.89 121.31L376.49 125.81L371.29 125.81Z"/><path d="M376.75 121.35L379.35 125.85L374.15 125.85Z"/><path d="M379.62 121.38L382.22 125.88L377.02 125.88Z"/><path d="M382.48 121.42L385.08 125.92L379.88 125.92Z"/><path d="M385.35 121.45L387.95 125.95L382.75 125.95Z"/><path d="M388.21 121.49L390.81 125.99L385.61 125.99Z"/><path d="M391.07 121.53L393.67 126.03L388.47 126.03Z"/><path d="M393.94 121.56L396.54 126.06L391.34 126.06Z"/><path d="M396.80 121.60L399.40 126.10L394.20 126.10Z"/><path d="M399.30 120.70L401.90 125.20L396.70 125.20Z"/><path d="M401.80 119.80L404.40 124.30L399.20 124.30Z"/><path d="M405.80 121.30L408.40 125.80L403.20 125.80Z"/></g>
</g>
<clipPath id="clipb2"><rect x="261.30" y="126.70" width="145.00" height="55.80"/></clipPath>
<g clip-path="url(#clipb2)">
<path d="M263.10 179.00 L266.08 179.00 L269.05 179.00 L272.03 179.00 L275.01 179.00 L277.98 179.00 L280.96 179.00 L283.94 179.00 L286.92 179.00 L289.89 179.00 L292.87 179.00 L295.85 179.00 L298.82 179.00 L301.80 179.00 L304.05 178.75 L306.30 178.50 L310.40 168.60 L314.20 179.30 L317.06 179.34 L319.93 179.39 L322.79 179.43 L325.65 179.48 L328.51 179.52 L331.38 179.56 L334.24 179.61 L337.10 179.65 L339.96 179.69 L342.82 179.74 L345.69 179.78 L348.55 179.83 L351.41 179.87 L354.27 179.91 L357.14 179.96 L360.00 180.00 L362.86 180.04 L365.72 180.09 L368.59 180.13 L371.45 180.18 L374.31 180.22 L377.17 180.26 L380.04 180.31 L382.90 180.35 L385.76 180.39 L388.62 180.44 L391.49 180.48 L394.35 180.53 L397.21 180.57 L400.07 180.61 L402.94 180.66 L405.80 180.70" fill="none" stroke="#666666" stroke-width="0.5"/><g fill="#000000"><rect x="261.00" y="176.90" width="4.2" height="4.2"/><rect x="263.98" y="176.90" width="4.2" height="4.2"/><rect x="266.95" y="176.90" width="4.2" height="4.2"/><rect x="269.93" y="176.90" width="4.2" height="4.2"/><rect x="272.91" y="176.90" width="4.2" height="4.2"/><rect x="275.88" y="176.90" width="4.2" height="4.2"/><rect x="278.86" y="176.90" width="4.2" height="4.2"/><rect x="281.84" y="176.90" width="4.2" height="4.2"/><rect x="284.82" y="176.90" width="4.2" height="4.2"/><rect x="287.79" y="176.90" width="4.2" height="4.2"/><rect x="290.77" y="176.90" width="4.2" height="4.2"/><rect x="293.75" y="176.90" width="4.2" height="4.2"/><rect x="296.72" y="176.90" width="4.2" height="4.2"/><rect x="299.70" y="176.90" width="4.2" height="4.2"/><rect x="301.95" y="176.65" width="4.2" height="4.2"/><rect x="304.20" y="176.40" width="4.2" height="4.2"/><rect x="308.30" y="166.50" width="4.2" height="4.2"/><rect x="312.10" y="177.20" width="4.2" height="4.2"/><rect x="314.96" y="177.24" width="4.2" height="4.2"/><rect x="317.82" y="177.29" width="4.2" height="4.2"/><rect x="320.69" y="177.33" width="4.2" height="4.2"/><rect x="323.55" y="177.38" width="4.2" height="4.2"/><rect x="326.41" y="177.42" width="4.2" height="4.2"/><rect x="329.27" y="177.46" width="4.2" height="4.2"/><rect x="332.14" y="177.51" width="4.2" height="4.2"/><rect x="335.00" y="177.55" width="4.2" height="4.2"/><rect x="337.86" y="177.59" width="4.2" height="4.2"/><rect x="340.72" y="177.64" width="4.2" height="4.2"/><rect x="343.59" y="177.68" width="4.2" height="4.2"/><rect x="346.45" y="177.73" width="4.2" height="4.2"/><rect x="349.31" y="177.77" width="4.2" height="4.2"/><rect x="352.17" y="177.81" width="4.2" height="4.2"/><rect x="355.04" y="177.86" width="4.2" height="4.2"/><rect x="357.90" y="177.90" width="4.2" height="4.2"/><rect x="360.76" y="177.94" width="4.2" height="4.2"/><rect x="363.62" y="177.99" width="4.2" height="4.2"/><rect x="366.49" y="178.03" width="4.2" height="4.2"/><rect x="369.35" y="178.08" width="4.2" height="4.2"/><rect x="372.21" y="178.12" width="4.2" height="4.2"/><rect x="375.07" y="178.16" width="4.2" height="4.2"/><rect x="377.94" y="178.21" width="4.2" height="4.2"/><rect x="380.80" y="178.25" width="4.2" height="4.2"/><rect x="383.66" y="178.29" width="4.2" height="4.2"/><rect x="386.52" y="178.34" width="4.2" height="4.2"/><rect x="389.39" y="178.38" width="4.2" height="4.2"/><rect x="392.25" y="178.43" width="4.2" height="4.2"/><rect x="395.11" y="178.47" width="4.2" height="4.2"/><rect x="397.97" y="178.51" width="4.2" height="4.2"/><rect x="400.84" y="178.56" width="4.2" height="4.2"/><rect x="403.70" y="178.60" width="4.2" height="4.2"/></g>
<path d="M263.10 178.00 L266.80 178.60 L269.72 178.60 L272.63 178.60 L275.55 178.60 L278.47 178.60 L281.38 178.60 L284.30 178.60 L287.22 178.60 L290.13 178.60 L293.05 178.60 L295.97 178.60 L298.88 178.60 L301.80 178.60 L304.00 176.70 L307.50 160.30 L310.00 155.30 L312.70 171.30 L315.00 177.50 L318.00 179.00 L320.95 179.06 L323.90 179.12 L326.86 179.18 L329.81 179.24 L332.76 179.30 L335.71 179.36 L338.66 179.42 L341.62 179.48 L344.57 179.54 L347.52 179.60 L350.47 179.66 L353.42 179.72 L356.38 179.78 L359.33 179.84 L362.28 179.90 L365.23 179.96 L368.18 180.02 L371.14 180.08 L374.09 180.14 L377.04 180.20 L379.99 180.26 L382.94 180.32 L385.90 180.38 L388.85 180.44 L391.80 180.50 L395.13 179.90 L398.47 179.30 L401.80 178.70 L405.80 179.70" fill="none" stroke="#ff6a6a" stroke-width="0.5"/><g fill="#ff0000"><circle cx="263.10" cy="178.00" r="2.35"/><circle cx="266.80" cy="178.60" r="2.35"/><circle cx="269.72" cy="178.60" r="2.35"/><circle cx="272.63" cy="178.60" r="2.35"/><circle cx="275.55" cy="178.60" r="2.35"/><circle cx="278.47" cy="178.60" r="2.35"/><circle cx="281.38" cy="178.60" r="2.35"/><circle cx="284.30" cy="178.60" r="2.35"/><circle cx="287.22" cy="178.60" r="2.35"/><circle cx="290.13" cy="178.60" r="2.35"/><circle cx="293.05" cy="178.60" r="2.35"/><circle cx="295.97" cy="178.60" r="2.35"/><circle cx="298.88" cy="178.60" r="2.35"/><circle cx="301.80" cy="178.60" r="2.35"/><circle cx="304.00" cy="176.70" r="2.35"/><circle cx="307.50" cy="160.30" r="2.35"/><circle cx="310.00" cy="155.30" r="2.35"/><circle cx="312.70" cy="171.30" r="2.35"/><circle cx="315.00" cy="177.50" r="2.35"/><circle cx="318.00" cy="179.00" r="2.35"/><circle cx="320.95" cy="179.06" r="2.35"/><circle cx="323.90" cy="179.12" r="2.35"/><circle cx="326.86" cy="179.18" r="2.35"/><circle cx="329.81" cy="179.24" r="2.35"/><circle cx="332.76" cy="179.30" r="2.35"/><circle cx="335.71" cy="179.36" r="2.35"/><circle cx="338.66" cy="179.42" r="2.35"/><circle cx="341.62" cy="179.48" r="2.35"/><circle cx="344.57" cy="179.54" r="2.35"/><circle cx="347.52" cy="179.60" r="2.35"/><circle cx="350.47" cy="179.66" r="2.35"/><circle cx="353.42" cy="179.72" r="2.35"/><circle cx="356.38" cy="179.78" r="2.35"/><circle cx="359.33" cy="179.84" r="2.35"/><circle cx="362.28" cy="179.90" r="2.35"/><circle cx="365.23" cy="179.96" r="2.35"/><circle cx="368.18" cy="180.02" r="2.35"/><circle cx="371.14" cy="180.08" r="2.35"/><circle cx="374.09" cy="180.14" r="2.35"/><circle cx="377.04" cy="180.20" r="2.35"/><circle cx="379.99" cy="180.26" r="2.35"/><circle cx="382.94" cy="180.32" r="2.35"/><circle cx="385.90" cy="180.38" r="2.35"/><circle cx="388.85" cy="180.44" r="2.35"/><circle cx="391.80" cy="180.50" r="2.35"/><circle cx="395.13" cy="179.90" r="2.35"/><circle cx="398.47" cy="179.30" r="2.35"/><circle cx="401.80" cy="178.70" r="2.35"/><circle cx="405.80" cy="179.70" r="2.35"/></g>
<path d="M263.10 174.20 L266.08 174.26 L269.05 174.32 L272.03 174.38 L275.01 174.45 L277.98 174.51 L280.96 174.57 L283.94 174.63 L286.92 174.69 L289.89 174.75 L292.87 174.82 L295.85 174.88 L298.82 174.94 L301.80 175.00 L304.00 167.40 L307.40 150.20 L310.40 150.20 L312.70 169.40 L315.00 173.50 L318.00 175.80 L321.16 176.46 L324.32 177.12 L327.48 177.78 L330.64 178.44 L333.80 179.10 L336.70 179.10 L339.60 179.11 L342.50 179.11 L345.40 179.12 L348.30 179.12 L351.20 179.13 L354.10 179.13 L357.00 179.14 L359.90 179.14 L362.80 179.15 L365.70 179.16 L368.60 179.16 L371.50 179.16 L374.40 179.17 L377.30 179.17 L380.20 179.18 L383.10 179.19 L386.00 179.19 L388.90 179.19 L391.80 179.20 L395.13 178.10 L398.47 177.00 L401.80 175.90 L405.80 177.20" fill="none" stroke="#4aa04a" stroke-width="0.5"/><g fill="#008000"><path d="M263.10 171.50L265.70 176.00L260.50 176.00Z"/><path d="M266.08 171.56L268.68 176.06L263.48 176.06Z"/><path d="M269.05 171.62L271.65 176.12L266.45 176.12Z"/><path d="M272.03 171.68L274.63 176.18L269.43 176.18Z"/><path d="M275.01 171.75L277.61 176.25L272.41 176.25Z"/><path d="M277.98 171.81L280.58 176.31L275.38 176.31Z"/><path d="M280.96 171.87L283.56 176.37L278.36 176.37Z"/><path d="M283.94 171.93L286.54 176.43L281.34 176.43Z"/><path d="M286.92 171.99L289.52 176.49L284.32 176.49Z"/><path d="M289.89 172.05L292.49 176.55L287.29 176.55Z"/><path d="M292.87 172.12L295.47 176.62L290.27 176.62Z"/><path d="M295.85 172.18L298.45 176.68L293.25 176.68Z"/><path d="M298.82 172.24L301.42 176.74L296.22 176.74Z"/><path d="M301.80 172.30L304.40 176.80L299.20 176.80Z"/><path d="M304.00 164.70L306.60 169.20L301.40 169.20Z"/><path d="M307.40 147.50L310.00 152.00L304.80 152.00Z"/><path d="M310.40 147.50L313.00 152.00L307.80 152.00Z"/><path d="M312.70 166.70L315.30 171.20L310.10 171.20Z"/><path d="M315.00 170.80L317.60 175.30L312.40 175.30Z"/><path d="M318.00 173.10L320.60 177.60L315.40 177.60Z"/><path d="M321.16 173.76L323.76 178.26L318.56 178.26Z"/><path d="M324.32 174.42L326.92 178.92L321.72 178.92Z"/><path d="M327.48 175.08L330.08 179.58L324.88 179.58Z"/><path d="M330.64 175.74L333.24 180.24L328.04 180.24Z"/><path d="M333.80 176.40L336.40 180.90L331.20 180.90Z"/><path d="M336.70 176.41L339.30 180.91L334.10 180.91Z"/><path d="M339.60 176.41L342.20 180.91L337.00 180.91Z"/><path d="M342.50 176.41L345.10 180.91L339.90 180.91Z"/><path d="M345.40 176.42L348.00 180.92L342.80 180.92Z"/><path d="M348.30 176.43L350.90 180.93L345.70 180.93Z"/><path d="M351.20 176.43L353.80 180.93L348.60 180.93Z"/><path d="M354.10 176.44L356.70 180.94L351.50 180.94Z"/><path d="M357.00 176.44L359.60 180.94L354.40 180.94Z"/><path d="M359.90 176.44L362.50 180.94L357.30 180.94Z"/><path d="M362.80 176.45L365.40 180.95L360.20 180.95Z"/><path d="M365.70 176.46L368.30 180.96L363.10 180.96Z"/><path d="M368.60 176.46L371.20 180.96L366.00 180.96Z"/><path d="M371.50 176.47L374.10 180.97L368.90 180.97Z"/><path d="M374.40 176.47L377.00 180.97L371.80 180.97Z"/><path d="M377.30 176.47L379.90 180.97L374.70 180.97Z"/><path d="M380.20 176.48L382.80 180.98L377.60 180.98Z"/><path d="M383.10 176.49L385.70 180.99L380.50 180.99Z"/><path d="M386.00 176.49L388.60 180.99L383.40 180.99Z"/><path d="M388.90 176.50L391.50 181.00L386.30 181.00Z"/><path d="M391.80 176.50L394.40 181.00L389.20 181.00Z"/><path d="M395.13 175.40L397.73 179.90L392.53 179.90Z"/><path d="M398.47 174.30L401.07 178.80L395.87 178.80Z"/><path d="M401.80 173.20L404.40 177.70L399.20 177.70Z"/><path d="M405.80 174.50L408.40 179.00L403.20 179.00Z"/></g>
</g>
<clipPath id="clipb3"><rect x="261.30" y="181.90" width="145.00" height="55.80"/></clipPath>
<g clip-path="url(#clipb3)">
<path d="M263.10 233.80 L266.08 233.80 L269.05 233.80 L272.03 233.80 L275.01 233.80 L277.98 233.80 L280.96 233.80 L283.94 233.80 L286.92 233.80 L289.89 233.80 L292.87 233.80 L295.85 233.80 L298.82 233.80 L301.80 233.80 L305.80 233.40 L309.30 232.40 L312.40 224.60 L315.10 225.40 L318.10 233.90 L321.02 233.94 L323.95 233.97 L326.87 234.01 L329.79 234.05 L332.72 234.08 L335.64 234.12 L338.56 234.16 L341.49 234.19 L344.41 234.23 L347.33 234.27 L350.26 234.30 L353.18 234.34 L356.10 234.38 L359.03 234.41 L361.95 234.45 L364.87 234.49 L367.80 234.52 L370.72 234.56 L373.64 234.60 L376.57 234.63 L379.49 234.67 L382.41 234.71 L385.34 234.74 L388.26 234.78 L391.18 234.82 L394.11 234.85 L397.03 234.89 L399.95 234.93 L402.88 234.96 L405.80 235.00" fill="none" stroke="#666666" stroke-width="0.5"/><g fill="#000000"><rect x="261.00" y="231.70" width="4.2" height="4.2"/><rect x="263.98" y="231.70" width="4.2" height="4.2"/><rect x="266.95" y="231.70" width="4.2" height="4.2"/><rect x="269.93" y="231.70" width="4.2" height="4.2"/><rect x="272.91" y="231.70" width="4.2" height="4.2"/><rect x="275.88" y="231.70" width="4.2" height="4.2"/><rect x="278.86" y="231.70" width="4.2" height="4.2"/><rect x="281.84" y="231.70" width="4.2" height="4.2"/><rect x="284.82" y="231.70" width="4.2" height="4.2"/><rect x="287.79" y="231.70" width="4.2" height="4.2"/><rect x="290.77" y="231.70" width="4.2" height="4.2"/><rect x="293.75" y="231.70" width="4.2" height="4.2"/><rect x="296.72" y="231.70" width="4.2" height="4.2"/><rect x="299.70" y="231.70" width="4.2" height="4.2"/><rect x="303.70" y="231.30" width="4.2" height="4.2"/><rect x="307.20" y="230.30" width="4.2" height="4.2"/><rect x="310.30" y="222.50" width="4.2" height="4.2"/><rect x="313.00" y="223.30" width="4.2" height="4.2"/><rect x="316.00" y="231.80" width="4.2" height="4.2"/><rect x="318.92" y="231.84" width="4.2" height="4.2"/><rect x="321.85" y="231.87" width="4.2" height="4.2"/><rect x="324.77" y="231.91" width="4.2" height="4.2"/><rect x="327.69" y="231.95" width="4.2" height="4.2"/><rect x="330.62" y="231.98" width="4.2" height="4.2"/><rect x="333.54" y="232.02" width="4.2" height="4.2"/><rect x="336.46" y="232.06" width="4.2" height="4.2"/><rect x="339.39" y="232.09" width="4.2" height="4.2"/><rect x="342.31" y="232.13" width="4.2" height="4.2"/><rect x="345.23" y="232.17" width="4.2" height="4.2"/><rect x="348.16" y="232.20" width="4.2" height="4.2"/><rect x="351.08" y="232.24" width="4.2" height="4.2"/><rect x="354.00" y="232.28" width="4.2" height="4.2"/><rect x="356.93" y="232.31" width="4.2" height="4.2"/><rect x="359.85" y="232.35" width="4.2" height="4.2"/><rect x="362.77" y="232.39" width="4.2" height="4.2"/><rect x="365.70" y="232.42" width="4.2" height="4.2"/><rect x="368.62" y="232.46" width="4.2" height="4.2"/><rect x="371.54" y="232.50" width="4.2" height="4.2"/><rect x="374.47" y="232.53" width="4.2" height="4.2"/><rect x="377.39" y="232.57" width="4.2" height="4.2"/><rect x="380.31" y="232.61" width="4.2" height="4.2"/><rect x="383.24" y="232.64" width="4.2" height="4.2"/><rect x="386.16" y="232.68" width="4.2" height="4.2"/><rect x="389.08" y="232.72" width="4.2" height="4.2"/><rect x="392.01" y="232.75" width="4.2" height="4.2"/><rect x="394.93" y="232.79" width="4.2" height="4.2"/><rect x="397.85" y="232.83" width="4.2" height="4.2"/><rect x="400.78" y="232.86" width="4.2" height="4.2"/><rect x="403.70" y="232.90" width="4.2" height="4.2"/></g>
<path d="M263.10 231.90 L266.00 233.70 L268.98 233.70 L271.97 233.70 L274.95 233.70 L277.93 233.70 L280.92 233.70 L283.90 233.70 L286.88 233.70 L289.87 233.70 L292.85 233.70 L295.83 233.70 L298.82 233.70 L301.80 233.70 L304.05 232.55 L306.30 231.40 L309.70 215.10 L312.80 211.60 L315.50 228.80 L318.10 232.60 L321.80 234.60 L324.72 234.60 L327.63 234.60 L330.55 234.60 L333.47 234.60 L336.38 234.60 L339.30 234.60 L342.22 234.60 L345.13 234.60 L348.05 234.60 L350.97 234.60 L353.88 234.60 L356.80 234.60 L359.72 234.60 L362.63 234.60 L365.55 234.60 L368.47 234.60 L371.38 234.60 L374.30 234.60 L377.22 234.60 L380.13 234.60 L383.05 234.60 L385.97 234.60 L388.88 234.60 L391.80 234.60 L395.13 234.30 L398.47 234.00 L401.80 233.70 L405.80 234.70" fill="none" stroke="#ff6a6a" stroke-width="0.5"/><g fill="#ff0000"><circle cx="263.10" cy="231.90" r="2.35"/><circle cx="266.00" cy="233.70" r="2.35"/><circle cx="268.98" cy="233.70" r="2.35"/><circle cx="271.97" cy="233.70" r="2.35"/><circle cx="274.95" cy="233.70" r="2.35"/><circle cx="277.93" cy="233.70" r="2.35"/><circle cx="280.92" cy="233.70" r="2.35"/><circle cx="283.90" cy="233.70" r="2.35"/><circle cx="286.88" cy="233.70" r="2.35"/><circle cx="289.87" cy="233.70" r="2.35"/><circle cx="292.85" cy="233.70" r="2.35"/><circle cx="295.83" cy="233.70" r="2.35"/><circle cx="298.82" cy="233.70" r="2.35"/><circle cx="301.80" cy="233.70" r="2.35"/><circle cx="304.05" cy="232.55" r="2.35"/><circle cx="306.30" cy="231.40" r="2.35"/><circle cx="309.70" cy="215.10" r="2.35"/><circle cx="312.80" cy="211.60" r="2.35"/><circle cx="315.50" cy="228.80" r="2.35"/><circle cx="318.10" cy="232.60" r="2.35"/><circle cx="321.80" cy="234.60" r="2.35"/><circle cx="324.72" cy="234.60" r="2.35"/><circle cx="327.63" cy="234.60" r="2.35"/><circle cx="330.55" cy="234.60" r="2.35"/><circle cx="333.47" cy="234.60" r="2.35"/><circle cx="336.38" cy="234.60" r="2.35"/><circle cx="339.30" cy="234.60" r="2.35"/><circle cx="342.22" cy="234.60" r="2.35"/><circle cx="345.13" cy="234.60" r="2.35"/><circle cx="348.05" cy="234.60" r="2.35"/><circle cx="350.97" cy="234.60" r="2.35"/><circle cx="353.88" cy="234.60" r="2.35"/><circle cx="356.80" cy="234.60" r="2.35"/><circle cx="359.72" cy="234.60" r="2.35"/><circle cx="362.63" cy="234.60" r="2.35"/><circle cx="365.55" cy="234.60" r="2.35"/><circle cx="368.47" cy="234.60" r="2.35"/><circle cx="371.38" cy="234.60" r="2.35"/><circle cx="374.30" cy="234.60" r="2.35"/><circle cx="377.22" cy="234.60" r="2.35"/><circle cx="380.13" cy="234.60" r="2.35"/><circle cx="383.05" cy="234.60" r="2.35"/><circle cx="385.97" cy="234.60" r="2.35"/><circle cx="388.88" cy="234.60" r="2.35"/><circle cx="391.80" cy="234.60" r="2.35"/><circle cx="395.13" cy="234.30" r="2.35"/><circle cx="398.47" cy="234.00" r="2.35"/><circle cx="401.80" cy="233.70" r="2.35"/><circle cx="405.80" cy="234.70" r="2.35"/></g>
<path d="M263.10 231.40 L266.08 231.40 L269.05 231.40 L272.03 231.40 L275.01 231.40 L277.98 231.40 L280.96 231.40 L283.94 231.40 L286.92 231.40 L289.89 231.40 L292.87 231.40 L295.85 231.40 L298.82 231.40 L301.80 231.40 L304.00 229.90 L305.90 228.10 L307.50 216.60 L310.10 206.30 L313.20 216.20 L315.80 225.80 L318.90 229.60 L321.00 233.50 L324.20 233.80 L327.40 234.10 L330.60 234.40 L333.80 234.70 L336.70 234.70 L339.60 234.70 L342.50 234.70 L345.40 234.70 L348.30 234.70 L351.20 234.70 L354.10 234.70 L357.00 234.70 L359.90 234.70 L362.80 234.70 L365.70 234.70 L368.60 234.70 L371.50 234.70 L374.40 234.70 L377.30 234.70 L380.20 234.70 L383.10 234.70 L386.00 234.70 L388.90 234.70 L391.80 234.70 L395.13 233.53 L398.47 232.37 L401.80 231.20 L405.80 232.20" fill="none" stroke="#4aa04a" stroke-width="0.5"/><g fill="#008000"><path d="M263.10 228.70L265.70 233.20L260.50 233.20Z"/><path d="M266.08 228.70L268.68 233.20L263.48 233.20Z"/><path d="M269.05 228.70L271.65 233.20L266.45 233.20Z"/><path d="M272.03 228.70L274.63 233.20L269.43 233.20Z"/><path d="M275.01 228.70L277.61 233.20L272.41 233.20Z"/><path d="M277.98 228.70L280.58 233.20L275.38 233.20Z"/><path d="M280.96 228.70L283.56 233.20L278.36 233.20Z"/><path d="M283.94 228.70L286.54 233.20L281.34 233.20Z"/><path d="M286.92 228.70L289.52 233.20L284.32 233.20Z"/><path d="M289.89 228.70L292.49 233.20L287.29 233.20Z"/><path d="M292.87 228.70L295.47 233.20L290.27 233.20Z"/><path d="M295.85 228.70L298.45 233.20L293.25 233.20Z"/><path d="M298.82 228.70L301.42 233.20L296.22 233.20Z"/><path d="M301.80 228.70L304.40 233.20L299.20 233.20Z"/><path d="M304.00 227.20L306.60 231.70L301.40 231.70Z"/><path d="M305.90 225.40L308.50 229.90L303.30 229.90Z"/><path d="M307.50 213.90L310.10 218.40L304.90 218.40Z"/><path d="M310.10 203.60L312.70 208.10L307.50 208.10Z"/><path d="M313.20 213.50L315.80 218.00L310.60 218.00Z"/><path d="M315.80 223.10L318.40 227.60L313.20 227.60Z"/><path d="M318.90 226.90L321.50 231.40L316.30 231.40Z"/><path d="M321.00 230.80L323.60 235.30L318.40 235.30Z"/><path d="M324.20 231.10L326.80 235.60L321.60 235.60Z"/><path d="M327.40 231.40L330.00 235.90L324.80 235.90Z"/><path d="M330.60 231.70L333.20 236.20L328.00 236.20Z"/><path d="M333.80 232.00L336.40 236.50L331.20 236.50Z"/><path d="M336.70 232.00L339.30 236.50L334.10 236.50Z"/><path d="M339.60 232.00L342.20 236.50L337.00 236.50Z"/><path d="M342.50 232.00L345.10 236.50L339.90 236.50Z"/><path d="M345.40 232.00L348.00 236.50L342.80 236.50Z"/><path d="M348.30 232.00L350.90 236.50L345.70 236.50Z"/><path d="M351.20 232.00L353.80 236.50L348.60 236.50Z"/><path d="M354.10 232.00L356.70 236.50L351.50 236.50Z"/><path d="M357.00 232.00L359.60 236.50L354.40 236.50Z"/><path d="M359.90 232.00L362.50 236.50L357.30 236.50Z"/><path d="M362.80 232.00L365.40 236.50L360.20 236.50Z"/><path d="M365.70 232.00L368.30 236.50L363.10 236.50Z"/><path d="M368.60 232.00L371.20 236.50L366.00 236.50Z"/><path d="M371.50 232.00L374.10 236.50L368.90 236.50Z"/><path d="M374.40 232.00L377.00 236.50L371.80 236.50Z"/><path d="M377.30 232.00L379.90 236.50L374.70 236.50Z"/><path d="M380.20 232.00L382.80 236.50L377.60 236.50Z"/><path d="M383.10 232.00L385.70 236.50L380.50 236.50Z"/><path d="M386.00 232.00L388.60 236.50L383.40 236.50Z"/><path d="M388.90 232.00L391.50 236.50L386.30 236.50Z"/><path d="M391.80 232.00L394.40 236.50L389.20 236.50Z"/><path d="M395.13 230.83L397.73 235.33L392.53 235.33Z"/><path d="M398.47 229.67L401.07 234.17L395.87 234.17Z"/><path d="M401.80 228.50L404.40 233.00L399.20 233.00Z"/><path d="M405.80 229.50L408.40 234.00L403.20 234.00Z"/></g>
</g>
<text transform="translate(257.40 74.40) scale(1 1.060)" font-size="9.70" text-anchor="end">0.0000</text>
<text transform="translate(257.40 52.32) scale(1 1.060)" font-size="9.70" text-anchor="end">0.0002</text>
<text transform="translate(257.40 30.24) scale(1 1.060)" font-size="9.70" text-anchor="end">0.0004</text>
<text transform="translate(263.20 25.20) scale(1 1.060)" font-size="9.60" text-anchor="start">0.2 m</text>
<text transform="translate(257.40 129.60) scale(1 1.060)" font-size="9.70" text-anchor="end">0.0000</text>
<text transform="translate(257.40 107.52) scale(1 1.060)" font-size="9.70" text-anchor="end">0.0002</text>
<text transform="translate(257.40 85.44) scale(1 1.060)" font-size="9.70" text-anchor="end">0.0004</text>
<text transform="translate(263.20 81.10) scale(1 1.060)" font-size="9.60" text-anchor="start">0.4 m</text>
<text transform="translate(257.40 184.80) scale(1 1.060)" font-size="9.70" text-anchor="end">0.0000</text>
<text transform="translate(257.40 162.72) scale(1 1.060)" font-size="9.70" text-anchor="end">0.0002</text>
<text transform="translate(257.40 140.64) scale(1 1.060)" font-size="9.70" text-anchor="end">0.0004</text>
<text transform="translate(263.20 135.70) scale(1 1.060)" font-size="9.60" text-anchor="start">0.6 m</text>
<text transform="translate(257.40 240.00) scale(1 1.060)" font-size="9.70" text-anchor="end">0.0000</text>
<text transform="translate(257.40 217.92) scale(1 1.060)" font-size="9.70" text-anchor="end">0.0002</text>
<text transform="translate(257.40 195.84) scale(1 1.060)" font-size="9.70" text-anchor="end">0.0004</text>
<text transform="translate(263.20 190.40) scale(1 1.060)" font-size="9.60" text-anchor="start">0.8 m</text>
<text transform="translate(261.80 248.90) scale(1 1.060)" font-size="9.60" text-anchor="middle">0.00</text>
<text transform="translate(288.80 248.90) scale(1 1.060)" font-size="9.60" text-anchor="middle">0.01</text>
<text transform="translate(315.80 248.90) scale(1 1.060)" font-size="9.60" text-anchor="middle">0.02</text>
<text transform="translate(342.80 248.90) scale(1 1.060)" font-size="9.60" text-anchor="middle">0.03</text>
<text transform="translate(369.80 248.90) scale(1 1.060)" font-size="9.60" text-anchor="middle">0.04</text>
<text transform="translate(396.80 248.90) scale(1 1.060)" font-size="9.60" text-anchor="middle">0.05</text>
<text transform="translate(266.80 269.30) scale(1 1.020)" font-size="14.75" text-anchor="start">Radial distance r / m</text>
<text transform="translate(222.10 125.30) rotate(-90)" font-size="14.9" text-anchor="middle">Solids concentration (1-ε) /-</text>
<text transform="translate(211.00 12.60) scale(1 1.050)" font-size="14.50" text-anchor="start">b)</text>
<text x="331.80" y="27.10" font-size="9.0">ṁ<tspan font-size="6.7" dy="3.2" dx="0.9">particles</tspan></text>
<path d="M331.00 38.30H352.50" stroke="#b4b4b4" stroke-width="1"/>
<g fill="#000000"><rect x="339.90" y="36.20" width="4.2" height="4.2"/></g>
<text transform="translate(356.50 42.10) scale(1 1.060)" font-size="9.80" text-anchor="start">0.24 kg/h</text>
<path d="M331.00 50.20H352.50" stroke="#ffa8a8" stroke-width="1"/>
<g fill="#ff0000"><circle cx="342.00" cy="50.20" r="2.35"/></g>
<text transform="translate(356.50 54.00) scale(1 1.060)" font-size="9.80" text-anchor="start">0.46 kg/h</text>
<path d="M331.00 61.80H352.50" stroke="#9ccc9c" stroke-width="1"/>
<g fill="#008000"><path d="M342.00 59.10L344.60 63.60L339.40 63.60Z"/></g>
<text transform="translate(356.50 65.60) scale(1 1.060)" font-size="9.80" text-anchor="start">0.69 kg/h</text>
<g stroke="#222" stroke-width="1" fill="none">
<rect x="54.30" y="293.50" width="144.00" height="55.20"/>
<path d="M54.30 348.70V345.70M54.30 293.50V296.50"/>
<path d="M67.80 348.70V346.90M67.80 293.50V295.30"/>
<path d="M81.30 348.70V345.70M81.30 293.50V296.50"/>
<path d="M94.80 348.70V346.90M94.80 293.50V295.30"/>
<path d="M108.30 348.70V345.70M108.30 293.50V296.50"/>
<path d="M121.80 348.70V346.90M121.80 293.50V295.30"/>
<path d="M135.30 348.70V345.70M135.30 293.50V296.50"/>
<path d="M148.80 348.70V346.90M148.80 293.50V295.30"/>
<path d="M162.30 348.70V345.70M162.30 293.50V296.50"/>
<path d="M175.80 348.70V346.90M175.80 293.50V295.30"/>
<path d="M189.30 348.70V345.70M189.30 293.50V296.50"/>
<path d="M54.30 348.70H57.30M198.30 348.70H195.30"/>
<path d="M54.30 321.10H57.30M198.30 321.10H195.30"/>
<path d="M54.30 293.50H57.30M198.30 293.50H195.30"/>
<path d="M54.30 334.90H56.10M198.30 334.90H196.50"/>
<path d="M54.30 307.30H56.10M198.30 307.30H196.50"/>
<rect x="54.30" y="348.70" width="144.00" height="55.20"/>
<path d="M54.30 403.90V400.90"/>
<path d="M67.80 403.90V402.10"/>
<path d="M81.30 403.90V400.90"/>
<path d="M94.80 403.90V402.10"/>
<path d="M108.30 403.90V400.90"/>
<path d="M121.80 403.90V402.10"/>
<path d="M135.30 403.90V400.90"/>
<path d="M148.80 403.90V402.10"/>
<path d="M162.30 403.90V400.90"/>
<path d="M175.80 403.90V402.10"/>
<path d="M189.30 403.90V400.90"/>
<path d="M54.30 403.90H57.30M198.30 403.90H195.30"/>
<path d="M54.30 376.30H57.30M198.30 376.30H195.30"/>
<path d="M54.30 348.70H57.30M198.30 348.70H195.30"/>
<path d="M54.30 390.10H56.10M198.30 390.10H196.50"/>
<path d="M54.30 362.50H56.10M198.30 362.50H196.50"/>
<rect x="54.30" y="403.90" width="144.00" height="55.20"/>
<path d="M54.30 459.10V456.10"/>
<path d="M67.80 459.10V457.30"/>
<path d="M81.30 459.10V456.10"/>
<path d="M94.80 459.10V457.30"/>
<path d="M108.30 459.10V456.10"/>
<path d="M121.80 459.10V457.30"/>
<path d="M135.30 459.10V456.10"/>
<path d="M148.80 459.10V457.30"/>
<path d="M162.30 459.10V456.10"/>
<path d="M175.80 459.10V457.30"/>
<path d="M189.30 459.10V456.10"/>
<path d="M54.30 459.10H57.30M198.30 459.10H195.30"/>
<path d="M54.30 431.50H57.30M198.30 431.50H195.30"/>
<path d="M54.30 403.90H57.30M198.30 403.90H195.30"/>
<path d="M54.30 445.30H56.10M198.30 445.30H196.50"/>
<path d="M54.30 417.70H56.10M198.30 417.70H196.50"/>
<rect x="54.30" y="459.10" width="144.00" height="55.20"/>
<path d="M54.30 514.30V511.30"/>
<path d="M67.80 514.30V512.50"/>
<path d="M81.30 514.30V511.30"/>
<path d="M94.80 514.30V512.50"/>
<path d="M108.30 514.30V511.30"/>
<path d="M121.80 514.30V512.50"/>
<path d="M135.30 514.30V511.30"/>
<path d="M148.80 514.30V512.50"/>
<path d="M162.30 514.30V511.30"/>
<path d="M175.80 514.30V512.50"/>
<path d="M189.30 514.30V511.30"/>
<path d="M54.30 514.30H57.30M198.30 514.30H195.30"/>
<path d="M54.30 486.70H57.30M198.30 486.70H195.30"/>
<path d="M54.30 459.10H57.30M198.30 459.10H195.30"/>
<path d="M54.30 500.50H56.10M198.30 500.50H196.50"/>
<path d="M54.30 472.90H56.10M198.30 472.90H196.50"/>
</g>
<clipPath id="clipc0"><rect x="53.80" y="293.50" width="145.00" height="55.80"/></clipPath>
<g clip-path="url(#clipc0)">
<path d="M55.60 312.40 L59.00 325.60 L61.50 327.80 L64.00 330.00 L67.33 330.87 L70.67 331.73 L74.00 332.60 L76.67 333.50 L79.33 334.40 L82.00 335.30 L86.00 333.50 L89.00 330.00 L92.50 322.90 L94.50 315.50 L97.00 319.40 L100.00 332.60 L102.00 339.70 L104.00 342.30 L106.58 342.50 L109.15 342.70 L111.72 342.90 L114.30 343.10 L117.16 343.26 L120.01 343.43 L122.87 343.59 L125.73 343.76 L128.59 343.92 L131.44 344.09 L134.30 344.25 L137.16 344.41 L140.01 344.58 L142.87 344.74 L145.73 344.91 L148.59 345.07 L151.44 345.24 L154.30 345.40 L157.23 345.43 L160.17 345.45 L163.10 345.48 L166.03 345.51 L168.97 345.53 L171.90 345.56 L174.83 345.59 L177.77 345.61 L180.70 345.64 L183.63 345.67 L186.57 345.69 L189.50 345.72 L192.43 345.75 L195.37 345.77 L198.30 345.80" fill="none" stroke="#666666" stroke-width="0.5"/><g fill="#000000"><rect x="53.50" y="310.30" width="4.2" height="4.2"/><rect x="56.90" y="323.50" width="4.2" height="4.2"/><rect x="59.40" y="325.70" width="4.2" height="4.2"/><rect x="61.90" y="327.90" width="4.2" height="4.2"/><rect x="65.23" y="328.77" width="4.2" height="4.2"/><rect x="68.57" y="329.63" width="4.2" height="4.2"/><rect x="71.90" y="330.50" width="4.2" height="4.2"/><rect x="74.57" y="331.40" width="4.2" height="4.2"/><rect x="77.23" y="332.30" width="4.2" height="4.2"/><rect x="79.90" y="333.20" width="4.2" height="4.2"/><rect x="83.90" y="331.40" width="4.2" height="4.2"/><rect x="86.90" y="327.90" width="4.2" height="4.2"/><rect x="90.40" y="320.80" width="4.2" height="4.2"/><rect x="92.40" y="313.40" width="4.2" height="4.2"/><rect x="94.90" y="317.30" width="4.2" height="4.2"/><rect x="97.90" y="330.50" width="4.2" height="4.2"/><rect x="99.90" y="337.60" width="4.2" height="4.2"/><rect x="101.90" y="340.20" width="4.2" height="4.2"/><rect x="104.48" y="340.40" width="4.2" height="4.2"/><rect x="107.05" y="340.60" width="4.2" height="4.2"/><rect x="109.62" y="340.80" width="4.2" height="4.2"/><rect x="112.20" y="341.00" width="4.2" height="4.2"/><rect x="115.06" y="341.16" width="4.2" height="4.2"/><rect x="117.91" y="341.33" width="4.2" height="4.2"/><rect x="120.77" y="341.49" width="4.2" height="4.2"/><rect x="123.63" y="341.66" width="4.2" height="4.2"/><rect x="126.49" y="341.82" width="4.2" height="4.2"/><rect x="129.34" y="341.99" width="4.2" height="4.2"/><rect x="132.20" y="342.15" width="4.2" height="4.2"/><rect x="135.06" y="342.31" width="4.2" height="4.2"/><rect x="137.91" y="342.48" width="4.2" height="4.2"/><rect x="140.77" y="342.64" width="4.2" height="4.2"/><rect x="143.63" y="342.81" width="4.2" height="4.2"/><rect x="146.49" y="342.97" width="4.2" height="4.2"/><rect x="149.34" y="343.14" width="4.2" height="4.2"/><rect x="152.20" y="343.30" width="4.2" height="4.2"/><rect x="155.13" y="343.33" width="4.2" height="4.2"/><rect x="158.07" y="343.35" width="4.2" height="4.2"/><rect x="161.00" y="343.38" width="4.2" height="4.2"/><rect x="163.93" y="343.41" width="4.2" height="4.2"/><rect x="166.87" y="343.43" width="4.2" height="4.2"/><rect x="169.80" y="343.46" width="4.2" height="4.2"/><rect x="172.73" y="343.49" width="4.2" height="4.2"/><rect x="175.67" y="343.51" width="4.2" height="4.2"/><rect x="178.60" y="343.54" width="4.2" height="4.2"/><rect x="181.53" y="343.57" width="4.2" height="4.2"/><rect x="184.47" y="343.59" width="4.2" height="4.2"/><rect x="187.40" y="343.62" width="4.2" height="4.2"/><rect x="190.33" y="343.65" width="4.2" height="4.2"/><rect x="193.27" y="343.67" width="4.2" height="4.2"/><rect x="196.20" y="343.70" width="4.2" height="4.2"/></g>
<path d="M55.60 316.80 L58.00 326.50 L61.00 328.50 L64.00 330.50 L67.33 331.37 L70.67 332.23 L74.00 333.10 L76.67 333.73 L79.33 334.37 L82.00 335.00 L84.00 333.10 L86.00 325.00 L89.00 308.50 L92.00 317.60 L93.50 340.00 L96.00 342.10 L98.67 342.63 L101.33 343.17 L104.00 343.70 L106.79 344.01 L109.58 344.32 L112.36 344.64 L115.15 344.95 L117.94 345.26 L120.72 345.57 L123.51 345.89 L126.30 346.20 L129.18 346.22 L132.06 346.25 L134.94 346.27 L137.82 346.30 L140.70 346.32 L143.58 346.34 L146.46 346.37 L149.34 346.39 L152.22 346.42 L155.10 346.44 L157.98 346.46 L160.86 346.49 L163.74 346.51 L166.62 346.54 L169.50 346.56 L172.38 346.58 L175.26 346.61 L178.14 346.63 L181.02 346.66 L183.90 346.68 L186.78 346.70 L189.66 346.73 L192.54 346.75 L195.42 346.78 L198.30 346.80" fill="none" stroke="#ff6a6a" stroke-width="0.5"/><g fill="#ff0000"><circle cx="55.60" cy="316.80" r="2.35"/><circle cx="58.00" cy="326.50" r="2.35"/><circle cx="61.00" cy="328.50" r="2.35"/><circle cx="64.00" cy="330.50" r="2.35"/><circle cx="67.33" cy="331.37" r="2.35"/><circle cx="70.67" cy="332.23" r="2.35"/><circle cx="74.00" cy="333.10" r="2.35"/><circle cx="76.67" cy="333.73" r="2.35"/><circle cx="79.33" cy="334.37" r="2.35"/><circle cx="82.00" cy="335.00" r="2.35"/><circle cx="84.00" cy="333.10" r="2.35"/><circle cx="86.00" cy="325.00" r="2.35"/><circle cx="89.00" cy="308.50" r="2.35"/><circle cx="92.00" cy="317.60" r="2.35"/><circle cx="93.50" cy="340.00" r="2.35"/><circle cx="96.00" cy="342.10" r="2.35"/><circle cx="98.67" cy="342.63" r="2.35"/><circle cx="101.33" cy="343.17" r="2.35"/><circle cx="104.00" cy="343.70" r="2.35"/><circle cx="106.79" cy="344.01" r="2.35"/><circle cx="109.58" cy="344.32" r="2.35"/><circle cx="112.36" cy="344.64" r="2.35"/><circle cx="115.15" cy="344.95" r="2.35"/><circle cx="117.94" cy="345.26" r="2.35"/><circle cx="120.72" cy="345.57" r="2.35"/><circle cx="123.51" cy="345.89" r="2.35"/><circle cx="126.30" cy="346.20" r="2.35"/><circle cx="129.18" cy="346.22" r="2.35"/><circle cx="132.06" cy="346.25" r="2.35"/><circle cx="134.94" cy="346.27" r="2.35"/><circle cx="137.82" cy="346.30" r="2.35"/><circle cx="140.70" cy="346.32" r="2.35"/><circle cx="143.58" cy="346.34" r="2.35"/><circle cx="146.46" cy="346.37" r="2.35"/><circle cx="149.34" cy="346.39" r="2.35"/><circle cx="152.22" cy="346.42" r="2.35"/><circle cx="155.10" cy="346.44" r="2.35"/><circle cx="157.98" cy="346.46" r="2.35"/><circle cx="160.86" cy="346.49" r="2.35"/><circle cx="163.74" cy="346.51" r="2.35"/><circle cx="166.62" cy="346.54" r="2.35"/><circle cx="169.50" cy="346.56" r="2.35"/><circle cx="172.38" cy="346.58" r="2.35"/><circle cx="175.26" cy="346.61" r="2.35"/><circle cx="178.14" cy="346.63" r="2.35"/><circle cx="181.02" cy="346.66" r="2.35"/><circle cx="183.90" cy="346.68" r="2.35"/><circle cx="186.78" cy="346.70" r="2.35"/><circle cx="189.66" cy="346.73" r="2.35"/><circle cx="192.54" cy="346.75" r="2.35"/><circle cx="195.42" cy="346.78" r="2.35"/><circle cx="198.30" cy="346.80" r="2.35"/></g>
<path d="M55.60 319.40 L58.00 328.20 L61.00 329.55 L64.00 330.90 L67.33 331.77 L70.67 332.63 L74.00 333.50 L76.67 334.10 L79.33 334.70 L82.00 335.30 L84.00 333.50 L86.00 324.70 L89.00 308.50 L92.00 320.30 L93.50 340.50 L96.00 342.60 L98.67 343.07 L101.33 343.53 L104.00 344.00 L106.79 344.31 L109.58 344.62 L112.36 344.94 L115.15 345.25 L117.94 345.56 L120.72 345.88 L123.51 346.19 L126.30 346.50 L129.18 346.52 L132.06 346.54 L134.94 346.56 L137.82 346.58 L140.70 346.60 L143.58 346.62 L146.46 346.64 L149.34 346.66 L152.22 346.68 L155.10 346.70 L157.98 346.72 L160.86 346.74 L163.74 346.76 L166.62 346.78 L169.50 346.80 L172.38 346.82 L175.26 346.84 L178.14 346.86 L181.02 346.88 L183.90 346.90 L186.78 346.92 L189.66 346.94 L192.54 346.96 L195.42 346.98 L198.30 347.00" fill="none" stroke="#4aa04a" stroke-width="0.5"/><g fill="#008000"><path d="M55.60 316.70L58.20 321.20L53.00 321.20Z"/><path d="M58.00 325.50L60.60 330.00L55.40 330.00Z"/><path d="M61.00 326.85L63.60 331.35L58.40 331.35Z"/><path d="M64.00 328.20L66.60 332.70L61.40 332.70Z"/><path d="M67.33 329.07L69.93 333.57L64.73 333.57Z"/><path d="M70.67 329.93L73.27 334.43L68.07 334.43Z"/><path d="M74.00 330.80L76.60 335.30L71.40 335.30Z"/><path d="M76.67 331.40L79.27 335.90L74.07 335.90Z"/><path d="M79.33 332.00L81.93 336.50L76.73 336.50Z"/><path d="M82.00 332.60L84.60 337.10L79.40 337.10Z"/><path d="M84.00 330.80L86.60 335.30L81.40 335.30Z"/><path d="M86.00 322.00L88.60 326.50L83.40 326.50Z"/><path d="M89.00 305.80L91.60 310.30L86.40 310.30Z"/><path d="M92.00 317.60L94.60 322.10L89.40 322.10Z"/><path d="M93.50 337.80L96.10 342.30L90.90 342.30Z"/><path d="M96.00 339.90L98.60 344.40L93.40 344.40Z"/><path d="M98.67 340.37L101.27 344.87L96.07 344.87Z"/><path d="M101.33 340.83L103.93 345.33L98.73 345.33Z"/><path d="M104.00 341.30L106.60 345.80L101.40 345.80Z"/><path d="M106.79 341.61L109.39 346.11L104.19 346.11Z"/><path d="M109.58 341.93L112.17 346.43L106.98 346.43Z"/><path d="M112.36 342.24L114.96 346.74L109.76 346.74Z"/><path d="M115.15 342.55L117.75 347.05L112.55 347.05Z"/><path d="M117.94 342.86L120.54 347.36L115.34 347.36Z"/><path d="M120.72 343.18L123.32 347.68L118.12 347.68Z"/><path d="M123.51 343.49L126.11 347.99L120.91 347.99Z"/><path d="M126.30 343.80L128.90 348.30L123.70 348.30Z"/><path d="M129.18 343.82L131.78 348.32L126.58 348.32Z"/><path d="M132.06 343.84L134.66 348.34L129.46 348.34Z"/><path d="M134.94 343.86L137.54 348.36L132.34 348.36Z"/><path d="M137.82 343.88L140.42 348.38L135.22 348.38Z"/><path d="M140.70 343.90L143.30 348.40L138.10 348.40Z"/><path d="M143.58 343.92L146.18 348.42L140.98 348.42Z"/><path d="M146.46 343.94L149.06 348.44L143.86 348.44Z"/><path d="M149.34 343.96L151.94 348.46L146.74 348.46Z"/><path d="M152.22 343.98L154.82 348.48L149.62 348.48Z"/><path d="M155.10 344.00L157.70 348.50L152.50 348.50Z"/><path d="M157.98 344.02L160.58 348.52L155.38 348.52Z"/><path d="M160.86 344.04L163.46 348.54L158.26 348.54Z"/><path d="M163.74 344.06L166.34 348.56L161.14 348.56Z"/><path d="M166.62 344.08L169.22 348.58L164.02 348.58Z"/><path d="M169.50 344.10L172.10 348.60L166.90 348.60Z"/><path d="M172.38 344.12L174.98 348.62L169.78 348.62Z"/><path d="M175.26 344.14L177.86 348.64L172.66 348.64Z"/><path d="M178.14 344.16L180.74 348.66L175.54 348.66Z"/><path d="M181.02 344.18L183.62 348.68L178.42 348.68Z"/><path d="M183.90 344.20L186.50 348.70L181.30 348.70Z"/><path d="M186.78 344.22L189.38 348.72L184.18 348.72Z"/><path d="M189.66 344.24L192.26 348.74L187.06 348.74Z"/><path d="M192.54 344.26L195.14 348.76L189.94 348.76Z"/><path d="M195.42 344.28L198.02 348.78L192.82 348.78Z"/><path d="M198.30 344.30L200.90 348.80L195.70 348.80Z"/></g>
</g>
<clipPath id="clipc1"><rect x="53.80" y="348.70" width="145.00" height="55.80"/></clipPath>
<g clip-path="url(#clipc1)">
<path d="M55.60 390.30 L59.00 390.80 L61.50 391.40 L64.00 392.00 L67.33 392.60 L70.67 393.20 L74.00 393.80 L77.33 394.27 L80.67 394.73 L84.00 395.20 L86.67 395.03 L89.33 394.87 L92.00 394.70 L95.00 392.90 L98.00 391.10 L102.00 386.20 L105.00 381.50 L107.50 379.70 L110.00 382.70 L113.00 386.70 L116.00 389.00 L118.50 394.20 L121.30 400.70 L123.80 401.45 L126.30 402.20 L129.26 402.22 L132.21 402.24 L135.17 402.27 L138.13 402.29 L141.08 402.31 L144.04 402.33 L147.00 402.35 L149.95 402.37 L152.91 402.40 L155.87 402.42 L158.82 402.44 L161.78 402.46 L164.73 402.48 L167.69 402.50 L170.65 402.53 L173.60 402.55 L176.56 402.57 L179.52 402.59 L182.47 402.61 L185.43 402.63 L188.39 402.66 L191.34 402.68 L194.30 402.70 L198.30 396.20" fill="none" stroke="#666666" stroke-width="0.5"/><g fill="#000000"><rect x="53.50" y="388.20" width="4.2" height="4.2"/><rect x="56.90" y="388.70" width="4.2" height="4.2"/><rect x="59.40" y="389.30" width="4.2" height="4.2"/><rect x="61.90" y="389.90" width="4.2" height="4.2"/><rect x="65.23" y="390.50" width="4.2" height="4.2"/><rect x="68.57" y="391.10" width="4.2" height="4.2"/><rect x="71.90" y="391.70" width="4.2" height="4.2"/><rect x="75.23" y="392.17" width="4.2" height="4.2"/><rect x="78.57" y="392.63" width="4.2" height="4.2"/><rect x="81.90" y="393.10" width="4.2" height="4.2"/><rect x="84.57" y="392.93" width="4.2" height="4.2"/><rect x="87.23" y="392.77" width="4.2" height="4.2"/><rect x="89.90" y="392.60" width="4.2" height="4.2"/><rect x="92.90" y="390.80" width="4.2" height="4.2"/><rect x="95.90" y="389.00" width="4.2" height="4.2"/><rect x="99.90" y="384.10" width="4.2" height="4.2"/><rect x="102.90" y="379.40" width="4.2" height="4.2"/><rect x="105.40" y="377.60" width="4.2" height="4.2"/><rect x="107.90" y="380.60" width="4.2" height="4.2"/><rect x="110.90" y="384.60" width="4.2" height="4.2"/><rect x="113.90" y="386.90" width="4.2" height="4.2"/><rect x="116.40" y="392.10" width="4.2" height="4.2"/><rect x="119.20" y="398.60" width="4.2" height="4.2"/><rect x="121.70" y="399.35" width="4.2" height="4.2"/><rect x="124.20" y="400.10" width="4.2" height="4.2"/><rect x="127.16" y="400.12" width="4.2" height="4.2"/><rect x="130.11" y="400.14" width="4.2" height="4.2"/><rect x="133.07" y="400.17" width="4.2" height="4.2"/><rect x="136.03" y="400.19" width="4.2" height="4.2"/><rect x="138.98" y="400.21" width="4.2" height="4.2"/><rect x="141.94" y="400.23" width="4.2" height="4.2"/><rect x="144.90" y="400.25" width="4.2" height="4.2"/><rect x="147.85" y="400.27" width="4.2" height="4.2"/><rect x="150.81" y="400.30" width="4.2" height="4.2"/><rect x="153.77" y="400.32" width="4.2" height="4.2"/><rect x="156.72" y="400.34" width="4.2" height="4.2"/><rect x="159.68" y="400.36" width="4.2" height="4.2"/><rect x="162.63" y="400.38" width="4.2" height="4.2"/><rect x="165.59" y="400.40" width="4.2" height="4.2"/><rect x="168.55" y="400.43" width="4.2" height="4.2"/><rect x="171.50" y="400.45" width="4.2" height="4.2"/><rect x="174.46" y="400.47" width="4.2" height="4.2"/><rect x="177.42" y="400.49" width="4.2" height="4.2"/><rect x="180.37" y="400.51" width="4.2" height="4.2"/><rect x="183.33" y="400.53" width="4.2" height="4.2"/><rect x="186.29" y="400.56" width="4.2" height="4.2"/><rect x="189.24" y="400.58" width="4.2" height="4.2"/><rect x="192.20" y="400.60" width="4.2" height="4.2"/><rect x="196.20" y="394.10" width="4.2" height="4.2"/></g>
<path d="M55.60 388.10 L59.00 392.00 L61.50 393.05 L64.00 394.10 L67.33 394.70 L70.67 395.30 L74.00 395.90 L77.33 396.37 L80.67 396.83 L84.00 397.30 L87.50 396.85 L91.00 396.40 L95.00 394.70 L97.00 389.40 L100.00 368.20 L102.00 369.10 L104.50 394.70 L107.00 400.50 L109.94 400.60 L112.88 400.69 L115.82 400.79 L118.76 400.89 L121.70 400.98 L124.64 401.08 L127.58 401.18 L130.51 401.27 L133.45 401.37 L136.39 401.46 L139.33 401.56 L142.27 401.66 L145.21 401.75 L148.15 401.85 L151.09 401.95 L154.03 402.04 L156.97 402.14 L159.91 402.24 L162.85 402.33 L165.79 402.43 L168.72 402.52 L171.66 402.62 L174.60 402.72 L177.54 402.81 L180.48 402.91 L183.42 403.01 L186.36 403.10 L189.30 403.20 L193.30 401.20 L195.80 401.95 L198.30 402.70" fill="none" stroke="#ff6a6a" stroke-width="0.5"/><g fill="#ff0000"><circle cx="55.60" cy="388.10" r="2.35"/><circle cx="59.00" cy="392.00" r="2.35"/><circle cx="61.50" cy="393.05" r="2.35"/><circle cx="64.00" cy="394.10" r="2.35"/><circle cx="67.33" cy="394.70" r="2.35"/><circle cx="70.67" cy="395.30" r="2.35"/><circle cx="74.00" cy="395.90" r="2.35"/><circle cx="77.33" cy="396.37" r="2.35"/><circle cx="80.67" cy="396.83" r="2.35"/><circle cx="84.00" cy="397.30" r="2.35"/><circle cx="87.50" cy="396.85" r="2.35"/><circle cx="91.00" cy="396.40" r="2.35"/><circle cx="95.00" cy="394.70" r="2.35"/><circle cx="97.00" cy="389.40" r="2.35"/><circle cx="100.00" cy="368.20" r="2.35"/><circle cx="102.00" cy="369.10" r="2.35"/><circle cx="104.50" cy="394.70" r="2.35"/><circle cx="107.00" cy="400.50" r="2.35"/><circle cx="109.94" cy="400.60" r="2.35"/><circle cx="112.88" cy="400.69" r="2.35"/><circle cx="115.82" cy="400.79" r="2.35"/><circle cx="118.76" cy="400.89" r="2.35"/><circle cx="121.70" cy="400.98" r="2.35"/><circle cx="124.64" cy="401.08" r="2.35"/><circle cx="127.58" cy="401.18" r="2.35"/><circle cx="130.51" cy="401.27" r="2.35"/><circle cx="133.45" cy="401.37" r="2.35"/><circle cx="136.39" cy="401.46" r="2.35"/><circle cx="139.33" cy="401.56" r="2.35"/><circle cx="142.27" cy="401.66" r="2.35"/><circle cx="145.21" cy="401.75" r="2.35"/><circle cx="148.15" cy="401.85" r="2.35"/><circle cx="151.09" cy="401.95" r="2.35"/><circle cx="154.03" cy="402.04" r="2.35"/><circle cx="156.97" cy="402.14" r="2.35"/><circle cx="159.91" cy="402.24" r="2.35"/><circle cx="162.85" cy="402.33" r="2.35"/><circle cx="165.79" cy="402.43" r="2.35"/><circle cx="168.72" cy="402.52" r="2.35"/><circle cx="171.66" cy="402.62" r="2.35"/><circle cx="174.60" cy="402.72" r="2.35"/><circle cx="177.54" cy="402.81" r="2.35"/><circle cx="180.48" cy="402.91" r="2.35"/><circle cx="183.42" cy="403.01" r="2.35"/><circle cx="186.36" cy="403.10" r="2.35"/><circle cx="189.30" cy="403.20" r="2.35"/><circle cx="193.30" cy="401.20" r="2.35"/><circle cx="195.80" cy="401.95" r="2.35"/><circle cx="198.30" cy="402.70" r="2.35"/></g>
<path d="M55.60 394.70 L56.00 390.30 L59.00 391.10 L61.50 391.75 L64.00 392.40 L67.33 392.87 L70.67 393.33 L74.00 393.80 L77.33 394.27 L80.67 394.73 L84.00 395.20 L87.50 395.20 L91.00 395.20 L94.00 391.10 L97.30 365.30 L99.70 367.30 L102.00 399.20 L106.00 400.90 L108.88 400.97 L111.77 401.03 L114.65 401.10 L117.54 401.16 L120.42 401.23 L123.31 401.29 L126.19 401.36 L129.07 401.42 L131.96 401.49 L134.84 401.56 L137.73 401.62 L140.61 401.69 L143.50 401.75 L146.38 401.82 L149.27 401.88 L152.15 401.95 L155.03 402.02 L157.92 402.08 L160.80 402.15 L163.69 402.21 L166.57 402.28 L169.46 402.34 L172.34 402.41 L175.22 402.47 L178.11 402.54 L180.99 402.61 L183.88 402.67 L186.76 402.74 L189.65 402.80 L192.53 402.87 L195.42 402.93 L198.30 403.00" fill="none" stroke="#4aa04a" stroke-width="0.5"/><g fill="#008000"><path d="M55.60 392.00L58.20 396.50L53.00 396.50Z"/><path d="M56.00 387.60L58.60 392.10L53.40 392.10Z"/><path d="M59.00 388.40L61.60 392.90L56.40 392.90Z"/><path d="M61.50 389.05L64.10 393.55L58.90 393.55Z"/><path d="M64.00 389.70L66.60 394.20L61.40 394.20Z"/><path d="M67.33 390.17L69.93 394.67L64.73 394.67Z"/><path d="M70.67 390.63L73.27 395.13L68.07 395.13Z"/><path d="M74.00 391.10L76.60 395.60L71.40 395.60Z"/><path d="M77.33 391.57L79.93 396.07L74.73 396.07Z"/><path d="M80.67 392.03L83.27 396.53L78.07 396.53Z"/><path d="M84.00 392.50L86.60 397.00L81.40 397.00Z"/><path d="M87.50 392.50L90.10 397.00L84.90 397.00Z"/><path d="M91.00 392.50L93.60 397.00L88.40 397.00Z"/><path d="M94.00 388.40L96.60 392.90L91.40 392.90Z"/><path d="M97.30 362.60L99.90 367.10L94.70 367.10Z"/><path d="M99.70 364.60L102.30 369.10L97.10 369.10Z"/><path d="M102.00 396.50L104.60 401.00L99.40 401.00Z"/><path d="M106.00 398.20L108.60 402.70L103.40 402.70Z"/><path d="M108.88 398.27L111.48 402.77L106.28 402.77Z"/><path d="M111.77 398.33L114.37 402.83L109.17 402.83Z"/><path d="M114.65 398.40L117.25 402.90L112.05 402.90Z"/><path d="M117.54 398.46L120.14 402.96L114.94 402.96Z"/><path d="M120.42 398.53L123.02 403.03L117.82 403.03Z"/><path d="M123.31 398.59L125.91 403.09L120.71 403.09Z"/><path d="M126.19 398.66L128.79 403.16L123.59 403.16Z"/><path d="M129.07 398.72L131.67 403.22L126.47 403.22Z"/><path d="M131.96 398.79L134.56 403.29L129.36 403.29Z"/><path d="M134.84 398.86L137.44 403.36L132.24 403.36Z"/><path d="M137.73 398.92L140.33 403.42L135.13 403.42Z"/><path d="M140.61 398.99L143.21 403.49L138.01 403.49Z"/><path d="M143.50 399.05L146.10 403.55L140.90 403.55Z"/><path d="M146.38 399.12L148.98 403.62L143.78 403.62Z"/><path d="M149.27 399.18L151.87 403.68L146.67 403.68Z"/><path d="M152.15 399.25L154.75 403.75L149.55 403.75Z"/><path d="M155.03 399.32L157.63 403.82L152.43 403.82Z"/><path d="M157.92 399.38L160.52 403.88L155.32 403.88Z"/><path d="M160.80 399.45L163.40 403.95L158.20 403.95Z"/><path d="M163.69 399.51L166.29 404.01L161.09 404.01Z"/><path d="M166.57 399.58L169.17 404.08L163.97 404.08Z"/><path d="M169.46 399.64L172.06 404.14L166.86 404.14Z"/><path d="M172.34 399.71L174.94 404.21L169.74 404.21Z"/><path d="M175.22 399.77L177.82 404.27L172.62 404.27Z"/><path d="M178.11 399.84L180.71 404.34L175.51 404.34Z"/><path d="M180.99 399.91L183.59 404.41L178.39 404.41Z"/><path d="M183.88 399.97L186.48 404.47L181.28 404.47Z"/><path d="M186.76 400.04L189.36 404.54L184.16 404.54Z"/><path d="M189.65 400.10L192.25 404.60L187.05 404.60Z"/><path d="M192.53 400.17L195.13 404.67L189.93 404.67Z"/><path d="M195.42 400.23L198.02 404.73L192.82 404.73Z"/><path d="M198.30 400.30L200.90 404.80L195.70 404.80Z"/></g>
</g>
<clipPath id="clipc2"><rect x="53.80" y="403.90" width="145.00" height="55.80"/></clipPath>
<g clip-path="url(#clipc2)">
<path d="M55.60 445.30 L57.00 448.40 L59.00 451.20 L61.50 451.35 L64.00 451.50 L66.80 451.50 L69.60 451.50 L72.40 451.50 L75.20 451.50 L78.00 451.50 L80.80 451.50 L83.60 451.50 L86.40 451.50 L89.20 451.50 L92.00 451.50 L94.30 452.40 L97.00 451.90 L99.70 451.40 L102.80 450.90 L105.60 450.20 L106.80 445.40 L109.50 440.40 L113.40 441.40 L115.85 442.85 L118.30 444.30 L120.75 446.00 L123.20 447.70 L127.30 449.40 L130.30 451.40 L134.30 454.40 L138.30 455.90 L141.16 455.91 L144.01 455.93 L146.87 455.94 L149.73 455.96 L152.59 455.97 L155.44 455.99 L158.30 456.00 L161.16 456.01 L164.01 456.03 L166.87 456.04 L169.73 456.06 L172.59 456.07 L175.44 456.09 L178.30 456.10 L181.16 456.11 L184.01 456.13 L186.87 456.14 L189.73 456.16 L192.59 456.17 L195.44 456.19 L198.30 456.20" fill="none" stroke="#666666" stroke-width="0.5"/><g fill="#000000"><rect x="53.50" y="443.20" width="4.2" height="4.2"/><rect x="54.90" y="446.30" width="4.2" height="4.2"/><rect x="56.90" y="449.10" width="4.2" height="4.2"/><rect x="59.40" y="449.25" width="4.2" height="4.2"/><rect x="61.90" y="449.40" width="4.2" height="4.2"/><rect x="64.70" y="449.40" width="4.2" height="4.2"/><rect x="67.50" y="449.40" width="4.2" height="4.2"/><rect x="70.30" y="449.40" width="4.2" height="4.2"/><rect x="73.10" y="449.40" width="4.2" height="4.2"/><rect x="75.90" y="449.40" width="4.2" height="4.2"/><rect x="78.70" y="449.40" width="4.2" height="4.2"/><rect x="81.50" y="449.40" width="4.2" height="4.2"/><rect x="84.30" y="449.40" width="4.2" height="4.2"/><rect x="87.10" y="449.40" width="4.2" height="4.2"/><rect x="89.90" y="449.40" width="4.2" height="4.2"/><rect x="92.20" y="450.30" width="4.2" height="4.2"/><rect x="94.90" y="449.80" width="4.2" height="4.2"/><rect x="97.60" y="449.30" width="4.2" height="4.2"/><rect x="100.70" y="448.80" width="4.2" height="4.2"/><rect x="103.50" y="448.10" width="4.2" height="4.2"/><rect x="104.70" y="443.30" width="4.2" height="4.2"/><rect x="107.40" y="438.30" width="4.2" height="4.2"/><rect x="111.30" y="439.30" width="4.2" height="4.2"/><rect x="113.75" y="440.75" width="4.2" height="4.2"/><rect x="116.20" y="442.20" width="4.2" height="4.2"/><rect x="118.65" y="443.90" width="4.2" height="4.2"/><rect x="121.10" y="445.60" width="4.2" height="4.2"/><rect x="125.20" y="447.30" width="4.2" height="4.2"/><rect x="128.20" y="449.30" width="4.2" height="4.2"/><rect x="132.20" y="452.30" width="4.2" height="4.2"/><rect x="136.20" y="453.80" width="4.2" height="4.2"/><rect x="139.06" y="453.81" width="4.2" height="4.2"/><rect x="141.91" y="453.83" width="4.2" height="4.2"/><rect x="144.77" y="453.84" width="4.2" height="4.2"/><rect x="147.63" y="453.86" width="4.2" height="4.2"/><rect x="150.49" y="453.87" width="4.2" height="4.2"/><rect x="153.34" y="453.89" width="4.2" height="4.2"/><rect x="156.20" y="453.90" width="4.2" height="4.2"/><rect x="159.06" y="453.91" width="4.2" height="4.2"/><rect x="161.91" y="453.93" width="4.2" height="4.2"/><rect x="164.77" y="453.94" width="4.2" height="4.2"/><rect x="167.63" y="453.96" width="4.2" height="4.2"/><rect x="170.49" y="453.97" width="4.2" height="4.2"/><rect x="173.34" y="453.99" width="4.2" height="4.2"/><rect x="176.20" y="454.00" width="4.2" height="4.2"/><rect x="179.06" y="454.01" width="4.2" height="4.2"/><rect x="181.91" y="454.03" width="4.2" height="4.2"/><rect x="184.77" y="454.04" width="4.2" height="4.2"/><rect x="187.63" y="454.06" width="4.2" height="4.2"/><rect x="190.49" y="454.07" width="4.2" height="4.2"/><rect x="193.34" y="454.09" width="4.2" height="4.2"/><rect x="196.20" y="454.10" width="4.2" height="4.2"/></g>
<path d="M55.60 451.40 L59.00 449.70 L61.50 452.25 L64.00 454.80 L66.80 454.80 L69.60 454.80 L72.40 454.80 L75.20 454.80 L78.00 454.80 L80.80 454.80 L83.60 454.80 L86.40 454.80 L89.20 454.80 L92.00 454.80 L94.65 453.20 L97.30 451.60 L99.70 446.70 L101.90 436.45 L104.10 426.20 L105.60 425.70 L108.00 449.70 L109.80 455.40 L112.74 455.45 L115.69 455.50 L118.63 455.54 L121.58 455.59 L124.52 455.64 L127.47 455.69 L130.41 455.74 L133.36 455.79 L136.30 455.83 L139.24 455.88 L142.19 455.93 L145.13 455.98 L148.08 456.03 L151.02 456.07 L153.97 456.12 L156.91 456.17 L159.86 456.22 L162.80 456.27 L165.74 456.31 L168.69 456.36 L171.63 456.41 L174.58 456.46 L177.52 456.51 L180.47 456.56 L183.41 456.60 L186.36 456.65 L189.30 456.70 L192.30 455.20 L195.30 453.70 L198.30 454.70" fill="none" stroke="#ff6a6a" stroke-width="0.5"/><g fill="#ff0000"><circle cx="55.60" cy="451.40" r="2.35"/><circle cx="59.00" cy="449.70" r="2.35"/><circle cx="61.50" cy="452.25" r="2.35"/><circle cx="64.00" cy="454.80" r="2.35"/><circle cx="66.80" cy="454.80" r="2.35"/><circle cx="69.60" cy="454.80" r="2.35"/><circle cx="72.40" cy="454.80" r="2.35"/><circle cx="75.20" cy="454.80" r="2.35"/><circle cx="78.00" cy="454.80" r="2.35"/><circle cx="80.80" cy="454.80" r="2.35"/><circle cx="83.60" cy="454.80" r="2.35"/><circle cx="86.40" cy="454.80" r="2.35"/><circle cx="89.20" cy="454.80" r="2.35"/><circle cx="92.00" cy="454.80" r="2.35"/><circle cx="94.65" cy="453.20" r="2.35"/><circle cx="97.30" cy="451.60" r="2.35"/><circle cx="99.70" cy="446.70" r="2.35"/><circle cx="101.90" cy="436.45" r="2.35"/><circle cx="104.10" cy="426.20" r="2.35"/><circle cx="105.60" cy="425.70" r="2.35"/><circle cx="108.00" cy="449.70" r="2.35"/><circle cx="109.80" cy="455.40" r="2.35"/><circle cx="112.74" cy="455.45" r="2.35"/><circle cx="115.69" cy="455.50" r="2.35"/><circle cx="118.63" cy="455.54" r="2.35"/><circle cx="121.58" cy="455.59" r="2.35"/><circle cx="124.52" cy="455.64" r="2.35"/><circle cx="127.47" cy="455.69" r="2.35"/><circle cx="130.41" cy="455.74" r="2.35"/><circle cx="133.36" cy="455.79" r="2.35"/><circle cx="136.30" cy="455.83" r="2.35"/><circle cx="139.24" cy="455.88" r="2.35"/><circle cx="142.19" cy="455.93" r="2.35"/><circle cx="145.13" cy="455.98" r="2.35"/><circle cx="148.08" cy="456.03" r="2.35"/><circle cx="151.02" cy="456.07" r="2.35"/><circle cx="153.97" cy="456.12" r="2.35"/><circle cx="156.91" cy="456.17" r="2.35"/><circle cx="159.86" cy="456.22" r="2.35"/><circle cx="162.80" cy="456.27" r="2.35"/><circle cx="165.74" cy="456.31" r="2.35"/><circle cx="168.69" cy="456.36" r="2.35"/><circle cx="171.63" cy="456.41" r="2.35"/><circle cx="174.58" cy="456.46" r="2.35"/><circle cx="177.52" cy="456.51" r="2.35"/><circle cx="180.47" cy="456.56" r="2.35"/><circle cx="183.41" cy="456.60" r="2.35"/><circle cx="186.36" cy="456.65" r="2.35"/><circle cx="189.30" cy="456.70" r="2.35"/><circle cx="192.30" cy="455.20" r="2.35"/><circle cx="195.30" cy="453.70" r="2.35"/><circle cx="198.30" cy="454.70" r="2.35"/></g>
<path d="M55.60 454.00 L59.00 451.40 L61.50 452.70 L64.00 454.00 L66.78 454.00 L69.56 454.00 L72.33 454.00 L75.11 454.00 L77.89 454.00 L80.67 454.00 L83.44 454.00 L86.22 454.00 L89.00 454.00 L92.80 453.40 L95.30 448.70 L95.80 443.30 L96.80 437.40 L97.70 432.50 L98.70 427.20 L99.70 422.30 L100.70 428.10 L101.70 434.00 L102.60 439.40 L104.10 446.20 L105.10 453.10 L109.00 454.60 L111.88 454.65 L114.76 454.70 L117.64 454.75 L120.52 454.81 L123.40 454.86 L126.28 454.91 L129.16 454.96 L132.05 455.01 L134.93 455.06 L137.81 455.12 L140.69 455.17 L143.57 455.22 L146.45 455.27 L149.33 455.32 L152.21 455.37 L155.09 455.43 L157.97 455.48 L160.85 455.53 L163.73 455.58 L166.61 455.63 L169.49 455.68 L172.37 455.74 L175.25 455.79 L178.14 455.84 L181.02 455.89 L183.90 455.94 L186.78 455.99 L189.66 456.05 L192.54 456.10 L195.42 456.15 L198.30 456.20" fill="none" stroke="#4aa04a" stroke-width="0.5"/><g fill="#008000"><path d="M55.60 451.30L58.20 455.80L53.00 455.80Z"/><path d="M59.00 448.70L61.60 453.20L56.40 453.20Z"/><path d="M61.50 450.00L64.10 454.50L58.90 454.50Z"/><path d="M64.00 451.30L66.60 455.80L61.40 455.80Z"/><path d="M66.78 451.30L69.38 455.80L64.18 455.80Z"/><path d="M69.56 451.30L72.16 455.80L66.96 455.80Z"/><path d="M72.33 451.30L74.93 455.80L69.73 455.80Z"/><path d="M75.11 451.30L77.71 455.80L72.51 455.80Z"/><path d="M77.89 451.30L80.49 455.80L75.29 455.80Z"/><path d="M80.67 451.30L83.27 455.80L78.07 455.80Z"/><path d="M83.44 451.30L86.04 455.80L80.84 455.80Z"/><path d="M86.22 451.30L88.82 455.80L83.62 455.80Z"/><path d="M89.00 451.30L91.60 455.80L86.40 455.80Z"/><path d="M92.80 450.70L95.40 455.20L90.20 455.20Z"/><path d="M95.30 446.00L97.90 450.50L92.70 450.50Z"/><path d="M95.80 440.60L98.40 445.10L93.20 445.10Z"/><path d="M96.80 434.70L99.40 439.20L94.20 439.20Z"/><path d="M97.70 429.80L100.30 434.30L95.10 434.30Z"/><path d="M98.70 424.50L101.30 429.00L96.10 429.00Z"/><path d="M99.70 419.60L102.30 424.10L97.10 424.10Z"/><path d="M100.70 425.40L103.30 429.90L98.10 429.90Z"/><path d="M101.70 431.30L104.30 435.80L99.10 435.80Z"/><path d="M102.60 436.70L105.20 441.20L100.00 441.20Z"/><path d="M104.10 443.50L106.70 448.00L101.50 448.00Z"/><path d="M105.10 450.40L107.70 454.90L102.50 454.90Z"/><path d="M109.00 451.90L111.60 456.40L106.40 456.40Z"/><path d="M111.88 451.95L114.48 456.45L109.28 456.45Z"/><path d="M114.76 452.00L117.36 456.50L112.16 456.50Z"/><path d="M117.64 452.05L120.24 456.55L115.04 456.55Z"/><path d="M120.52 452.11L123.12 456.61L117.92 456.61Z"/><path d="M123.40 452.16L126.00 456.66L120.80 456.66Z"/><path d="M126.28 452.21L128.88 456.71L123.68 456.71Z"/><path d="M129.16 452.26L131.76 456.76L126.56 456.76Z"/><path d="M132.05 452.31L134.65 456.81L129.45 456.81Z"/><path d="M134.93 452.36L137.53 456.86L132.33 456.86Z"/><path d="M137.81 452.42L140.41 456.92L135.21 456.92Z"/><path d="M140.69 452.47L143.29 456.97L138.09 456.97Z"/><path d="M143.57 452.52L146.17 457.02L140.97 457.02Z"/><path d="M146.45 452.57L149.05 457.07L143.85 457.07Z"/><path d="M149.33 452.62L151.93 457.12L146.73 457.12Z"/><path d="M152.21 452.67L154.81 457.17L149.61 457.17Z"/><path d="M155.09 452.73L157.69 457.23L152.49 457.23Z"/><path d="M157.97 452.78L160.57 457.28L155.37 457.28Z"/><path d="M160.85 452.83L163.45 457.33L158.25 457.33Z"/><path d="M163.73 452.88L166.33 457.38L161.13 457.38Z"/><path d="M166.61 452.93L169.21 457.43L164.01 457.43Z"/><path d="M169.49 452.98L172.09 457.48L166.89 457.48Z"/><path d="M172.37 453.04L174.97 457.54L169.77 457.54Z"/><path d="M175.25 453.09L177.85 457.59L172.65 457.59Z"/><path d="M178.14 453.14L180.74 457.64L175.54 457.64Z"/><path d="M181.02 453.19L183.62 457.69L178.42 457.69Z"/><path d="M183.90 453.24L186.50 457.74L181.30 457.74Z"/><path d="M186.78 453.29L189.38 457.79L184.18 457.79Z"/><path d="M189.66 453.35L192.26 457.85L187.06 457.85Z"/><path d="M192.54 453.40L195.14 457.90L189.94 457.90Z"/><path d="M195.42 453.45L198.02 457.95L192.82 457.95Z"/><path d="M198.30 453.50L200.90 458.00L195.70 458.00Z"/></g>
</g>
<clipPath id="clipc3"><rect x="53.80" y="459.10" width="145.00" height="55.80"/></clipPath>
<g clip-path="url(#clipc3)">
<path d="M55.60 504.70 L59.00 507.40 L61.50 508.10 L64.00 508.80 L66.80 508.80 L69.60 508.80 L72.40 508.80 L75.20 508.80 L78.00 508.80 L80.80 508.80 L83.60 508.80 L86.40 508.80 L89.20 508.80 L92.00 508.80 L96.00 508.80 L98.50 507.75 L101.00 506.70 L103.50 506.15 L106.00 505.60 L110.00 502.30 L114.30 501.70 L117.30 501.50 L120.30 501.30 L123.30 501.70 L126.30 502.10 L129.30 503.25 L132.30 504.40 L135.63 504.80 L138.97 505.20 L142.30 505.60 L145.30 505.87 L148.30 506.13 L151.30 506.40 L154.30 509.60 L156.80 510.85 L159.30 512.10 L162.30 512.15 L165.30 512.19 L168.30 512.24 L171.30 512.28 L174.30 512.33 L177.30 512.38 L180.30 512.42 L183.30 512.47 L186.30 512.52 L189.30 512.56 L192.30 512.61 L195.30 512.65 L198.30 512.70" fill="none" stroke="#666666" stroke-width="0.5"/><g fill="#000000"><rect x="53.50" y="502.60" width="4.2" height="4.2"/><rect x="56.90" y="505.30" width="4.2" height="4.2"/><rect x="59.40" y="506.00" width="4.2" height="4.2"/><rect x="61.90" y="506.70" width="4.2" height="4.2"/><rect x="64.70" y="506.70" width="4.2" height="4.2"/><rect x="67.50" y="506.70" width="4.2" height="4.2"/><rect x="70.30" y="506.70" width="4.2" height="4.2"/><rect x="73.10" y="506.70" width="4.2" height="4.2"/><rect x="75.90" y="506.70" width="4.2" height="4.2"/><rect x="78.70" y="506.70" width="4.2" height="4.2"/><rect x="81.50" y="506.70" width="4.2" height="4.2"/><rect x="84.30" y="506.70" width="4.2" height="4.2"/><rect x="87.10" y="506.70" width="4.2" height="4.2"/><rect x="89.90" y="506.70" width="4.2" height="4.2"/><rect x="93.90" y="506.70" width="4.2" height="4.2"/><rect x="96.40" y="505.65" width="4.2" height="4.2"/><rect x="98.90" y="504.60" width="4.2" height="4.2"/><rect x="101.40" y="504.05" width="4.2" height="4.2"/><rect x="103.90" y="503.50" width="4.2" height="4.2"/><rect x="107.90" y="500.20" width="4.2" height="4.2"/><rect x="112.20" y="499.60" width="4.2" height="4.2"/><rect x="115.20" y="499.40" width="4.2" height="4.2"/><rect x="118.20" y="499.20" width="4.2" height="4.2"/><rect x="121.20" y="499.60" width="4.2" height="4.2"/><rect x="124.20" y="500.00" width="4.2" height="4.2"/><rect x="127.20" y="501.15" width="4.2" height="4.2"/><rect x="130.20" y="502.30" width="4.2" height="4.2"/><rect x="133.53" y="502.70" width="4.2" height="4.2"/><rect x="136.87" y="503.10" width="4.2" height="4.2"/><rect x="140.20" y="503.50" width="4.2" height="4.2"/><rect x="143.20" y="503.77" width="4.2" height="4.2"/><rect x="146.20" y="504.03" width="4.2" height="4.2"/><rect x="149.20" y="504.30" width="4.2" height="4.2"/><rect x="152.20" y="507.50" width="4.2" height="4.2"/><rect x="154.70" y="508.75" width="4.2" height="4.2"/><rect x="157.20" y="510.00" width="4.2" height="4.2"/><rect x="160.20" y="510.05" width="4.2" height="4.2"/><rect x="163.20" y="510.09" width="4.2" height="4.2"/><rect x="166.20" y="510.14" width="4.2" height="4.2"/><rect x="169.20" y="510.18" width="4.2" height="4.2"/><rect x="172.20" y="510.23" width="4.2" height="4.2"/><rect x="175.20" y="510.28" width="4.2" height="4.2"/><rect x="178.20" y="510.32" width="4.2" height="4.2"/><rect x="181.20" y="510.37" width="4.2" height="4.2"/><rect x="184.20" y="510.42" width="4.2" height="4.2"/><rect x="187.20" y="510.46" width="4.2" height="4.2"/><rect x="190.20" y="510.51" width="4.2" height="4.2"/><rect x="193.20" y="510.55" width="4.2" height="4.2"/><rect x="196.20" y="510.60" width="4.2" height="4.2"/></g>
<path d="M55.60 501.10 L56.50 502.90 L59.00 507.90 L61.50 509.05 L64.00 510.20 L66.80 510.20 L69.60 510.20 L72.40 510.20 L75.20 510.20 L78.00 510.20 L80.80 510.20 L83.60 510.20 L86.40 510.20 L89.20 510.20 L92.00 510.20 L96.00 509.70 L99.00 505.90 L102.00 499.90 L104.50 484.80 L107.00 484.80 L109.50 502.90 L112.00 511.10 L114.88 511.15 L117.75 511.20 L120.63 511.25 L123.51 511.30 L126.38 511.35 L129.26 511.40 L132.14 511.45 L135.01 511.50 L137.89 511.55 L140.77 511.60 L143.64 511.65 L146.52 511.70 L149.40 511.75 L152.27 511.80 L155.15 511.85 L158.03 511.90 L160.90 511.95 L163.78 512.00 L166.66 512.05 L169.53 512.10 L172.41 512.15 L175.29 512.20 L178.16 512.25 L181.04 512.30 L183.92 512.35 L186.79 512.40 L189.67 512.45 L192.55 512.50 L195.42 512.55 L198.30 512.60" fill="none" stroke="#ff6a6a" stroke-width="0.5"/><g fill="#ff0000"><circle cx="55.60" cy="501.10" r="2.35"/><circle cx="56.50" cy="502.90" r="2.35"/><circle cx="59.00" cy="507.90" r="2.35"/><circle cx="61.50" cy="509.05" r="2.35"/><circle cx="64.00" cy="510.20" r="2.35"/><circle cx="66.80" cy="510.20" r="2.35"/><circle cx="69.60" cy="510.20" r="2.35"/><circle cx="72.40" cy="510.20" r="2.35"/><circle cx="75.20" cy="510.20" r="2.35"/><circle cx="78.00" cy="510.20" r="2.35"/><circle cx="80.80" cy="510.20" r="2.35"/><circle cx="83.60" cy="510.20" r="2.35"/><circle cx="86.40" cy="510.20" r="2.35"/><circle cx="89.20" cy="510.20" r="2.35"/><circle cx="92.00" cy="510.20" r="2.35"/><circle cx="96.00" cy="509.70" r="2.35"/><circle cx="99.00" cy="505.90" r="2.35"/><circle cx="102.00" cy="499.90" r="2.35"/><circle cx="104.50" cy="484.80" r="2.35"/><circle cx="107.00" cy="484.80" r="2.35"/><circle cx="109.50" cy="502.90" r="2.35"/><circle cx="112.00" cy="511.10" r="2.35"/><circle cx="114.88" cy="511.15" r="2.35"/><circle cx="117.75" cy="511.20" r="2.35"/><circle cx="120.63" cy="511.25" r="2.35"/><circle cx="123.51" cy="511.30" r="2.35"/><circle cx="126.38" cy="511.35" r="2.35"/><circle cx="129.26" cy="511.40" r="2.35"/><circle cx="132.14" cy="511.45" r="2.35"/><circle cx="135.01" cy="511.50" r="2.35"/><circle cx="137.89" cy="511.55" r="2.35"/><circle cx="140.77" cy="511.60" r="2.35"/><circle cx="143.64" cy="511.65" r="2.35"/><circle cx="146.52" cy="511.70" r="2.35"/><circle cx="149.40" cy="511.75" r="2.35"/><circle cx="152.27" cy="511.80" r="2.35"/><circle cx="155.15" cy="511.85" r="2.35"/><circle cx="158.03" cy="511.90" r="2.35"/><circle cx="160.90" cy="511.95" r="2.35"/><circle cx="163.78" cy="512.00" r="2.35"/><circle cx="166.66" cy="512.05" r="2.35"/><circle cx="169.53" cy="512.10" r="2.35"/><circle cx="172.41" cy="512.15" r="2.35"/><circle cx="175.29" cy="512.20" r="2.35"/><circle cx="178.16" cy="512.25" r="2.35"/><circle cx="181.04" cy="512.30" r="2.35"/><circle cx="183.92" cy="512.35" r="2.35"/><circle cx="186.79" cy="512.40" r="2.35"/><circle cx="189.67" cy="512.45" r="2.35"/><circle cx="192.55" cy="512.50" r="2.35"/><circle cx="195.42" cy="512.55" r="2.35"/><circle cx="198.30" cy="512.60" r="2.35"/></g>
<path d="M55.60 505.50 L57.00 508.20 L59.00 511.10 L61.92 511.10 L64.83 511.10 L67.75 511.10 L70.67 511.10 L73.58 511.10 L76.50 511.10 L79.42 511.10 L82.33 511.10 L85.25 511.10 L88.17 511.10 L91.08 511.10 L94.00 511.10 L96.00 509.70 L99.50 489.30 L102.50 479.50 L105.00 498.50 L107.00 511.50 L109.00 512.00 L111.94 512.04 L114.87 512.07 L117.81 512.11 L120.75 512.15 L123.69 512.19 L126.62 512.22 L129.56 512.26 L132.50 512.30 L135.43 512.33 L138.37 512.37 L141.31 512.41 L144.24 512.44 L147.18 512.48 L150.12 512.52 L153.06 512.56 L155.99 512.59 L158.93 512.63 L161.87 512.67 L164.80 512.70 L167.74 512.74 L170.68 512.78 L173.61 512.81 L176.55 512.85 L179.49 512.89 L182.43 512.93 L185.36 512.96 L188.30 513.00 L190.80 511.80 L193.30 510.60 L195.80 510.10 L198.30 509.60" fill="none" stroke="#4aa04a" stroke-width="0.5"/><g fill="#008000"><path d="M55.60 502.80L58.20 507.30L53.00 507.30Z"/><path d="M57.00 505.50L59.60 510.00L54.40 510.00Z"/><path d="M59.00 508.40L61.60 512.90L56.40 512.90Z"/><path d="M61.92 508.40L64.52 512.90L59.32 512.90Z"/><path d="M64.83 508.40L67.43 512.90L62.23 512.90Z"/><path d="M67.75 508.40L70.35 512.90L65.15 512.90Z"/><path d="M70.67 508.40L73.27 512.90L68.07 512.90Z"/><path d="M73.58 508.40L76.18 512.90L70.98 512.90Z"/><path d="M76.50 508.40L79.10 512.90L73.90 512.90Z"/><path d="M79.42 508.40L82.02 512.90L76.82 512.90Z"/><path d="M82.33 508.40L84.93 512.90L79.73 512.90Z"/><path d="M85.25 508.40L87.85 512.90L82.65 512.90Z"/><path d="M88.17 508.40L90.77 512.90L85.57 512.90Z"/><path d="M91.08 508.40L93.68 512.90L88.48 512.90Z"/><path d="M94.00 508.40L96.60 512.90L91.40 512.90Z"/><path d="M96.00 507.00L98.60 511.50L93.40 511.50Z"/><path d="M99.50 486.60L102.10 491.10L96.90 491.10Z"/><path d="M102.50 476.80L105.10 481.30L99.90 481.30Z"/><path d="M105.00 495.80L107.60 500.30L102.40 500.30Z"/><path d="M107.00 508.80L109.60 513.30L104.40 513.30Z"/><path d="M109.00 509.30L111.60 513.80L106.40 513.80Z"/><path d="M111.94 509.34L114.54 513.84L109.34 513.84Z"/><path d="M114.87 509.37L117.47 513.87L112.27 513.87Z"/><path d="M117.81 509.41L120.41 513.91L115.21 513.91Z"/><path d="M120.75 509.45L123.35 513.95L118.15 513.95Z"/><path d="M123.69 509.49L126.29 513.99L121.09 513.99Z"/><path d="M126.62 509.52L129.22 514.02L124.02 514.02Z"/><path d="M129.56 509.56L132.16 514.06L126.96 514.06Z"/><path d="M132.50 509.60L135.10 514.10L129.90 514.10Z"/><path d="M135.43 509.63L138.03 514.13L132.83 514.13Z"/><path d="M138.37 509.67L140.97 514.17L135.77 514.17Z"/><path d="M141.31 509.71L143.91 514.21L138.71 514.21Z"/><path d="M144.24 509.74L146.84 514.24L141.64 514.24Z"/><path d="M147.18 509.78L149.78 514.28L144.58 514.28Z"/><path d="M150.12 509.82L152.72 514.32L147.52 514.32Z"/><path d="M153.06 509.86L155.66 514.36L150.46 514.36Z"/><path d="M155.99 509.89L158.59 514.39L153.39 514.39Z"/><path d="M158.93 509.93L161.53 514.43L156.33 514.43Z"/><path d="M161.87 509.97L164.47 514.47L159.27 514.47Z"/><path d="M164.80 510.00L167.40 514.50L162.20 514.50Z"/><path d="M167.74 510.04L170.34 514.54L165.14 514.54Z"/><path d="M170.68 510.08L173.28 514.58L168.08 514.58Z"/><path d="M173.61 510.11L176.21 514.61L171.01 514.61Z"/><path d="M176.55 510.15L179.15 514.65L173.95 514.65Z"/><path d="M179.49 510.19L182.09 514.69L176.89 514.69Z"/><path d="M182.43 510.23L185.03 514.73L179.83 514.73Z"/><path d="M185.36 510.26L187.96 514.76L182.76 514.76Z"/><path d="M188.30 510.30L190.90 514.80L185.70 514.80Z"/><path d="M190.80 509.10L193.40 513.60L188.20 513.60Z"/><path d="M193.30 507.90L195.90 512.40L190.70 512.40Z"/><path d="M195.80 507.40L198.40 511.90L193.20 511.90Z"/><path d="M198.30 506.90L200.90 511.40L195.70 511.40Z"/></g>
</g>
<text transform="translate(49.90 351.60) scale(1 1.060)" font-size="9.70" text-anchor="end">0.0000</text>
<text transform="translate(49.90 324.00) scale(1 1.060)" font-size="9.70" text-anchor="end">0.0001</text>
<text transform="translate(49.90 296.40) scale(1 1.060)" font-size="9.70" text-anchor="end">0.0002</text>
<text transform="translate(55.70 304.60) scale(1 1.060)" font-size="9.60" text-anchor="start">0.2 m</text>
<text transform="translate(49.90 406.80) scale(1 1.060)" font-size="9.70" text-anchor="end">0.0000</text>
<text transform="translate(49.90 379.20) scale(1 1.060)" font-size="9.70" text-anchor="end">0.0001</text>
<text transform="translate(55.70 358.10) scale(1 1.060)" font-size="9.60" text-anchor="start">0.4 m</text>
<text transform="translate(49.90 462.00) scale(1 1.060)" font-size="9.70" text-anchor="end">0.0000</text>
<text transform="translate(49.90 434.40) scale(1 1.060)" font-size="9.70" text-anchor="end">0.0001</text>
<text transform="translate(55.70 414.60) scale(1 1.060)" font-size="9.60" text-anchor="start">0.6 m</text>
<text transform="translate(49.90 517.20) scale(1 1.060)" font-size="9.70" text-anchor="end">0.0000</text>
<text transform="translate(49.90 489.60) scale(1 1.060)" font-size="9.70" text-anchor="end">0.0001</text>
<text transform="translate(55.70 470.90) scale(1 1.060)" font-size="9.60" text-anchor="start">0.8 m</text>
<text transform="translate(54.30 526.10) scale(1 1.060)" font-size="9.60" text-anchor="middle">0.00</text>
<text transform="translate(81.30 526.10) scale(1 1.060)" font-size="9.60" text-anchor="middle">0.01</text>
<text transform="translate(108.30 526.10) scale(1 1.060)" font-size="9.60" text-anchor="middle">0.02</text>
<text transform="translate(135.30 526.10) scale(1 1.060)" font-size="9.60" text-anchor="middle">0.03</text>
<text transform="translate(162.30 526.10) scale(1 1.060)" font-size="9.60" text-anchor="middle">0.04</text>
<text transform="translate(189.30 526.10) scale(1 1.060)" font-size="9.60" text-anchor="middle">0.05</text>
<text transform="translate(59.30 545.60) scale(1 1.020)" font-size="14.75" text-anchor="start">Radial distance r / m</text>
<text transform="translate(13.80 403.30) rotate(-90)" font-size="14.9" text-anchor="middle">Solids concentration (1-ε) / -</text>
<text transform="translate(3.40 290.80) scale(1 1.050)" font-size="14.50" text-anchor="start">c)</text>
<text x="123.80" y="303.80" font-size="9.0">ṁ<tspan font-size="6.7" dy="3.2" dx="0.9">sheath</tspan></text>
<path d="M123.00 315.00H144.50" stroke="#b4b4b4" stroke-width="1"/>
<g fill="#000000"><rect x="131.90" y="312.90" width="4.2" height="4.2"/></g>
<text transform="translate(148.50 318.80) scale(1 1.060)" font-size="9.80" text-anchor="start">5.0 kg/h</text>
<path d="M123.00 327.00H144.50" stroke="#ffa8a8" stroke-width="1"/>
<g fill="#ff0000"><circle cx="134.00" cy="327.00" r="2.35"/></g>
<text transform="translate(148.50 330.80) scale(1 1.060)" font-size="9.80" text-anchor="start">8.9 kg/h</text>
<path d="M123.00 338.60H144.50" stroke="#9ccc9c" stroke-width="1"/>
<g fill="#008000"><path d="M134.00 335.90L136.60 340.40L131.40 340.40Z"/></g>
<text transform="translate(148.50 342.40) scale(1 1.060)" font-size="9.80" text-anchor="start">10.7 kg/h</text>
<g stroke="#222" stroke-width="1" fill="none">
<rect x="261.80" y="293.50" width="144.00" height="55.20"/>
<path d="M261.80 348.70V345.70M261.80 293.50V296.50"/>
<path d="M275.30 348.70V346.90M275.30 293.50V295.30"/>
<path d="M288.80 348.70V345.70M288.80 293.50V296.50"/>
<path d="M302.30 348.70V346.90M302.30 293.50V295.30"/>
<path d="M315.80 348.70V345.70M315.80 293.50V296.50"/>
<path d="M329.30 348.70V346.90M329.30 293.50V295.30"/>
<path d="M342.80 348.70V345.70M342.80 293.50V296.50"/>
<path d="M356.30 348.70V346.90M356.30 293.50V295.30"/>
<path d="M369.80 348.70V345.70M369.80 293.50V296.50"/>
<path d="M383.30 348.70V346.90M383.30 293.50V295.30"/>
<path d="M396.80 348.70V345.70M396.80 293.50V296.50"/>
<path d="M261.80 348.70H264.80M405.80 348.70H402.80"/>
<path d="M261.80 321.10H264.80M405.80 321.10H402.80"/>
<path d="M261.80 293.50H264.80M405.80 293.50H402.80"/>
<path d="M261.80 334.90H263.60M405.80 334.90H404.00"/>
<path d="M261.80 307.30H263.60M405.80 307.30H404.00"/>
<rect x="261.80" y="348.70" width="144.00" height="55.20"/>
<path d="M261.80 403.90V400.90"/>
<path d="M275.30 403.90V402.10"/>
<path d="M288.80 403.90V400.90"/>
<path d="M302.30 403.90V402.10"/>
<path d="M315.80 403.90V400.90"/>
<path d="M329.30 403.90V402.10"/>
<path d="M342.80 403.90V400.90"/>
<path d="M356.30 403.90V402.10"/>
<path d="M369.80 403.90V400.90"/>
<path d="M383.30 403.90V402.10"/>
<path d="M396.80 403.90V400.90"/>
<path d="M261.80 403.90H264.80M405.80 403.90H402.80"/>
<path d="M261.80 376.30H264.80M405.80 376.30H402.80"/>
<path d="M261.80 348.70H264.80M405.80 348.70H402.80"/>
<path d="M261.80 390.10H263.60M405.80 390.10H404.00"/>
<path d="M261.80 362.50H263.60M405.80 362.50H404.00"/>
<rect x="261.80" y="403.90" width="144.00" height="55.20"/>
<path d="M261.80 459.10V456.10"/>
<path d="M275.30 459.10V457.30"/>
<path d="M288.80 459.10V456.10"/>
<path d="M302.30 459.10V457.30"/>
<path d="M315.80 459.10V456.10"/>
<path d="M329.30 459.10V457.30"/>
<path d="M342.80 459.10V456.10"/>
<path d="M356.30 459.10V457.30"/>
<path d="M369.80 459.10V456.10"/>
<path d="M383.30 459.10V457.30"/>
<path d="M396.80 459.10V456.10"/>
<path d="M261.80 459.10H264.80M405.80 459.10H402.80"/>
<path d="M261.80 431.50H264.80M405.80 431.50H402.80"/>
<path d="M261.80 403.90H264.80M405.80 403.90H402.80"/>
<path d="M261.80 445.30H263.60M405.80 445.30H404.00"/>
<path d="M261.80 417.70H263.60M405.80 417.70H404.00"/>
<rect x="261.80" y="459.10" width="144.00" height="55.20"/>
<path d="M261.80 514.30V511.30"/>
<path d="M275.30 514.30V512.50"/>
<path d="M288.80 514.30V511.30"/>
<path d="M302.30 514.30V512.50"/>
<path d="M315.80 514.30V511.30"/>
<path d="M329.30 514.30V512.50"/>
<path d="M342.80 514.30V511.30"/>
<path d="M356.30 514.30V512.50"/>
<path d="M369.80 514.30V511.30"/>
<path d="M383.30 514.30V512.50"/>
<path d="M396.80 514.30V511.30"/>
<path d="M261.80 514.30H264.80M405.80 514.30H402.80"/>
<path d="M261.80 486.70H264.80M405.80 486.70H402.80"/>
<path d="M261.80 459.10H264.80M405.80 459.10H402.80"/>
<path d="M261.80 500.50H263.60M405.80 500.50H404.00"/>
<path d="M261.80 472.90H263.60M405.80 472.90H404.00"/>
</g>
<clipPath id="clipd0"><rect x="261.30" y="293.50" width="145.00" height="55.80"/></clipPath>
<g clip-path="url(#clipd0)">
<path d="M263.10 318.50 L266.00 324.70 L268.00 329.10 L272.00 331.40 L275.33 332.20 L278.67 333.00 L282.00 333.80 L284.77 334.47 L287.53 335.13 L290.30 335.80 L293.60 325.50 L296.50 308.50 L299.50 318.50 L302.00 342.50 L304.50 343.35 L307.00 344.20 L309.98 344.42 L312.96 344.64 L315.93 344.87 L318.91 345.09 L321.89 345.31 L324.87 345.53 L327.84 345.76 L330.82 345.98 L333.80 346.20 L336.68 346.22 L339.56 346.24 L342.44 346.26 L345.32 346.28 L348.20 346.30 L351.08 346.32 L353.96 346.34 L356.84 346.36 L359.72 346.38 L362.60 346.40 L365.48 346.42 L368.36 346.44 L371.24 346.46 L374.12 346.48 L377.00 346.50 L379.88 346.52 L382.76 346.54 L385.64 346.56 L388.52 346.58 L391.40 346.60 L394.28 346.62 L397.16 346.64 L400.04 346.66 L402.92 346.68 L405.80 346.70" fill="none" stroke="#666666" stroke-width="0.5"/><g fill="#000000"><rect x="261.00" y="316.40" width="4.2" height="4.2"/><rect x="263.90" y="322.60" width="4.2" height="4.2"/><rect x="265.90" y="327.00" width="4.2" height="4.2"/><rect x="269.90" y="329.30" width="4.2" height="4.2"/><rect x="273.23" y="330.10" width="4.2" height="4.2"/><rect x="276.57" y="330.90" width="4.2" height="4.2"/><rect x="279.90" y="331.70" width="4.2" height="4.2"/><rect x="282.67" y="332.37" width="4.2" height="4.2"/><rect x="285.43" y="333.03" width="4.2" height="4.2"/><rect x="288.20" y="333.70" width="4.2" height="4.2"/><rect x="291.50" y="323.40" width="4.2" height="4.2"/><rect x="294.40" y="306.40" width="4.2" height="4.2"/><rect x="297.40" y="316.40" width="4.2" height="4.2"/><rect x="299.90" y="340.40" width="4.2" height="4.2"/><rect x="302.40" y="341.25" width="4.2" height="4.2"/><rect x="304.90" y="342.10" width="4.2" height="4.2"/><rect x="307.88" y="342.32" width="4.2" height="4.2"/><rect x="310.86" y="342.54" width="4.2" height="4.2"/><rect x="313.83" y="342.77" width="4.2" height="4.2"/><rect x="316.81" y="342.99" width="4.2" height="4.2"/><rect x="319.79" y="343.21" width="4.2" height="4.2"/><rect x="322.77" y="343.43" width="4.2" height="4.2"/><rect x="325.74" y="343.66" width="4.2" height="4.2"/><rect x="328.72" y="343.88" width="4.2" height="4.2"/><rect x="331.70" y="344.10" width="4.2" height="4.2"/><rect x="334.58" y="344.12" width="4.2" height="4.2"/><rect x="337.46" y="344.14" width="4.2" height="4.2"/><rect x="340.34" y="344.16" width="4.2" height="4.2"/><rect x="343.22" y="344.18" width="4.2" height="4.2"/><rect x="346.10" y="344.20" width="4.2" height="4.2"/><rect x="348.98" y="344.22" width="4.2" height="4.2"/><rect x="351.86" y="344.24" width="4.2" height="4.2"/><rect x="354.74" y="344.26" width="4.2" height="4.2"/><rect x="357.62" y="344.28" width="4.2" height="4.2"/><rect x="360.50" y="344.30" width="4.2" height="4.2"/><rect x="363.38" y="344.32" width="4.2" height="4.2"/><rect x="366.26" y="344.34" width="4.2" height="4.2"/><rect x="369.14" y="344.36" width="4.2" height="4.2"/><rect x="372.02" y="344.38" width="4.2" height="4.2"/><rect x="374.90" y="344.40" width="4.2" height="4.2"/><rect x="377.78" y="344.42" width="4.2" height="4.2"/><rect x="380.66" y="344.44" width="4.2" height="4.2"/><rect x="383.54" y="344.46" width="4.2" height="4.2"/><rect x="386.42" y="344.48" width="4.2" height="4.2"/><rect x="389.30" y="344.50" width="4.2" height="4.2"/><rect x="392.18" y="344.52" width="4.2" height="4.2"/><rect x="395.06" y="344.54" width="4.2" height="4.2"/><rect x="397.94" y="344.56" width="4.2" height="4.2"/><rect x="400.82" y="344.58" width="4.2" height="4.2"/><rect x="403.70" y="344.60" width="4.2" height="4.2"/></g>
<path d="M263.10 314.10 L266.00 323.80 L270.00 328.20 L274.00 330.90 L276.67 331.87 L279.33 332.83 L282.00 333.80 L285.50 334.95 L289.00 336.10 L292.00 333.50 L294.00 327.30 L296.00 326.50 L299.50 338.40 L302.00 343.50 L304.50 344.15 L307.00 344.80 L309.98 345.07 L312.96 345.33 L315.93 345.60 L318.91 345.87 L321.89 346.13 L324.87 346.40 L327.84 346.67 L330.82 346.93 L333.80 347.20 L336.68 347.21 L339.56 347.22 L342.44 347.24 L345.32 347.25 L348.20 347.26 L351.08 347.27 L353.96 347.28 L356.84 347.30 L359.72 347.31 L362.60 347.32 L365.48 347.33 L368.36 347.34 L371.24 347.36 L374.12 347.37 L377.00 347.38 L379.88 347.39 L382.76 347.40 L385.64 347.42 L388.52 347.43 L391.40 347.44 L394.28 347.45 L397.16 347.46 L400.04 347.48 L402.92 347.49 L405.80 347.50" fill="none" stroke="#ff6a6a" stroke-width="0.5"/><g fill="#ff0000"><circle cx="263.10" cy="314.10" r="2.35"/><circle cx="266.00" cy="323.80" r="2.35"/><circle cx="270.00" cy="328.20" r="2.35"/><circle cx="274.00" cy="330.90" r="2.35"/><circle cx="276.67" cy="331.87" r="2.35"/><circle cx="279.33" cy="332.83" r="2.35"/><circle cx="282.00" cy="333.80" r="2.35"/><circle cx="285.50" cy="334.95" r="2.35"/><circle cx="289.00" cy="336.10" r="2.35"/><circle cx="292.00" cy="333.50" r="2.35"/><circle cx="294.00" cy="327.30" r="2.35"/><circle cx="296.00" cy="326.50" r="2.35"/><circle cx="299.50" cy="338.40" r="2.35"/><circle cx="302.00" cy="343.50" r="2.35"/><circle cx="304.50" cy="344.15" r="2.35"/><circle cx="307.00" cy="344.80" r="2.35"/><circle cx="309.98" cy="345.07" r="2.35"/><circle cx="312.96" cy="345.33" r="2.35"/><circle cx="315.93" cy="345.60" r="2.35"/><circle cx="318.91" cy="345.87" r="2.35"/><circle cx="321.89" cy="346.13" r="2.35"/><circle cx="324.87" cy="346.40" r="2.35"/><circle cx="327.84" cy="346.67" r="2.35"/><circle cx="330.82" cy="346.93" r="2.35"/><circle cx="333.80" cy="347.20" r="2.35"/><circle cx="336.68" cy="347.21" r="2.35"/><circle cx="339.56" cy="347.22" r="2.35"/><circle cx="342.44" cy="347.24" r="2.35"/><circle cx="345.32" cy="347.25" r="2.35"/><circle cx="348.20" cy="347.26" r="2.35"/><circle cx="351.08" cy="347.27" r="2.35"/><circle cx="353.96" cy="347.28" r="2.35"/><circle cx="356.84" cy="347.30" r="2.35"/><circle cx="359.72" cy="347.31" r="2.35"/><circle cx="362.60" cy="347.32" r="2.35"/><circle cx="365.48" cy="347.33" r="2.35"/><circle cx="368.36" cy="347.34" r="2.35"/><circle cx="371.24" cy="347.36" r="2.35"/><circle cx="374.12" cy="347.37" r="2.35"/><circle cx="377.00" cy="347.38" r="2.35"/><circle cx="379.88" cy="347.39" r="2.35"/><circle cx="382.76" cy="347.40" r="2.35"/><circle cx="385.64" cy="347.42" r="2.35"/><circle cx="388.52" cy="347.43" r="2.35"/><circle cx="391.40" cy="347.44" r="2.35"/><circle cx="394.28" cy="347.45" r="2.35"/><circle cx="397.16" cy="347.46" r="2.35"/><circle cx="400.04" cy="347.48" r="2.35"/><circle cx="402.92" cy="347.49" r="2.35"/><circle cx="405.80" cy="347.50" r="2.35"/></g>
<path d="M263.10 309.70 L264.50 312.40 L267.00 319.40 L270.00 326.50 L274.00 330.90 L276.50 332.65 L279.00 334.40 L281.50 335.70 L284.00 337.00 L286.50 338.05 L289.00 339.10 L292.00 337.90 L294.50 332.60 L297.00 335.30 L299.00 343.20 L302.00 346.60 L304.89 346.70 L307.78 346.80 L310.67 346.90 L313.56 347.00 L316.45 347.10 L319.35 347.20 L322.24 347.30 L325.13 347.40 L328.02 347.50 L330.91 347.60 L333.80 347.70 L336.68 347.70 L339.56 347.70 L342.44 347.70 L345.32 347.70 L348.20 347.70 L351.08 347.70 L353.96 347.70 L356.84 347.70 L359.72 347.70 L362.60 347.70 L365.48 347.70 L368.36 347.70 L371.24 347.70 L374.12 347.70 L377.00 347.70 L379.88 347.70 L382.76 347.70 L385.64 347.70 L388.52 347.70 L391.40 347.70 L394.28 347.70 L397.16 347.70 L400.04 347.70 L402.92 347.70 L405.80 347.70" fill="none" stroke="#4aa04a" stroke-width="0.5"/><g fill="#008000"><path d="M263.10 307.00L265.70 311.50L260.50 311.50Z"/><path d="M264.50 309.70L267.10 314.20L261.90 314.20Z"/><path d="M267.00 316.70L269.60 321.20L264.40 321.20Z"/><path d="M270.00 323.80L272.60 328.30L267.40 328.30Z"/><path d="M274.00 328.20L276.60 332.70L271.40 332.70Z"/><path d="M276.50 329.95L279.10 334.45L273.90 334.45Z"/><path d="M279.00 331.70L281.60 336.20L276.40 336.20Z"/><path d="M281.50 333.00L284.10 337.50L278.90 337.50Z"/><path d="M284.00 334.30L286.60 338.80L281.40 338.80Z"/><path d="M286.50 335.35L289.10 339.85L283.90 339.85Z"/><path d="M289.00 336.40L291.60 340.90L286.40 340.90Z"/><path d="M292.00 335.20L294.60 339.70L289.40 339.70Z"/><path d="M294.50 329.90L297.10 334.40L291.90 334.40Z"/><path d="M297.00 332.60L299.60 337.10L294.40 337.10Z"/><path d="M299.00 340.50L301.60 345.00L296.40 345.00Z"/><path d="M302.00 343.90L304.60 348.40L299.40 348.40Z"/><path d="M304.89 344.00L307.49 348.50L302.29 348.50Z"/><path d="M307.78 344.10L310.38 348.60L305.18 348.60Z"/><path d="M310.67 344.20L313.27 348.70L308.07 348.70Z"/><path d="M313.56 344.30L316.16 348.80L310.96 348.80Z"/><path d="M316.45 344.40L319.05 348.90L313.85 348.90Z"/><path d="M319.35 344.50L321.95 349.00L316.75 349.00Z"/><path d="M322.24 344.60L324.84 349.10L319.64 349.10Z"/><path d="M325.13 344.70L327.73 349.20L322.53 349.20Z"/><path d="M328.02 344.80L330.62 349.30L325.42 349.30Z"/><path d="M330.91 344.90L333.51 349.40L328.31 349.40Z"/><path d="M333.80 345.00L336.40 349.50L331.20 349.50Z"/><path d="M336.68 345.00L339.28 349.50L334.08 349.50Z"/><path d="M339.56 345.00L342.16 349.50L336.96 349.50Z"/><path d="M342.44 345.00L345.04 349.50L339.84 349.50Z"/><path d="M345.32 345.00L347.92 349.50L342.72 349.50Z"/><path d="M348.20 345.00L350.80 349.50L345.60 349.50Z"/><path d="M351.08 345.00L353.68 349.50L348.48 349.50Z"/><path d="M353.96 345.00L356.56 349.50L351.36 349.50Z"/><path d="M356.84 345.00L359.44 349.50L354.24 349.50Z"/><path d="M359.72 345.00L362.32 349.50L357.12 349.50Z"/><path d="M362.60 345.00L365.20 349.50L360.00 349.50Z"/><path d="M365.48 345.00L368.08 349.50L362.88 349.50Z"/><path d="M368.36 345.00L370.96 349.50L365.76 349.50Z"/><path d="M371.24 345.00L373.84 349.50L368.64 349.50Z"/><path d="M374.12 345.00L376.72 349.50L371.52 349.50Z"/><path d="M377.00 345.00L379.60 349.50L374.40 349.50Z"/><path d="M379.88 345.00L382.48 349.50L377.28 349.50Z"/><path d="M382.76 345.00L385.36 349.50L380.16 349.50Z"/><path d="M385.64 345.00L388.24 349.50L383.04 349.50Z"/><path d="M388.52 345.00L391.12 349.50L385.92 349.50Z"/><path d="M391.40 345.00L394.00 349.50L388.80 349.50Z"/><path d="M394.28 345.00L396.88 349.50L391.68 349.50Z"/><path d="M397.16 345.00L399.76 349.50L394.56 349.50Z"/><path d="M400.04 345.00L402.64 349.50L397.44 349.50Z"/><path d="M402.92 345.00L405.52 349.50L400.32 349.50Z"/><path d="M405.80 345.00L408.40 349.50L403.20 349.50Z"/></g>
</g>
<clipPath id="clipd1"><rect x="261.30" y="348.70" width="145.00" height="55.80"/></clipPath>
<g clip-path="url(#clipd1)">
<path d="M263.10 388.50 L267.00 392.00 L269.50 393.05 L272.00 394.10 L275.33 394.77 L278.67 395.43 L282.00 396.10 L285.33 396.40 L288.67 396.70 L292.00 397.00 L295.33 396.70 L298.67 396.40 L302.00 396.10 L304.50 389.40 L307.00 367.40 L310.00 368.80 L312.50 394.10 L315.00 399.00 L317.00 401.00 L319.86 401.05 L322.73 401.11 L325.59 401.16 L328.46 401.22 L331.32 401.27 L334.19 401.33 L337.05 401.38 L339.92 401.44 L342.78 401.49 L345.65 401.55 L348.51 401.60 L351.37 401.66 L354.24 401.71 L357.10 401.77 L359.97 401.82 L362.83 401.88 L365.70 401.93 L368.56 401.99 L371.43 402.04 L374.29 402.10 L377.15 402.15 L380.02 402.21 L382.88 402.26 L385.75 402.32 L388.61 402.37 L391.48 402.43 L394.34 402.48 L397.21 402.54 L400.07 402.59 L402.94 402.65 L405.80 402.70" fill="none" stroke="#666666" stroke-width="0.5"/><g fill="#000000"><rect x="261.00" y="386.40" width="4.2" height="4.2"/><rect x="264.90" y="389.90" width="4.2" height="4.2"/><rect x="267.40" y="390.95" width="4.2" height="4.2"/><rect x="269.90" y="392.00" width="4.2" height="4.2"/><rect x="273.23" y="392.67" width="4.2" height="4.2"/><rect x="276.57" y="393.33" width="4.2" height="4.2"/><rect x="279.90" y="394.00" width="4.2" height="4.2"/><rect x="283.23" y="394.30" width="4.2" height="4.2"/><rect x="286.57" y="394.60" width="4.2" height="4.2"/><rect x="289.90" y="394.90" width="4.2" height="4.2"/><rect x="293.23" y="394.60" width="4.2" height="4.2"/><rect x="296.57" y="394.30" width="4.2" height="4.2"/><rect x="299.90" y="394.00" width="4.2" height="4.2"/><rect x="302.40" y="387.30" width="4.2" height="4.2"/><rect x="304.90" y="365.30" width="4.2" height="4.2"/><rect x="307.90" y="366.70" width="4.2" height="4.2"/><rect x="310.40" y="392.00" width="4.2" height="4.2"/><rect x="312.90" y="396.90" width="4.2" height="4.2"/><rect x="314.90" y="398.90" width="4.2" height="4.2"/><rect x="317.76" y="398.95" width="4.2" height="4.2"/><rect x="320.63" y="399.01" width="4.2" height="4.2"/><rect x="323.49" y="399.06" width="4.2" height="4.2"/><rect x="326.36" y="399.12" width="4.2" height="4.2"/><rect x="329.22" y="399.17" width="4.2" height="4.2"/><rect x="332.09" y="399.23" width="4.2" height="4.2"/><rect x="334.95" y="399.28" width="4.2" height="4.2"/><rect x="337.82" y="399.34" width="4.2" height="4.2"/><rect x="340.68" y="399.39" width="4.2" height="4.2"/><rect x="343.55" y="399.45" width="4.2" height="4.2"/><rect x="346.41" y="399.50" width="4.2" height="4.2"/><rect x="349.27" y="399.56" width="4.2" height="4.2"/><rect x="352.14" y="399.61" width="4.2" height="4.2"/><rect x="355.00" y="399.67" width="4.2" height="4.2"/><rect x="357.87" y="399.72" width="4.2" height="4.2"/><rect x="360.73" y="399.78" width="4.2" height="4.2"/><rect x="363.60" y="399.83" width="4.2" height="4.2"/><rect x="366.46" y="399.89" width="4.2" height="4.2"/><rect x="369.33" y="399.94" width="4.2" height="4.2"/><rect x="372.19" y="400.00" width="4.2" height="4.2"/><rect x="375.05" y="400.05" width="4.2" height="4.2"/><rect x="377.92" y="400.11" width="4.2" height="4.2"/><rect x="380.78" y="400.16" width="4.2" height="4.2"/><rect x="383.65" y="400.22" width="4.2" height="4.2"/><rect x="386.51" y="400.27" width="4.2" height="4.2"/><rect x="389.38" y="400.33" width="4.2" height="4.2"/><rect x="392.24" y="400.38" width="4.2" height="4.2"/><rect x="395.11" y="400.44" width="4.2" height="4.2"/><rect x="397.97" y="400.49" width="4.2" height="4.2"/><rect x="400.84" y="400.55" width="4.2" height="4.2"/><rect x="403.70" y="400.60" width="4.2" height="4.2"/></g>
<path d="M263.10 386.70 L267.00 389.40 L270.33 390.27 L273.67 391.13 L277.00 392.00 L280.33 392.80 L283.67 393.60 L287.00 394.40 L290.33 394.70 L293.67 395.00 L297.00 395.30 L300.33 395.47 L303.67 395.63 L307.00 395.80 L310.00 394.70 L312.50 382.30 L315.50 379.70 L318.00 394.10 L320.50 399.70 L324.00 400.60 L326.91 400.67 L329.82 400.74 L332.74 400.82 L335.65 400.89 L338.56 400.96 L341.47 401.03 L344.38 401.10 L347.30 401.18 L350.21 401.25 L353.12 401.32 L356.03 401.39 L358.94 401.46 L361.86 401.54 L364.77 401.61 L367.68 401.68 L370.59 401.75 L373.50 401.82 L376.42 401.90 L379.33 401.97 L382.24 402.04 L385.15 402.11 L388.06 402.18 L390.98 402.26 L393.89 402.33 L396.80 402.40 L399.80 401.25 L402.80 400.10 L405.80 397.10" fill="none" stroke="#ff6a6a" stroke-width="0.5"/><g fill="#ff0000"><circle cx="263.10" cy="386.70" r="2.35"/><circle cx="267.00" cy="389.40" r="2.35"/><circle cx="270.33" cy="390.27" r="2.35"/><circle cx="273.67" cy="391.13" r="2.35"/><circle cx="277.00" cy="392.00" r="2.35"/><circle cx="280.33" cy="392.80" r="2.35"/><circle cx="283.67" cy="393.60" r="2.35"/><circle cx="287.00" cy="394.40" r="2.35"/><circle cx="290.33" cy="394.70" r="2.35"/><circle cx="293.67" cy="395.00" r="2.35"/><circle cx="297.00" cy="395.30" r="2.35"/><circle cx="300.33" cy="395.47" r="2.35"/><circle cx="303.67" cy="395.63" r="2.35"/><circle cx="307.00" cy="395.80" r="2.35"/><circle cx="310.00" cy="394.70" r="2.35"/><circle cx="312.50" cy="382.30" r="2.35"/><circle cx="315.50" cy="379.70" r="2.35"/><circle cx="318.00" cy="394.10" r="2.35"/><circle cx="320.50" cy="399.70" r="2.35"/><circle cx="324.00" cy="400.60" r="2.35"/><circle cx="326.91" cy="400.67" r="2.35"/><circle cx="329.82" cy="400.74" r="2.35"/><circle cx="332.74" cy="400.82" r="2.35"/><circle cx="335.65" cy="400.89" r="2.35"/><circle cx="338.56" cy="400.96" r="2.35"/><circle cx="341.47" cy="401.03" r="2.35"/><circle cx="344.38" cy="401.10" r="2.35"/><circle cx="347.30" cy="401.18" r="2.35"/><circle cx="350.21" cy="401.25" r="2.35"/><circle cx="353.12" cy="401.32" r="2.35"/><circle cx="356.03" cy="401.39" r="2.35"/><circle cx="358.94" cy="401.46" r="2.35"/><circle cx="361.86" cy="401.54" r="2.35"/><circle cx="364.77" cy="401.61" r="2.35"/><circle cx="367.68" cy="401.68" r="2.35"/><circle cx="370.59" cy="401.75" r="2.35"/><circle cx="373.50" cy="401.82" r="2.35"/><circle cx="376.42" cy="401.90" r="2.35"/><circle cx="379.33" cy="401.97" r="2.35"/><circle cx="382.24" cy="402.04" r="2.35"/><circle cx="385.15" cy="402.11" r="2.35"/><circle cx="388.06" cy="402.18" r="2.35"/><circle cx="390.98" cy="402.26" r="2.35"/><circle cx="393.89" cy="402.33" r="2.35"/><circle cx="396.80" cy="402.40" r="2.35"/><circle cx="399.80" cy="401.25" r="2.35"/><circle cx="402.80" cy="400.10" r="2.35"/><circle cx="405.80" cy="397.10" r="2.35"/></g>
<path d="M263.10 384.10 L265.00 388.10 L269.00 390.30 L271.67 391.17 L274.33 392.03 L277.00 392.90 L280.33 393.50 L283.67 394.10 L287.00 394.70 L290.33 394.90 L293.67 395.10 L297.00 395.30 L300.33 395.57 L303.67 395.83 L307.00 396.10 L309.50 395.10 L312.00 394.10 L315.00 388.80 L318.00 386.40 L320.50 394.70 L322.00 399.70 L326.00 401.80 L328.95 401.82 L331.90 401.85 L334.85 401.88 L337.80 401.90 L340.75 401.93 L343.70 401.95 L346.65 401.98 L349.60 402.00 L352.55 402.03 L355.50 402.05 L358.45 402.07 L361.40 402.10 L364.35 402.12 L367.30 402.15 L370.25 402.18 L373.20 402.20 L376.15 402.23 L379.10 402.25 L382.05 402.28 L385.00 402.30 L387.95 402.32 L390.90 402.35 L393.85 402.38 L396.80 402.40 L399.30 400.75 L401.80 399.10 L403.80 391.70 L405.80 388.70" fill="none" stroke="#4aa04a" stroke-width="0.5"/><g fill="#008000"><path d="M263.10 381.40L265.70 385.90L260.50 385.90Z"/><path d="M265.00 385.40L267.60 389.90L262.40 389.90Z"/><path d="M269.00 387.60L271.60 392.10L266.40 392.10Z"/><path d="M271.67 388.47L274.27 392.97L269.07 392.97Z"/><path d="M274.33 389.33L276.93 393.83L271.73 393.83Z"/><path d="M277.00 390.20L279.60 394.70L274.40 394.70Z"/><path d="M280.33 390.80L282.93 395.30L277.73 395.30Z"/><path d="M283.67 391.40L286.27 395.90L281.07 395.90Z"/><path d="M287.00 392.00L289.60 396.50L284.40 396.50Z"/><path d="M290.33 392.20L292.93 396.70L287.73 396.70Z"/><path d="M293.67 392.40L296.27 396.90L291.07 396.90Z"/><path d="M297.00 392.60L299.60 397.10L294.40 397.10Z"/><path d="M300.33 392.87L302.93 397.37L297.73 397.37Z"/><path d="M303.67 393.13L306.27 397.63L301.07 397.63Z"/><path d="M307.00 393.40L309.60 397.90L304.40 397.90Z"/><path d="M309.50 392.40L312.10 396.90L306.90 396.90Z"/><path d="M312.00 391.40L314.60 395.90L309.40 395.90Z"/><path d="M315.00 386.10L317.60 390.60L312.40 390.60Z"/><path d="M318.00 383.70L320.60 388.20L315.40 388.20Z"/><path d="M320.50 392.00L323.10 396.50L317.90 396.50Z"/><path d="M322.00 397.00L324.60 401.50L319.40 401.50Z"/><path d="M326.00 399.10L328.60 403.60L323.40 403.60Z"/><path d="M328.95 399.12L331.55 403.62L326.35 403.62Z"/><path d="M331.90 399.15L334.50 403.65L329.30 403.65Z"/><path d="M334.85 399.18L337.45 403.68L332.25 403.68Z"/><path d="M337.80 399.20L340.40 403.70L335.20 403.70Z"/><path d="M340.75 399.23L343.35 403.73L338.15 403.73Z"/><path d="M343.70 399.25L346.30 403.75L341.10 403.75Z"/><path d="M346.65 399.28L349.25 403.78L344.05 403.78Z"/><path d="M349.60 399.30L352.20 403.80L347.00 403.80Z"/><path d="M352.55 399.33L355.15 403.83L349.95 403.83Z"/><path d="M355.50 399.35L358.10 403.85L352.90 403.85Z"/><path d="M358.45 399.38L361.05 403.88L355.85 403.88Z"/><path d="M361.40 399.40L364.00 403.90L358.80 403.90Z"/><path d="M364.35 399.43L366.95 403.93L361.75 403.93Z"/><path d="M367.30 399.45L369.90 403.95L364.70 403.95Z"/><path d="M370.25 399.48L372.85 403.98L367.65 403.98Z"/><path d="M373.20 399.50L375.80 404.00L370.60 404.00Z"/><path d="M376.15 399.53L378.75 404.03L373.55 404.03Z"/><path d="M379.10 399.55L381.70 404.05L376.50 404.05Z"/><path d="M382.05 399.58L384.65 404.08L379.45 404.08Z"/><path d="M385.00 399.60L387.60 404.10L382.40 404.10Z"/><path d="M387.95 399.62L390.55 404.12L385.35 404.12Z"/><path d="M390.90 399.65L393.50 404.15L388.30 404.15Z"/><path d="M393.85 399.68L396.45 404.18L391.25 404.18Z"/><path d="M396.80 399.70L399.40 404.20L394.20 404.20Z"/><path d="M399.30 398.05L401.90 402.55L396.70 402.55Z"/><path d="M401.80 396.40L404.40 400.90L399.20 400.90Z"/><path d="M403.80 389.00L406.40 393.50L401.20 393.50Z"/><path d="M405.80 386.00L408.40 390.50L403.20 390.50Z"/></g>
</g>
<clipPath id="clipd2"><rect x="261.30" y="403.90" width="145.00" height="55.80"/></clipPath>
<g clip-path="url(#clipd2)">
<path d="M263.10 454.00 L266.09 454.00 L269.08 454.00 L272.08 454.00 L275.07 454.00 L278.06 454.00 L281.05 454.00 L284.05 454.00 L287.04 454.00 L290.03 454.00 L293.02 454.00 L296.02 454.00 L299.01 454.00 L302.00 454.00 L305.00 450.90 L307.50 446.10 L310.00 426.80 L312.90 426.00 L315.00 448.40 L317.00 454.00 L320.00 455.80 L322.86 455.89 L325.72 455.97 L328.58 456.06 L331.44 456.15 L334.30 456.23 L337.16 456.32 L340.02 456.41 L342.88 456.49 L345.74 456.58 L348.60 456.67 L351.46 456.75 L354.32 456.84 L357.18 456.93 L360.04 457.01 L362.90 457.10 L365.76 457.19 L368.62 457.27 L371.48 457.36 L374.34 457.45 L377.20 457.53 L380.06 457.62 L382.92 457.71 L385.78 457.79 L388.64 457.88 L391.50 457.97 L394.36 458.05 L397.22 458.14 L400.08 458.23 L402.94 458.31 L405.80 458.40" fill="none" stroke="#666666" stroke-width="0.5"/><g fill="#000000"><rect x="261.00" y="451.90" width="4.2" height="4.2"/><rect x="263.99" y="451.90" width="4.2" height="4.2"/><rect x="266.98" y="451.90" width="4.2" height="4.2"/><rect x="269.98" y="451.90" width="4.2" height="4.2"/><rect x="272.97" y="451.90" width="4.2" height="4.2"/><rect x="275.96" y="451.90" width="4.2" height="4.2"/><rect x="278.95" y="451.90" width="4.2" height="4.2"/><rect x="281.95" y="451.90" width="4.2" height="4.2"/><rect x="284.94" y="451.90" width="4.2" height="4.2"/><rect x="287.93" y="451.90" width="4.2" height="4.2"/><rect x="290.92" y="451.90" width="4.2" height="4.2"/><rect x="293.92" y="451.90" width="4.2" height="4.2"/><rect x="296.91" y="451.90" width="4.2" height="4.2"/><rect x="299.90" y="451.90" width="4.2" height="4.2"/><rect x="302.90" y="448.80" width="4.2" height="4.2"/><rect x="305.40" y="444.00" width="4.2" height="4.2"/><rect x="307.90" y="424.70" width="4.2" height="4.2"/><rect x="310.80" y="423.90" width="4.2" height="4.2"/><rect x="312.90" y="446.30" width="4.2" height="4.2"/><rect x="314.90" y="451.90" width="4.2" height="4.2"/><rect x="317.90" y="453.70" width="4.2" height="4.2"/><rect x="320.76" y="453.79" width="4.2" height="4.2"/><rect x="323.62" y="453.87" width="4.2" height="4.2"/><rect x="326.48" y="453.96" width="4.2" height="4.2"/><rect x="329.34" y="454.05" width="4.2" height="4.2"/><rect x="332.20" y="454.13" width="4.2" height="4.2"/><rect x="335.06" y="454.22" width="4.2" height="4.2"/><rect x="337.92" y="454.31" width="4.2" height="4.2"/><rect x="340.78" y="454.39" width="4.2" height="4.2"/><rect x="343.64" y="454.48" width="4.2" height="4.2"/><rect x="346.50" y="454.57" width="4.2" height="4.2"/><rect x="349.36" y="454.65" width="4.2" height="4.2"/><rect x="352.22" y="454.74" width="4.2" height="4.2"/><rect x="355.08" y="454.83" width="4.2" height="4.2"/><rect x="357.94" y="454.91" width="4.2" height="4.2"/><rect x="360.80" y="455.00" width="4.2" height="4.2"/><rect x="363.66" y="455.09" width="4.2" height="4.2"/><rect x="366.52" y="455.17" width="4.2" height="4.2"/><rect x="369.38" y="455.26" width="4.2" height="4.2"/><rect x="372.24" y="455.35" width="4.2" height="4.2"/><rect x="375.10" y="455.43" width="4.2" height="4.2"/><rect x="377.96" y="455.52" width="4.2" height="4.2"/><rect x="380.82" y="455.61" width="4.2" height="4.2"/><rect x="383.68" y="455.69" width="4.2" height="4.2"/><rect x="386.54" y="455.78" width="4.2" height="4.2"/><rect x="389.40" y="455.87" width="4.2" height="4.2"/><rect x="392.26" y="455.95" width="4.2" height="4.2"/><rect x="395.12" y="456.04" width="4.2" height="4.2"/><rect x="397.98" y="456.13" width="4.2" height="4.2"/><rect x="400.84" y="456.21" width="4.2" height="4.2"/><rect x="403.70" y="456.30" width="4.2" height="4.2"/></g>
<path d="M263.10 453.20 L267.00 454.00 L269.92 454.00 L272.83 454.00 L275.75 454.00 L278.67 454.00 L281.58 454.00 L284.50 454.00 L287.42 454.00 L290.33 454.00 L293.25 454.00 L296.17 454.00 L299.08 454.00 L302.00 454.00 L305.33 454.00 L308.67 454.00 L312.00 454.00 L315.40 448.00 L317.90 436.00 L320.80 440.50 L323.70 453.40 L325.40 455.40 L328.00 458.20 L330.87 458.20 L333.73 458.20 L336.60 458.20 L339.47 458.20 L342.33 458.20 L345.20 458.20 L348.07 458.20 L350.93 458.20 L353.80 458.20 L356.67 458.20 L359.53 458.20 L362.40 458.20 L365.27 458.20 L368.13 458.20 L371.00 458.20 L373.87 458.20 L376.73 458.20 L379.60 458.20 L382.47 458.20 L385.33 458.20 L388.20 458.20 L391.07 458.20 L393.93 458.20 L396.80 458.20 L399.80 457.25 L402.80 456.30 L405.80 454.30" fill="none" stroke="#ff6a6a" stroke-width="0.5"/><g fill="#ff0000"><circle cx="263.10" cy="453.20" r="2.35"/><circle cx="267.00" cy="454.00" r="2.35"/><circle cx="269.92" cy="454.00" r="2.35"/><circle cx="272.83" cy="454.00" r="2.35"/><circle cx="275.75" cy="454.00" r="2.35"/><circle cx="278.67" cy="454.00" r="2.35"/><circle cx="281.58" cy="454.00" r="2.35"/><circle cx="284.50" cy="454.00" r="2.35"/><circle cx="287.42" cy="454.00" r="2.35"/><circle cx="290.33" cy="454.00" r="2.35"/><circle cx="293.25" cy="454.00" r="2.35"/><circle cx="296.17" cy="454.00" r="2.35"/><circle cx="299.08" cy="454.00" r="2.35"/><circle cx="302.00" cy="454.00" r="2.35"/><circle cx="305.33" cy="454.00" r="2.35"/><circle cx="308.67" cy="454.00" r="2.35"/><circle cx="312.00" cy="454.00" r="2.35"/><circle cx="315.40" cy="448.00" r="2.35"/><circle cx="317.90" cy="436.00" r="2.35"/><circle cx="320.80" cy="440.50" r="2.35"/><circle cx="323.70" cy="453.40" r="2.35"/><circle cx="325.40" cy="455.40" r="2.35"/><circle cx="328.00" cy="458.20" r="2.35"/><circle cx="330.87" cy="458.20" r="2.35"/><circle cx="333.73" cy="458.20" r="2.35"/><circle cx="336.60" cy="458.20" r="2.35"/><circle cx="339.47" cy="458.20" r="2.35"/><circle cx="342.33" cy="458.20" r="2.35"/><circle cx="345.20" cy="458.20" r="2.35"/><circle cx="348.07" cy="458.20" r="2.35"/><circle cx="350.93" cy="458.20" r="2.35"/><circle cx="353.80" cy="458.20" r="2.35"/><circle cx="356.67" cy="458.20" r="2.35"/><circle cx="359.53" cy="458.20" r="2.35"/><circle cx="362.40" cy="458.20" r="2.35"/><circle cx="365.27" cy="458.20" r="2.35"/><circle cx="368.13" cy="458.20" r="2.35"/><circle cx="371.00" cy="458.20" r="2.35"/><circle cx="373.87" cy="458.20" r="2.35"/><circle cx="376.73" cy="458.20" r="2.35"/><circle cx="379.60" cy="458.20" r="2.35"/><circle cx="382.47" cy="458.20" r="2.35"/><circle cx="385.33" cy="458.20" r="2.35"/><circle cx="388.20" cy="458.20" r="2.35"/><circle cx="391.07" cy="458.20" r="2.35"/><circle cx="393.93" cy="458.20" r="2.35"/><circle cx="396.80" cy="458.20" r="2.35"/><circle cx="399.80" cy="457.25" r="2.35"/><circle cx="402.80" cy="456.30" r="2.35"/><circle cx="405.80" cy="454.30" r="2.35"/></g>
<path d="M263.10 449.70 L266.22 450.03 L269.33 450.37 L272.45 450.70 L275.57 451.03 L278.68 451.37 L281.80 451.70 L284.69 451.90 L287.57 452.10 L290.46 452.30 L293.34 452.50 L296.23 452.70 L299.11 452.90 L302.00 453.10 L304.50 453.55 L307.00 454.00 L310.50 453.70 L314.00 453.40 L317.80 451.40 L320.80 445.10 L324.10 441.80 L326.20 449.70 L329.00 454.90 L331.40 456.35 L333.80 457.80 L336.66 457.79 L339.53 457.78 L342.39 457.77 L345.25 457.76 L348.12 457.75 L350.98 457.75 L353.85 457.74 L356.71 457.73 L359.57 457.72 L362.44 457.71 L365.30 457.70 L368.16 457.69 L371.03 457.68 L373.89 457.67 L376.75 457.66 L379.62 457.65 L382.48 457.65 L385.35 457.64 L388.21 457.63 L391.07 457.62 L393.94 457.61 L396.80 457.60 L399.80 455.95 L402.80 454.30 L405.80 448.40" fill="none" stroke="#4aa04a" stroke-width="0.5"/><g fill="#008000"><path d="M263.10 447.00L265.70 451.50L260.50 451.50Z"/><path d="M266.22 447.33L268.82 451.83L263.62 451.83Z"/><path d="M269.33 447.67L271.93 452.17L266.73 452.17Z"/><path d="M272.45 448.00L275.05 452.50L269.85 452.50Z"/><path d="M275.57 448.33L278.17 452.83L272.97 452.83Z"/><path d="M278.68 448.67L281.28 453.17L276.08 453.17Z"/><path d="M281.80 449.00L284.40 453.50L279.20 453.50Z"/><path d="M284.69 449.20L287.29 453.70L282.09 453.70Z"/><path d="M287.57 449.40L290.17 453.90L284.97 453.90Z"/><path d="M290.46 449.60L293.06 454.10L287.86 454.10Z"/><path d="M293.34 449.80L295.94 454.30L290.74 454.30Z"/><path d="M296.23 450.00L298.83 454.50L293.63 454.50Z"/><path d="M299.11 450.20L301.71 454.70L296.51 454.70Z"/><path d="M302.00 450.40L304.60 454.90L299.40 454.90Z"/><path d="M304.50 450.85L307.10 455.35L301.90 455.35Z"/><path d="M307.00 451.30L309.60 455.80L304.40 455.80Z"/><path d="M310.50 451.00L313.10 455.50L307.90 455.50Z"/><path d="M314.00 450.70L316.60 455.20L311.40 455.20Z"/><path d="M317.80 448.70L320.40 453.20L315.20 453.20Z"/><path d="M320.80 442.40L323.40 446.90L318.20 446.90Z"/><path d="M324.10 439.10L326.70 443.60L321.50 443.60Z"/><path d="M326.20 447.00L328.80 451.50L323.60 451.50Z"/><path d="M329.00 452.20L331.60 456.70L326.40 456.70Z"/><path d="M331.40 453.65L334.00 458.15L328.80 458.15Z"/><path d="M333.80 455.10L336.40 459.60L331.20 459.60Z"/><path d="M336.66 455.09L339.26 459.59L334.06 459.59Z"/><path d="M339.53 455.08L342.13 459.58L336.93 459.58Z"/><path d="M342.39 455.07L344.99 459.57L339.79 459.57Z"/><path d="M345.25 455.06L347.85 459.56L342.65 459.56Z"/><path d="M348.12 455.05L350.72 459.55L345.52 459.55Z"/><path d="M350.98 455.05L353.58 459.55L348.38 459.55Z"/><path d="M353.85 455.04L356.45 459.54L351.25 459.54Z"/><path d="M356.71 455.03L359.31 459.53L354.11 459.53Z"/><path d="M359.57 455.02L362.17 459.52L356.97 459.52Z"/><path d="M362.44 455.01L365.04 459.51L359.84 459.51Z"/><path d="M365.30 455.00L367.90 459.50L362.70 459.50Z"/><path d="M368.16 454.99L370.76 459.49L365.56 459.49Z"/><path d="M371.03 454.98L373.63 459.48L368.43 459.48Z"/><path d="M373.89 454.97L376.49 459.47L371.29 459.47Z"/><path d="M376.75 454.96L379.35 459.46L374.15 459.46Z"/><path d="M379.62 454.95L382.22 459.45L377.02 459.45Z"/><path d="M382.48 454.95L385.08 459.45L379.88 459.45Z"/><path d="M385.35 454.94L387.95 459.44L382.75 459.44Z"/><path d="M388.21 454.93L390.81 459.43L385.61 459.43Z"/><path d="M391.07 454.92L393.67 459.42L388.47 459.42Z"/><path d="M393.94 454.91L396.54 459.41L391.34 459.41Z"/><path d="M396.80 454.90L399.40 459.40L394.20 459.40Z"/><path d="M399.80 453.25L402.40 457.75L397.20 457.75Z"/><path d="M402.80 451.60L405.40 456.10L400.20 456.10Z"/><path d="M405.80 445.70L408.40 450.20L403.20 450.20Z"/></g>
</g>
<clipPath id="clipd3"><rect x="261.30" y="459.10" width="145.00" height="55.80"/></clipPath>
<g clip-path="url(#clipd3)">
<path d="M263.10 502.00 L265.00 508.10 L267.00 511.20 L269.92 511.20 L272.83 511.20 L275.75 511.20 L278.67 511.20 L281.58 511.20 L284.50 511.20 L287.42 511.20 L290.33 511.20 L293.25 511.20 L296.17 511.20 L299.08 511.20 L302.00 511.20 L306.00 509.40 L308.00 506.70 L310.00 499.90 L312.00 484.80 L315.00 484.80 L318.80 507.10 L322.00 510.50 L324.89 510.58 L327.78 510.66 L330.67 510.74 L333.56 510.82 L336.45 510.90 L339.34 510.98 L342.23 511.06 L345.12 511.13 L348.01 511.21 L350.90 511.29 L353.79 511.37 L356.68 511.45 L359.57 511.53 L362.46 511.61 L365.34 511.69 L368.23 511.77 L371.12 511.85 L374.01 511.93 L376.90 512.01 L379.79 512.09 L382.68 512.17 L385.57 512.24 L388.46 512.32 L391.35 512.40 L394.24 512.48 L397.13 512.56 L400.02 512.64 L402.91 512.72 L405.80 512.80" fill="none" stroke="#666666" stroke-width="0.5"/><g fill="#000000"><rect x="261.00" y="499.90" width="4.2" height="4.2"/><rect x="262.90" y="506.00" width="4.2" height="4.2"/><rect x="264.90" y="509.10" width="4.2" height="4.2"/><rect x="267.82" y="509.10" width="4.2" height="4.2"/><rect x="270.73" y="509.10" width="4.2" height="4.2"/><rect x="273.65" y="509.10" width="4.2" height="4.2"/><rect x="276.57" y="509.10" width="4.2" height="4.2"/><rect x="279.48" y="509.10" width="4.2" height="4.2"/><rect x="282.40" y="509.10" width="4.2" height="4.2"/><rect x="285.32" y="509.10" width="4.2" height="4.2"/><rect x="288.23" y="509.10" width="4.2" height="4.2"/><rect x="291.15" y="509.10" width="4.2" height="4.2"/><rect x="294.07" y="509.10" width="4.2" height="4.2"/><rect x="296.98" y="509.10" width="4.2" height="4.2"/><rect x="299.90" y="509.10" width="4.2" height="4.2"/><rect x="303.90" y="507.30" width="4.2" height="4.2"/><rect x="305.90" y="504.60" width="4.2" height="4.2"/><rect x="307.90" y="497.80" width="4.2" height="4.2"/><rect x="309.90" y="482.70" width="4.2" height="4.2"/><rect x="312.90" y="482.70" width="4.2" height="4.2"/><rect x="316.70" y="505.00" width="4.2" height="4.2"/><rect x="319.90" y="508.40" width="4.2" height="4.2"/><rect x="322.79" y="508.48" width="4.2" height="4.2"/><rect x="325.68" y="508.56" width="4.2" height="4.2"/><rect x="328.57" y="508.64" width="4.2" height="4.2"/><rect x="331.46" y="508.72" width="4.2" height="4.2"/><rect x="334.35" y="508.80" width="4.2" height="4.2"/><rect x="337.24" y="508.88" width="4.2" height="4.2"/><rect x="340.13" y="508.96" width="4.2" height="4.2"/><rect x="343.02" y="509.03" width="4.2" height="4.2"/><rect x="345.91" y="509.11" width="4.2" height="4.2"/><rect x="348.80" y="509.19" width="4.2" height="4.2"/><rect x="351.69" y="509.27" width="4.2" height="4.2"/><rect x="354.58" y="509.35" width="4.2" height="4.2"/><rect x="357.47" y="509.43" width="4.2" height="4.2"/><rect x="360.36" y="509.51" width="4.2" height="4.2"/><rect x="363.24" y="509.59" width="4.2" height="4.2"/><rect x="366.13" y="509.67" width="4.2" height="4.2"/><rect x="369.02" y="509.75" width="4.2" height="4.2"/><rect x="371.91" y="509.83" width="4.2" height="4.2"/><rect x="374.80" y="509.91" width="4.2" height="4.2"/><rect x="377.69" y="509.99" width="4.2" height="4.2"/><rect x="380.58" y="510.07" width="4.2" height="4.2"/><rect x="383.47" y="510.14" width="4.2" height="4.2"/><rect x="386.36" y="510.22" width="4.2" height="4.2"/><rect x="389.25" y="510.30" width="4.2" height="4.2"/><rect x="392.14" y="510.38" width="4.2" height="4.2"/><rect x="395.03" y="510.46" width="4.2" height="4.2"/><rect x="397.92" y="510.54" width="4.2" height="4.2"/><rect x="400.81" y="510.62" width="4.2" height="4.2"/><rect x="403.70" y="510.70" width="4.2" height="4.2"/></g>
<path d="M263.10 504.10 L265.00 508.50 L267.00 510.60 L269.92 510.60 L272.83 510.60 L275.75 510.60 L278.67 510.60 L281.58 510.60 L284.50 510.60 L287.42 510.60 L290.33 510.60 L293.25 510.60 L296.17 510.60 L299.08 510.60 L302.00 510.60 L305.33 510.10 L308.67 509.60 L312.00 509.10 L316.00 507.80 L317.90 502.80 L320.80 492.80 L323.70 497.40 L325.80 507.70 L328.70 510.90 L330.00 512.80 L332.90 512.80 L335.81 512.80 L338.71 512.80 L341.62 512.80 L344.52 512.80 L347.43 512.80 L350.33 512.80 L353.23 512.80 L356.14 512.80 L359.04 512.80 L361.95 512.80 L364.85 512.80 L367.76 512.80 L370.66 512.80 L373.57 512.80 L376.47 512.80 L379.37 512.80 L382.28 512.80 L385.18 512.80 L388.09 512.80 L390.99 512.80 L393.90 512.80 L396.80 512.80 L399.80 512.20 L402.80 511.60 L405.80 511.10" fill="none" stroke="#ff6a6a" stroke-width="0.5"/><g fill="#ff0000"><circle cx="263.10" cy="504.10" r="2.35"/><circle cx="265.00" cy="508.50" r="2.35"/><circle cx="267.00" cy="510.60" r="2.35"/><circle cx="269.92" cy="510.60" r="2.35"/><circle cx="272.83" cy="510.60" r="2.35"/><circle cx="275.75" cy="510.60" r="2.35"/><circle cx="278.67" cy="510.60" r="2.35"/><circle cx="281.58" cy="510.60" r="2.35"/><circle cx="284.50" cy="510.60" r="2.35"/><circle cx="287.42" cy="510.60" r="2.35"/><circle cx="290.33" cy="510.60" r="2.35"/><circle cx="293.25" cy="510.60" r="2.35"/><circle cx="296.17" cy="510.60" r="2.35"/><circle cx="299.08" cy="510.60" r="2.35"/><circle cx="302.00" cy="510.60" r="2.35"/><circle cx="305.33" cy="510.10" r="2.35"/><circle cx="308.67" cy="509.60" r="2.35"/><circle cx="312.00" cy="509.10" r="2.35"/><circle cx="316.00" cy="507.80" r="2.35"/><circle cx="317.90" cy="502.80" r="2.35"/><circle cx="320.80" cy="492.80" r="2.35"/><circle cx="323.70" cy="497.40" r="2.35"/><circle cx="325.80" cy="507.70" r="2.35"/><circle cx="328.70" cy="510.90" r="2.35"/><circle cx="330.00" cy="512.80" r="2.35"/><circle cx="332.90" cy="512.80" r="2.35"/><circle cx="335.81" cy="512.80" r="2.35"/><circle cx="338.71" cy="512.80" r="2.35"/><circle cx="341.62" cy="512.80" r="2.35"/><circle cx="344.52" cy="512.80" r="2.35"/><circle cx="347.43" cy="512.80" r="2.35"/><circle cx="350.33" cy="512.80" r="2.35"/><circle cx="353.23" cy="512.80" r="2.35"/><circle cx="356.14" cy="512.80" r="2.35"/><circle cx="359.04" cy="512.80" r="2.35"/><circle cx="361.95" cy="512.80" r="2.35"/><circle cx="364.85" cy="512.80" r="2.35"/><circle cx="367.76" cy="512.80" r="2.35"/><circle cx="370.66" cy="512.80" r="2.35"/><circle cx="373.57" cy="512.80" r="2.35"/><circle cx="376.47" cy="512.80" r="2.35"/><circle cx="379.37" cy="512.80" r="2.35"/><circle cx="382.28" cy="512.80" r="2.35"/><circle cx="385.18" cy="512.80" r="2.35"/><circle cx="388.09" cy="512.80" r="2.35"/><circle cx="390.99" cy="512.80" r="2.35"/><circle cx="393.90" cy="512.80" r="2.35"/><circle cx="396.80" cy="512.80" r="2.35"/><circle cx="399.80" cy="512.20" r="2.35"/><circle cx="402.80" cy="511.60" r="2.35"/><circle cx="405.80" cy="511.10" r="2.35"/></g>
<path d="M263.10 505.20 L265.00 508.50 L267.00 509.40 L269.92 509.48 L272.83 509.55 L275.75 509.63 L278.67 509.70 L281.58 509.78 L284.50 509.85 L287.42 509.93 L290.33 510.00 L293.25 510.08 L296.17 510.15 L299.08 510.23 L302.00 510.30 L305.33 509.87 L308.67 509.43 L312.00 509.00 L315.50 508.55 L319.00 508.10 L321.35 504.60 L323.70 501.10 L326.20 498.60 L328.70 506.10 L331.80 511.10 L334.75 511.15 L337.71 511.19 L340.66 511.24 L343.62 511.28 L346.57 511.33 L349.53 511.37 L352.48 511.42 L355.44 511.46 L358.39 511.51 L361.35 511.55 L364.30 511.60 L367.25 511.65 L370.21 511.69 L373.16 511.74 L376.12 511.78 L379.07 511.83 L382.03 511.87 L384.98 511.92 L387.94 511.96 L390.89 512.01 L393.85 512.05 L396.80 512.10 L399.80 510.60 L402.80 509.10 L405.80 508.10" fill="none" stroke="#4aa04a" stroke-width="0.5"/><g fill="#008000"><path d="M263.10 502.50L265.70 507.00L260.50 507.00Z"/><path d="M265.00 505.80L267.60 510.30L262.40 510.30Z"/><path d="M267.00 506.70L269.60 511.20L264.40 511.20Z"/><path d="M269.92 506.78L272.52 511.28L267.32 511.28Z"/><path d="M272.83 506.85L275.43 511.35L270.23 511.35Z"/><path d="M275.75 506.93L278.35 511.43L273.15 511.43Z"/><path d="M278.67 507.00L281.27 511.50L276.07 511.50Z"/><path d="M281.58 507.08L284.18 511.58L278.98 511.58Z"/><path d="M284.50 507.15L287.10 511.65L281.90 511.65Z"/><path d="M287.42 507.23L290.02 511.73L284.82 511.73Z"/><path d="M290.33 507.30L292.93 511.80L287.73 511.80Z"/><path d="M293.25 507.38L295.85 511.88L290.65 511.88Z"/><path d="M296.17 507.45L298.77 511.95L293.57 511.95Z"/><path d="M299.08 507.53L301.68 512.02L296.48 512.02Z"/><path d="M302.00 507.60L304.60 512.10L299.40 512.10Z"/><path d="M305.33 507.17L307.93 511.67L302.73 511.67Z"/><path d="M308.67 506.73L311.27 511.23L306.07 511.23Z"/><path d="M312.00 506.30L314.60 510.80L309.40 510.80Z"/><path d="M315.50 505.85L318.10 510.35L312.90 510.35Z"/><path d="M319.00 505.40L321.60 509.90L316.40 509.90Z"/><path d="M321.35 501.90L323.95 506.40L318.75 506.40Z"/><path d="M323.70 498.40L326.30 502.90L321.10 502.90Z"/><path d="M326.20 495.90L328.80 500.40L323.60 500.40Z"/><path d="M328.70 503.40L331.30 507.90L326.10 507.90Z"/><path d="M331.80 508.40L334.40 512.90L329.20 512.90Z"/><path d="M334.75 508.45L337.35 512.95L332.15 512.95Z"/><path d="M337.71 508.49L340.31 512.99L335.11 512.99Z"/><path d="M340.66 508.54L343.26 513.04L338.06 513.04Z"/><path d="M343.62 508.58L346.22 513.08L341.02 513.08Z"/><path d="M346.57 508.63L349.17 513.13L343.97 513.13Z"/><path d="M349.53 508.67L352.13 513.17L346.93 513.17Z"/><path d="M352.48 508.72L355.08 513.22L349.88 513.22Z"/><path d="M355.44 508.76L358.04 513.26L352.84 513.26Z"/><path d="M358.39 508.81L360.99 513.31L355.79 513.31Z"/><path d="M361.35 508.85L363.95 513.35L358.75 513.35Z"/><path d="M364.30 508.90L366.90 513.40L361.70 513.40Z"/><path d="M367.25 508.95L369.85 513.45L364.65 513.45Z"/><path d="M370.21 508.99L372.81 513.49L367.61 513.49Z"/><path d="M373.16 509.04L375.76 513.54L370.56 513.54Z"/><path d="M376.12 509.08L378.72 513.58L373.52 513.58Z"/><path d="M379.07 509.13L381.67 513.63L376.47 513.63Z"/><path d="M382.03 509.17L384.63 513.67L379.43 513.67Z"/><path d="M384.98 509.22L387.58 513.72L382.38 513.72Z"/><path d="M387.94 509.26L390.54 513.76L385.34 513.76Z"/><path d="M390.89 509.31L393.49 513.81L388.29 513.81Z"/><path d="M393.85 509.35L396.45 513.85L391.25 513.85Z"/><path d="M396.80 509.40L399.40 513.90L394.20 513.90Z"/><path d="M399.80 507.90L402.40 512.40L397.20 512.40Z"/><path d="M402.80 506.40L405.40 510.90L400.20 510.90Z"/><path d="M405.80 505.40L408.40 509.90L403.20 509.90Z"/></g>
</g>
<text transform="translate(257.40 351.60) scale(1 1.060)" font-size="9.70" text-anchor="end">0.0000</text>
<text transform="translate(257.40 324.00) scale(1 1.060)" font-size="9.70" text-anchor="end">0.0001</text>
<text transform="translate(257.40 296.40) scale(1 1.060)" font-size="9.70" text-anchor="end">0.0002</text>
<text transform="translate(263.20 304.30) scale(1 1.060)" font-size="9.60" text-anchor="start">0.2 m</text>
<text transform="translate(257.40 406.80) scale(1 1.060)" font-size="9.70" text-anchor="end">0.0000</text>
<text transform="translate(257.40 379.20) scale(1 1.060)" font-size="9.70" text-anchor="end">0.0001</text>
<text transform="translate(263.20 358.50) scale(1 1.060)" font-size="9.60" text-anchor="start">0.4 m</text>
<text transform="translate(257.40 462.00) scale(1 1.060)" font-size="9.70" text-anchor="end">0.0000</text>
<text transform="translate(257.40 434.40) scale(1 1.060)" font-size="9.70" text-anchor="end">0.0001</text>
<text transform="translate(263.20 414.90) scale(1 1.060)" font-size="9.60" text-anchor="start">0.6 m</text>
<text transform="translate(257.40 517.20) scale(1 1.060)" font-size="9.70" text-anchor="end">0.0000</text>
<text transform="translate(257.40 489.60) scale(1 1.060)" font-size="9.70" text-anchor="end">0.0001</text>
<text transform="translate(263.20 471.40) scale(1 1.060)" font-size="9.60" text-anchor="start">0.8 m</text>
<text transform="translate(261.80 526.10) scale(1 1.060)" font-size="9.60" text-anchor="middle">0.00</text>
<text transform="translate(288.80 526.10) scale(1 1.060)" font-size="9.60" text-anchor="middle">0.01</text>
<text transform="translate(315.80 526.10) scale(1 1.060)" font-size="9.60" text-anchor="middle">0.02</text>
<text transform="translate(342.80 526.10) scale(1 1.060)" font-size="9.60" text-anchor="middle">0.03</text>
<text transform="translate(369.80 526.10) scale(1 1.060)" font-size="9.60" text-anchor="middle">0.04</text>
<text transform="translate(396.80 526.10) scale(1 1.060)" font-size="9.60" text-anchor="middle">0.05</text>
<text transform="translate(266.80 545.60) scale(1 1.020)" font-size="14.75" text-anchor="start">Radial distance r / m</text>
<text transform="translate(222.10 403.30) rotate(-90)" font-size="14.9" text-anchor="middle">Solids concentration (1-ε) / -</text>
<text transform="translate(211.00 290.50) scale(1 1.050)" font-size="14.50" text-anchor="start">d)</text>
<text x="329.80" y="304.40" font-size="9.0">ṁ<tspan font-size="6.7" dy="3.2" dx="0.9">aerosol</tspan></text>
<path d="M329.00 315.60H350.50" stroke="#b4b4b4" stroke-width="1"/>
<g fill="#000000"><rect x="337.90" y="313.50" width="4.2" height="4.2"/></g>
<text transform="translate(354.50 319.40) scale(1 1.060)" font-size="9.80" text-anchor="start">1.35 kg/h</text>
<path d="M329.00 327.50H350.50" stroke="#ffa8a8" stroke-width="1"/>
<g fill="#ff0000"><circle cx="340.00" cy="327.50" r="2.35"/></g>
<text transform="translate(354.50 331.30) scale(1 1.060)" font-size="9.80" text-anchor="start">2.28 kg/h</text>
<path d="M329.00 339.20H350.50" stroke="#9ccc9c" stroke-width="1"/>
<g fill="#008000"><path d="M340.00 336.50L342.60 341.00L337.40 341.00Z"/></g>
<text transform="translate(354.50 343.00) scale(1 1.060)" font-size="9.80" text-anchor="start">2.91 kg/h</text>
</svg></body></html>
